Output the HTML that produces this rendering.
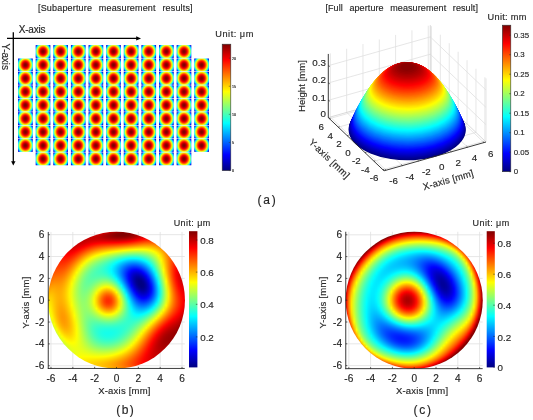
<!DOCTYPE html>
<html><head><meta charset="utf-8"><title>Figure</title>
<style>
html,body{margin:0;padding:0;background:#fff}
#fig{position:relative;width:533px;height:420px;overflow:hidden;background:#fff;font-family:"Liberation Sans", sans-serif}
#fig svg{position:absolute;left:0;top:0;font-family:"Liberation Sans", sans-serif}
.hm{position:absolute;overflow:hidden}
.hm i{display:block;height:1px}
text{fill:#262626;stroke:#262626;stroke-width:.15px}
</style></head><body><div id="fig">
<svg width="533" height="420" viewBox="0 0 533 420">
<line x1="50.98" y1="231.95" x2="50.98" y2="368.45" stroke="#dfdfdf" stroke-width="0.8"/>
<line x1="48.25" y1="365.72" x2="184.75" y2="365.72" stroke="#dfdfdf" stroke-width="0.8"/>
<line x1="72.82" y1="231.95" x2="72.82" y2="368.45" stroke="#dfdfdf" stroke-width="0.8"/>
<line x1="48.25" y1="343.88" x2="184.75" y2="343.88" stroke="#dfdfdf" stroke-width="0.8"/>
<line x1="94.66" y1="231.95" x2="94.66" y2="368.45" stroke="#dfdfdf" stroke-width="0.8"/>
<line x1="48.25" y1="322.04" x2="184.75" y2="322.04" stroke="#dfdfdf" stroke-width="0.8"/>
<line x1="116.5" y1="231.95" x2="116.5" y2="368.45" stroke="#dfdfdf" stroke-width="0.8"/>
<line x1="48.25" y1="300.2" x2="184.75" y2="300.2" stroke="#dfdfdf" stroke-width="0.8"/>
<line x1="138.34" y1="231.95" x2="138.34" y2="368.45" stroke="#dfdfdf" stroke-width="0.8"/>
<line x1="48.25" y1="278.36" x2="184.75" y2="278.36" stroke="#dfdfdf" stroke-width="0.8"/>
<line x1="160.18" y1="231.95" x2="160.18" y2="368.45" stroke="#dfdfdf" stroke-width="0.8"/>
<line x1="48.25" y1="256.52" x2="184.75" y2="256.52" stroke="#dfdfdf" stroke-width="0.8"/>
<line x1="182.02" y1="231.95" x2="182.02" y2="368.45" stroke="#dfdfdf" stroke-width="0.8"/>
<line x1="48.25" y1="234.68" x2="184.75" y2="234.68" stroke="#dfdfdf" stroke-width="0.8"/>
<line x1="348.8" y1="231.75" x2="348.8" y2="368.65" stroke="#dfdfdf" stroke-width="0.8"/>
<line x1="345.75" y1="365.6" x2="482.65" y2="365.6" stroke="#dfdfdf" stroke-width="0.8"/>
<line x1="370.6" y1="231.75" x2="370.6" y2="368.65" stroke="#dfdfdf" stroke-width="0.8"/>
<line x1="345.75" y1="343.8" x2="482.65" y2="343.8" stroke="#dfdfdf" stroke-width="0.8"/>
<line x1="392.4" y1="231.75" x2="392.4" y2="368.65" stroke="#dfdfdf" stroke-width="0.8"/>
<line x1="345.75" y1="322" x2="482.65" y2="322" stroke="#dfdfdf" stroke-width="0.8"/>
<line x1="414.2" y1="231.75" x2="414.2" y2="368.65" stroke="#dfdfdf" stroke-width="0.8"/>
<line x1="345.75" y1="300.2" x2="482.65" y2="300.2" stroke="#dfdfdf" stroke-width="0.8"/>
<line x1="436" y1="231.75" x2="436" y2="368.65" stroke="#dfdfdf" stroke-width="0.8"/>
<line x1="345.75" y1="278.4" x2="482.65" y2="278.4" stroke="#dfdfdf" stroke-width="0.8"/>
<line x1="457.8" y1="231.75" x2="457.8" y2="368.65" stroke="#dfdfdf" stroke-width="0.8"/>
<line x1="345.75" y1="256.6" x2="482.65" y2="256.6" stroke="#dfdfdf" stroke-width="0.8"/>
<line x1="479.6" y1="231.75" x2="479.6" y2="368.65" stroke="#dfdfdf" stroke-width="0.8"/>
<line x1="345.75" y1="234.8" x2="482.65" y2="234.8" stroke="#dfdfdf" stroke-width="0.8"/>
</svg>
<div class="hm" style="left:47px;top:230px;width:139px;height:140px;clip-path:circle(68.47px at 69.5px 70.2px)">
<i style="background:linear-gradient(90deg,#800000,#800000,#800000,#ff0c00,#ff9100,#ffde00,#f9ff06,#ebff14,#edff12,#f9ff06,#fff600,#ffe400,#ffd300,#ffc200,#ffb300,#ffa500,#ff9600,#ff8800,#ff7a00,#ff6b00,#ff5b00,#ff4a00,#ff3800,#ff2600,#ff1300,#ff0100,#ef0000,#df0000,#d10000,#c60000,#bd0000,#b80000,#b50000,#b60000,#b90000,#be0000,#c60000,#ce0000,#d60000,#de0000,#e30000,#e50000,#e40000,#de0000,#d30000,#c20000,#ad0000,#940000,#800000,#800000,#800000,#800000,#800000,#800000,#800000,#800000,#a60000)"></i>
<i style="background:linear-gradient(90deg,#800000,#800000,#800000,#f30000,#ff6e00,#ffb400,#ffd500,#ffdf00,#ffda00,#ffcc00,#ffbc00,#ffaa00,#ff9900,#ff8900,#ff7b00,#ff6e00,#ff6100,#ff5500,#ff4800,#ff3b00,#ff2d00,#ff1e00,#ff0e00,#fc0000,#ec0000,#db0000,#cc0000,#be0000,#b20000,#a80000,#a10000,#9d0000,#9c0000,#9e0000,#a20000,#a90000,#b20000,#bb0000,#c50000,#cd0000,#d40000,#d80000,#d80000,#d30000,#ca0000,#bb0000,#a70000,#900000,#800000,#800000,#800000,#800000,#800000,#800000,#800000,#800000,#b10000)"></i>
<i style="background:linear-gradient(90deg,#800000,#800000,#800000,#e00000,#ff5200,#ff9000,#ffac00,#ffb200,#ffaa00,#ff9c00,#ff8a00,#ff7900,#ff6800,#ff5a00,#ff4d00,#ff4100,#ff3600,#ff2b00,#ff2000,#ff1500,#ff0800,#fa0000,#ec0000,#de0000,#cf0000,#c00000,#b30000,#a60000,#9c0000,#940000,#8e0000,#8b0000,#8c0000,#8f0000,#940000,#9c0000,#a60000,#b00000,#bb0000,#c40000,#cc0000,#d10000,#d20000,#cf0000,#c70000,#b90000,#a70000,#910000,#800000,#800000,#800000,#800000,#800000,#800000,#800000,#800000,#bf0000)"></i>
<i style="background:linear-gradient(90deg,#800000,#800000,#800000,#d20000,#ff3a00,#ff7200,#ff8900,#ff8b00,#ff8200,#ff7200,#ff6100,#ff4f00,#ff4000,#ff3200,#ff2600,#ff1c00,#ff1300,#ff0a00,#ff0100,#f60000,#ec0000,#e10000,#d40000,#c80000,#bb0000,#ae0000,#a20000,#970000,#8e0000,#880000,#830000,#820000,#830000,#870000,#8e0000,#970000,#a10000,#ac0000,#b80000,#c20000,#cb0000,#d00000,#d20000,#d00000,#c90000,#bd0000,#ac0000,#970000,#800000,#800000,#800000,#800000,#800000,#800000,#800000,#820000,#ce0000)"></i>
<i style="background:linear-gradient(90deg,#800000,#800000,#800000,#c60000,#ff2700,#ff5800,#ff6b00,#ff6b00,#ff6000,#ff4f00,#ff3e00,#ff2d00,#ff1e00,#ff1200,#ff0800,#fe0000,#f70000,#f00000,#e90000,#e10000,#d80000,#cf0000,#c40000,#b90000,#ae0000,#a30000,#990000,#900000,#880000,#830000,#800000,#800000,#810000,#860000,#8e0000,#970000,#a20000,#ae0000,#ba0000,#c50000,#ce0000,#d40000,#d70000,#d50000,#cf0000,#c40000,#b40000,#a00000,#8a0000,#800000,#800000,#800000,#800000,#800000,#800000,#920000,#df0000)"></i>
<i style="background:linear-gradient(90deg,#800000,#800000,#800000,#be0000,#ff1700,#ff4300,#ff5200,#ff4f00,#ff4300,#ff3200,#ff2100,#ff1100,#ff0300,#f70000,#ef0000,#e80000,#e20000,#dd0000,#d80000,#d20000,#cb0000,#c30000,#bb0000,#b20000,#a80000,#9f0000,#960000,#8e0000,#880000,#840000,#820000,#820000,#860000,#8b0000,#930000,#9d0000,#a90000,#b50000,#c10000,#cd0000,#d60000,#dd0000,#e00000,#df0000,#d90000,#ce0000,#bf0000,#ac0000,#960000,#800000,#800000,#800000,#800000,#800000,#800000,#a30000,#ef0000)"></i>
<i style="background:linear-gradient(90deg,#800000,#800000,#800000,#b90000,#ff0b00,#ff3200,#ff3d00,#ff3800,#ff2b00,#ff1a00,#ff0900,#f90000,#ed0000,#e30000,#dc0000,#d80000,#d40000,#d00000,#cd0000,#c90000,#c40000,#be0000,#b70000,#b00000,#a80000,#a00000,#990000,#920000,#8e0000,#8b0000,#8a0000,#8b0000,#8f0000,#950000,#9e0000,#a80000,#b40000,#c00000,#cd0000,#d80000,#e20000,#e90000,#ec0000,#eb0000,#e50000,#db0000,#cc0000,#ba0000,#a50000,#8f0000,#800000,#800000,#800000,#800000,#850000,#b40000,#ff0100)"></i>
<i style="background:linear-gradient(90deg,#800000,#800000,#800000,#b50000,#ff0100,#ff2300,#ff2c00,#ff2500,#ff1700,#ff0600,#f50000,#e70000,#dc0000,#d40000,#cf0000,#cc0000,#ca0000,#c90000,#c70000,#c50000,#c20000,#be0000,#b90000,#b30000,#ad0000,#a60000,#a10000,#9c0000,#980000,#960000,#960000,#980000,#9d0000,#a40000,#ac0000,#b70000,#c30000,#cf0000,#db0000,#e70000,#f00000,#f70000,#fa0000,#fa0000,#f40000,#ea0000,#dc0000,#c90000,#b50000,#a00000,#8c0000,#800000,#800000,#800000,#970000,#c60000,#ff1200)"></i>
<i style="background:linear-gradient(90deg,#800000,#800000,#800000,#b40000,#f80000,#ff1700,#ff1d00,#ff1500,#ff0700,#f50000,#e60000,#d90000,#d00000,#ca0000,#c70000,#c60000,#c60000,#c60000,#c60000,#c60000,#c50000,#c20000,#bf0000,#ba0000,#b60000,#b10000,#ad0000,#a90000,#a60000,#a50000,#a60000,#a90000,#ae0000,#b50000,#bf0000,#c90000,#d50000,#e10000,#ed0000,#f80000,#ff0200,#ff0900,#ff0c00,#ff0b00,#ff0600,#fb0000,#ec0000,#da0000,#c60000,#b10000,#9d0000,#8f0000,#890000,#900000,#a80000,#d70000,#ff2200)"></i>
<i style="background:linear-gradient(90deg,#800000,#800000,#800000,#b30000,#f30000,#ff0e00,#ff1200,#ff0900,#f90000,#e90000,#da0000,#cf0000,#c80000,#c30000,#c20000,#c30000,#c50000,#c70000,#c90000,#cb0000,#cb0000,#ca0000,#c80000,#c60000,#c30000,#bf0000,#bc0000,#ba0000,#b80000,#b80000,#ba0000,#be0000,#c30000,#ca0000,#d40000,#de0000,#ea0000,#f60000,#ff0200,#ff0d00,#ff1600,#ff1c00,#ff1e00,#ff1d00,#ff1700,#ff0d00,#fd0000,#eb0000,#d70000,#c20000,#af0000,#a00000,#9b0000,#a10000,#b90000,#e70000,#ff3100)"></i>
<i style="background:linear-gradient(90deg,#800000,#800000,#800000,#b50000,#ef0000,#ff0700,#ff0900,#fe0000,#ef0000,#df0000,#d20000,#c80000,#c30000,#c00000,#c10000,#c40000,#c70000,#cc0000,#d00000,#d30000,#d50000,#d60000,#d50000,#d40000,#d20000,#d00000,#cf0000,#cd0000,#cd0000,#ce0000,#d00000,#d50000,#da0000,#e20000,#eb0000,#f50000,#ff0200,#ff0d00,#ff1800,#ff2200,#ff2a00,#ff3000,#ff3200,#ff3000,#ff2a00,#ff1f00,#ff1000,#fd0000,#e80000,#d30000,#c00000,#b10000,#ab0000,#b20000,#c90000,#f60000,#ff3f00)"></i>
<i style="background:linear-gradient(90deg,#800000,#800000,#800000,#b70000,#ec0000,#ff0100,#ff0200,#f60000,#e70000,#d90000,#cd0000,#c50000,#c00000,#c00000,#c30000,#c70000,#cd0000,#d30000,#d90000,#de0000,#e10000,#e40000,#e50000,#e50000,#e50000,#e40000,#e40000,#e40000,#e40000,#e60000,#e90000,#ee0000,#f40000,#fc0000,#ff0600,#ff1000,#ff1a00,#ff2500,#ff3000,#ff3900,#ff4000,#ff4500,#ff4600,#ff4300,#ff3c00,#ff3100,#ff2200,#ff0f00,#f90000,#e40000,#d10000,#c20000,#bc0000,#c10000,#d80000,#ff0500,#ff4b00)"></i>
<i style="background:linear-gradient(90deg,#800000,#800000,#800000,#b90000,#eb0000,#fc0000,#fb0000,#f00000,#e20000,#d40000,#ca0000,#c30000,#c10000,#c20000,#c70000,#cd0000,#d50000,#dd0000,#e40000,#eb0000,#f00000,#f40000,#f70000,#f90000,#fa0000,#fa0000,#fb0000,#fc0000,#fd0000,#ff0100,#ff0500,#ff0a00,#ff1000,#ff1800,#ff2100,#ff2a00,#ff3500,#ff3f00,#ff4800,#ff5000,#ff5700,#ff5a00,#ff5b00,#ff5700,#ff5000,#ff4400,#ff3400,#ff2000,#ff0b00,#f40000,#e10000,#d20000,#cb0000,#d00000,#e60000,#ff1200,#ff5600)"></i>
<i style="background:linear-gradient(90deg,#800000,#800000,#800000,#bd0000,#ea0000,#fa0000,#f70000,#ec0000,#de0000,#d20000,#c90000,#c40000,#c40000,#c70000,#cd0000,#d60000,#df0000,#e90000,#f20000,#fa0000,#ff0200,#ff0700,#ff0c00,#ff0f00,#ff1100,#ff1300,#ff1400,#ff1600,#ff1900,#ff1d00,#ff2100,#ff2700,#ff2d00,#ff3500,#ff3d00,#ff4600,#ff5000,#ff5900,#ff6200,#ff6900,#ff6e00,#ff7000,#ff7000,#ff6b00,#ff6300,#ff5600,#ff4500,#ff3100,#ff1b00,#ff0500,#f00000,#e00000,#d90000,#dd0000,#f20000,#ff1d00,#ff6000)"></i>
<i style="background:linear-gradient(90deg,#800000,#800000,#800000,#c10000,#eb0000,#f80000,#f50000,#ea0000,#dd0000,#d10000,#ca0000,#c70000,#c80000,#cd0000,#d60000,#e00000,#eb0000,#f70000,#ff0300,#ff0c00,#ff1400,#ff1b00,#ff2100,#ff2500,#ff2800,#ff2b00,#ff2e00,#ff3100,#ff3500,#ff3900,#ff3e00,#ff4400,#ff4b00,#ff5300,#ff5b00,#ff6300,#ff6c00,#ff7400,#ff7c00,#ff8200,#ff8600,#ff8700,#ff8500,#ff7f00,#ff7500,#ff6800,#ff5600,#ff4100,#ff2b00,#ff1400,#fe0000,#ee0000,#e60000,#e90000,#fd0000,#ff2700,#ff6800)"></i>
<i style="background:linear-gradient(90deg,#800000,#800000,#800000,#c50000,#ec0000,#f70000,#f30000,#e80000,#dc0000,#d20000,#cc0000,#cb0000,#ce0000,#d60000,#e00000,#ec0000,#f90000,#ff0700,#ff1300,#ff1e00,#ff2800,#ff3000,#ff3700,#ff3c00,#ff4100,#ff4500,#ff4900,#ff4d00,#ff5200,#ff5700,#ff5c00,#ff6300,#ff6a00,#ff7100,#ff7900,#ff8100,#ff8900,#ff9000,#ff9600,#ff9b00,#ff9d00,#ff9d00,#ff9a00,#ff9300,#ff8800,#ff7900,#ff6600,#ff5100,#ff3900,#ff2100,#ff0c00,#fa0000,#f10000,#f40000,#ff0800,#ff2f00,#ff6f00)"></i>
<i style="background:linear-gradient(90deg,#800000,#800000,#800000,#ca0000,#ee0000,#f70000,#f30000,#e80000,#dd0000,#d40000,#d00000,#d00000,#d60000,#df0000,#eb0000,#f90000,#ff0900,#ff1700,#ff2500,#ff3200,#ff3d00,#ff4600,#ff4e00,#ff5500,#ff5a00,#ff6000,#ff6500,#ff6a00,#ff6f00,#ff7500,#ff7b00,#ff8200,#ff8900,#ff9000,#ff9800,#ff9f00,#ffa600,#ffac00,#ffb100,#ffb400,#ffb500,#ffb400,#ffaf00,#ffa600,#ff9a00,#ff8900,#ff7600,#ff5f00,#ff4700,#ff2e00,#ff1800,#ff0600,#fc0000,#fe0000,#ff1000,#ff3600,#ff7300)"></i>
<i style="background:linear-gradient(90deg,#800000,#800000,#860000,#cf0000,#f00000,#f80000,#f30000,#e90000,#df0000,#d70000,#d50000,#d70000,#de0000,#e90000,#f70000,#ff0800,#ff1900,#ff2900,#ff3800,#ff4600,#ff5200,#ff5c00,#ff6500,#ff6d00,#ff7400,#ff7a00,#ff8000,#ff8700,#ff8d00,#ff9300,#ff9a00,#ffa100,#ffa900,#ffb000,#ffb700,#ffbe00,#ffc400,#ffc900,#ffcc00,#ffce00,#ffcd00,#ffca00,#ffc300,#ffb900,#ffab00,#ff9900,#ff8400,#ff6d00,#ff5300,#ff3a00,#ff2300,#ff1000,#ff0600,#ff0700,#ff1700,#ff3b00,#ff7700)"></i>
<i style="background:linear-gradient(90deg,#800000,#800000,#8f0000,#d40000,#f20000,#f90000,#f40000,#eb0000,#e10000,#db0000,#da0000,#df0000,#e80000,#f50000,#ff0600,#ff1700,#ff2900,#ff3b00,#ff4b00,#ff5a00,#ff6800,#ff7300,#ff7d00,#ff8600,#ff8e00,#ff9500,#ff9c00,#ffa300,#ffab00,#ffb200,#ffb900,#ffc100,#ffc800,#ffd000,#ffd600,#ffdc00,#ffe100,#ffe500,#ffe700,#ffe700,#ffe500,#ffe000,#ffd700,#ffcb00,#ffbc00,#ffa900,#ff9200,#ff7900,#ff5f00,#ff4400,#ff2c00,#ff1900,#ff0d00,#ff0d00,#ff1d00,#ff3f00,#ff7900)"></i>
<i style="background:linear-gradient(90deg,#800000,#800000,#980000,#d90000,#f50000,#fb0000,#f60000,#ed0000,#e50000,#e00000,#e10000,#e70000,#f20000,#ff0200,#ff1400,#ff2700,#ff3a00,#ff4d00,#ff5f00,#ff6f00,#ff7d00,#ff8a00,#ff9500,#ff9f00,#ffa800,#ffb000,#ffb800,#ffc000,#ffc800,#ffd000,#ffd800,#ffe000,#ffe800,#ffef00,#fff600,#fffb00,#ffff00,#fdff02,#fcff03,#feff01,#fffc00,#fff500,#ffeb00,#ffdd00,#ffcc00,#ffb700,#ff9f00,#ff8500,#ff6900,#ff4e00,#ff3400,#ff2000,#ff1400,#ff1300,#ff2100,#ff4100,#ff7900)"></i>
<i style="background:linear-gradient(90deg,#800000,#800000,#a10000,#de0000,#f80000,#fd0000,#f80000,#f00000,#e90000,#e60000,#e80000,#f00000,#fd0000,#ff0f00,#ff2200,#ff3700,#ff4c00,#ff6000,#ff7300,#ff8400,#ff9300,#ffa100,#ffad00,#ffb800,#ffc100,#ffcb00,#ffd400,#ffdd00,#ffe500,#ffee00,#fff700,#feff01,#f6ff09,#efff10,#e9ff16,#e5ff1a,#e2ff1d,#e0ff1f,#e1ff1e,#e5ff1a,#ebff14,#f4ff0b,#fffe00,#ffef00,#ffdb00,#ffc500,#ffab00,#ff9000,#ff7300,#ff5600,#ff3c00,#ff2600,#ff1900,#ff1700,#ff2300,#ff4200,#ff7800)"></i>
<i style="background:linear-gradient(90deg,#800000,#800000,#a90000,#e30000,#fb0000,#ff0100,#fb0000,#f30000,#ed0000,#ec0000,#f00000,#fa0000,#ff0a00,#ff1c00,#ff3100,#ff4700,#ff5e00,#ff7300,#ff8700,#ff9900,#ffa900,#ffb800,#ffc400,#ffd000,#ffdb00,#ffe500,#ffef00,#fff800,#fcff03,#f2ff0d,#e8ff17,#dfff20,#d7ff28,#d0ff2f,#caff35,#c6ff39,#c4ff3b,#c4ff3b,#c7ff38,#ccff33,#d4ff2b,#dfff20,#edff12,#ffff00,#ffea00,#ffd200,#ffb700,#ff9900,#ff7b00,#ff5d00,#ff4200,#ff2b00,#ff1d00,#ff1900,#ff2500,#ff4200,#ff7600)"></i>
<i style="background:linear-gradient(90deg,#800000,#800000,#b10000,#e80000,#fe0000,#ff0300,#fd0000,#f70000,#f20000,#f30000,#f90000,#ff0500,#ff1600,#ff2a00,#ff4000,#ff5800,#ff6f00,#ff8600,#ff9b00,#ffae00,#ffbf00,#ffce00,#ffdb00,#ffe800,#fff300,#fffe00,#f5ff0a,#eaff15,#e0ff1f,#d5ff2a,#cbff34,#c1ff3e,#b8ff47,#b1ff4e,#acff53,#a8ff57,#a7ff58,#a8ff57,#acff53,#b3ff4c,#bdff42,#caff35,#dbff24,#eeff11,#fff800,#ffde00,#ffc100,#ffa200,#ff8200,#ff6300,#ff4700,#ff2f00,#ff2000,#ff1b00,#ff2500,#ff4100,#ff7200)"></i>
<i style="background:linear-gradient(90deg,#800000,#800000,#b90000,#ed0000,#ff0300,#ff0600,#ff0200,#fb0000,#f80000,#fa0000,#ff0300,#ff1000,#ff2200,#ff3800,#ff5000,#ff6900,#ff8100,#ff9900,#ffaf00,#ffc200,#ffd400,#ffe400,#fff200,#ffff00,#f3ff0c,#e7ff18,#dbff24,#d0ff2f,#c4ff3b,#b9ff46,#aeff51,#a3ff5c,#9aff65,#93ff6c,#8eff71,#8bff74,#8aff75,#8dff72,#92ff6d,#9bff64,#a7ff58,#b6ff49,#c9ff36,#dfff20,#f8ff07,#ffea00,#ffcb00,#ffaa00,#ff8900,#ff6900,#ff4b00,#ff3200,#ff2200,#ff1c00,#ff2400,#ff3f00,#ff6e00)"></i>
<i style="background:linear-gradient(90deg,#800000,#800000,#c10000,#f20000,#ff0700,#ff0a00,#ff0500,#ff0100,#fe0000,#ff0200,#ff0c00,#ff1b00,#ff2f00,#ff4600,#ff5f00,#ff7900,#ff9300,#ffac00,#ffc200,#ffd700,#ffe900,#fff900,#f6ff09,#e9ff16,#dcff23,#cfff30,#c3ff3c,#b6ff49,#aaff55,#9dff62,#91ff6e,#86ff79,#7dff82,#75ff8a,#70ff8f,#6dff92,#6eff91,#71ff8e,#78ff87,#83ff7c,#91ff6e,#a2ff5d,#b7ff48,#cfff30,#ebff14,#fff500,#ffd400,#ffb200,#ff8f00,#ff6d00,#ff4e00,#ff3400,#ff2300,#ff1c00,#ff2300,#ff3b00,#ff6900)"></i>
<i style="background:linear-gradient(90deg,#800000,#800000,#c90000,#f70000,#ff0a00,#ff0d00,#ff0900,#ff0500,#ff0500,#ff0a00,#ff1500,#ff2600,#ff3b00,#ff5400,#ff6f00,#ff8a00,#ffa500,#ffbe00,#ffd500,#ffea00,#fffd00,#f0ff0f,#e1ff1e,#d3ff2c,#c6ff39,#b9ff46,#abff54,#9eff61,#90ff6f,#83ff7c,#76ff89,#6aff95,#60ff9f,#58ffa7,#53ffac,#51ffae,#52ffad,#57ffa8,#5fffa0,#6bff94,#7bff84,#8fff70,#a6ff59,#c0ff3f,#deff21,#ffff00,#ffdd00,#ffb900,#ff9400,#ff7100,#ff5100,#ff3600,#ff2300,#ff1a00,#ff2000,#ff3700,#ff6200)"></i>
<i style="background:linear-gradient(90deg,#800000,#800000,#d00000,#fc0000,#ff0e00,#ff1100,#ff0d00,#ff0a00,#ff0b00,#ff1200,#ff1f00,#ff3100,#ff4800,#ff6200,#ff7e00,#ff9a00,#ffb600,#ffd000,#ffe800,#fffd00,#eeff11,#ddff22,#cdff32,#bfff40,#b1ff4e,#a3ff5c,#95ff6a,#86ff79,#78ff87,#69ff96,#5bffa4,#4fffb0,#44ffbb,#3cffc3,#36ffc9,#34ffcb,#36ffc9,#3cffc3,#46ffb9,#54ffab,#66ff99,#7cff83,#95ff6a,#b2ff4d,#d2ff2d,#f5ff0a,#ffe500,#ffbf00,#ff9900,#ff7400,#ff5200,#ff3600,#ff2200,#ff1900,#ff1d00,#ff3200,#ff5b00)"></i>
<i style="background:linear-gradient(90deg,#800000,#830000,#d80000,#ff0200,#ff1200,#ff1400,#ff1200,#ff1000,#ff1200,#ff1a00,#ff2800,#ff3c00,#ff5500,#ff7000,#ff8d00,#ffab00,#ffc700,#ffe200,#fffa00,#efff10,#dbff24,#caff35,#baff45,#abff54,#9dff62,#8eff71,#80ff7f,#70ff8f,#61ff9e,#51ffae,#42ffbd,#34ffcb,#29ffd6,#20ffdf,#1affe5,#19ffe6,#1bffe4,#22ffdd,#2dffd2,#3dffc2,#51ffae,#69ff96,#84ff7b,#a4ff5b,#c6ff39,#ebff14,#ffec00,#ffc400,#ff9d00,#ff7600,#ff5300,#ff3600,#ff2100,#ff1600,#ff1900,#ff2d00,#ff5400)"></i>
<i style="background:linear-gradient(90deg,#800000,#8e0000,#df0000,#ff0800,#ff1600,#ff1800,#ff1600,#ff1500,#ff1900,#ff2200,#ff3200,#ff4800,#ff6200,#ff7e00,#ff9c00,#ffbb00,#ffd800,#fff300,#f3ff0c,#ddff22,#caff35,#b8ff47,#a8ff57,#99ff66,#8aff75,#7bff84,#6cff93,#5bffa4,#4bffb4,#3affc5,#2affd5,#1bffe4,#0ffff0,#05fffa,#00feff,#00fdff,#01fffe,#08fff7,#15ffea,#26ffd9,#3cffc3,#56ffa9,#74ff8b,#96ff69,#baff45,#e2ff1d,#fff300,#ffca00,#ffa000,#ff7800,#ff5400,#ff3500,#ff1f00,#ff1300,#ff1500,#ff2700,#ff4c00)"></i>
<i style="background:linear-gradient(90deg,#800000,#990000,#e60000,#ff0d00,#ff1a00,#ff1c00,#ff1b00,#ff1b00,#ff2000,#ff2b00,#ff3c00,#ff5300,#ff6e00,#ff8c00,#ffab00,#ffca00,#ffe800,#fbff04,#e2ff1d,#ccff33,#b9ff46,#a7ff58,#97ff68,#88ff77,#79ff86,#69ff96,#59ffa6,#48ffb7,#36ffc9,#25ffda,#13ffec,#03fffc,#00f5ff,#00eaff,#00e4ff,#00e2ff,#00e6ff,#00eeff,#00fcff,#10ffef,#27ffd8,#44ffbb,#64ff9b,#88ff77,#afff50,#d8ff27,#fffa00,#ffcf00,#ffa300,#ff7a00,#ff5400,#ff3400,#ff1d00,#ff1000,#ff1000,#ff2100,#ff4400)"></i>
<i style="background:linear-gradient(90deg,#800000,#a30000,#ed0000,#ff1200,#ff1f00,#ff2100,#ff2000,#ff2100,#ff2700,#ff3300,#ff4600,#ff5e00,#ff7b00,#ff9a00,#ffba00,#ffd900,#fff700,#ebff14,#d2ff2d,#bcff43,#a9ff56,#98ff67,#88ff77,#79ff86,#69ff96,#59ffa6,#48ffb7,#36ffc9,#23ffdc,#10ffef,#00fdff,#00ecff,#00ddff,#00d1ff,#00cbff,#00c9ff,#00ccff,#00d5ff,#00e4ff,#00f8ff,#13ffec,#31ffce,#54ffab,#7aff85,#a4ff5b,#d0ff2f,#fdff02,#ffd300,#ffa600,#ff7b00,#ff5400,#ff3300,#ff1a00,#ff0c00,#ff0b00,#ff1a00,#ff3b00)"></i>
<i style="background:linear-gradient(90deg,#800000,#ae0000,#f40000,#ff1700,#ff2300,#ff2500,#ff2500,#ff2700,#ff2e00,#ff3c00,#ff5000,#ff6a00,#ff8700,#ffa700,#ffc800,#ffe800,#f8ff07,#dcff23,#c3ff3c,#adff52,#9aff65,#89ff76,#79ff86,#6aff95,#5bffa4,#4affb5,#39ffc6,#26ffd9,#12ffed,#00fdff,#00e9ff,#00d6ff,#00c6ff,#00baff,#00b2ff,#00b0ff,#00b3ff,#00bdff,#00cdff,#00e3ff,#00feff,#1fffe0,#44ffbb,#6dff92,#99ff66,#c7ff38,#f6ff09,#ffd800,#ffa900,#ff7c00,#ff5400,#ff3100,#ff1700,#ff0800,#ff0600,#ff1300,#ff3200)"></i>
<i style="background:linear-gradient(90deg,#800000,#b80000,#fb0000,#ff1c00,#ff2800,#ff2a00,#ff2a00,#ff2d00,#ff3600,#ff4500,#ff5a00,#ff7500,#ff9400,#ffb400,#ffd600,#fff600,#e9ff16,#cdff32,#b5ff4a,#9fff60,#8dff72,#7cff83,#6dff92,#5dffa2,#4effb1,#3dffc2,#2bffd4,#17ffe8,#02fffd,#00ecff,#00d6ff,#00c2ff,#00b1ff,#00a3ff,#009aff,#0098ff,#009bff,#00a5ff,#00b6ff,#00cdff,#00eaff,#0dfff2,#34ffcb,#5fffa0,#8eff71,#beff41,#f0ff0f,#ffdc00,#ffab00,#ff7d00,#ff5300,#ff3000,#ff1400,#ff0400,#ff0000,#ff0c00,#ff2a00)"></i>
<i style="background:linear-gradient(90deg,#800000,#c20000,#ff0300,#ff2200,#ff2c00,#ff2e00,#ff2f00,#ff3300,#ff3d00,#ff4d00,#ff6400,#ff8000,#ffa000,#ffc100,#ffe300,#faff05,#dbff24,#c0ff3f,#a8ff57,#92ff6d,#80ff7f,#70ff8f,#61ff9e,#52ffad,#42ffbd,#31ffce,#1fffe0,#0afff5,#00f3ff,#00dcff,#00c5ff,#00b0ff,#009cff,#008dff,#0084ff,#0080ff,#0084ff,#008eff,#00a0ff,#00b8ff,#00d6ff,#00fbff,#25ffda,#52ffad,#83ff7c,#b5ff4a,#e9ff16,#ffe100,#ffae00,#ff7e00,#ff5300,#ff2e00,#ff1100,#ff0000,#fa0000,#ff0600,#ff2100)"></i>
<i style="background:linear-gradient(90deg,#800000,#cb0000,#ff0a00,#ff2700,#ff3100,#ff3300,#ff3400,#ff3900,#ff4400,#ff5600,#ff6e00,#ff8b00,#ffab00,#ffce00,#fff000,#edff12,#ceff31,#b3ff4c,#9bff64,#87ff78,#75ff8a,#65ff9a,#57ffa8,#48ffb7,#39ffc6,#27ffd8,#14ffeb,#00feff,#00e7ff,#00ceff,#00b6ff,#009fff,#008aff,#0079ff,#006eff,#006aff,#006dff,#0078ff,#008aff,#00a3ff,#00c3ff,#00e9ff,#15ffea,#45ffba,#78ff87,#adff52,#e3ff1c,#ffe500,#ffb100,#ff7f00,#ff5200,#ff2c00,#ff0e00,#fb0000,#f50000,#fe0000,#ff1800)"></i>
<i style="background:linear-gradient(90deg,#800000,#d50000,#ff1100,#ff2c00,#ff3600,#ff3800,#ff3a00,#ff4000,#ff4c00,#ff5f00,#ff7800,#ff9600,#ffb700,#ffda00,#fffd00,#e0ff1f,#c2ff3d,#a7ff58,#90ff6f,#7cff83,#6bff94,#5cffa3,#4effb1,#40ffbf,#31ffce,#1fffe0,#0cfff3,#00f4ff,#00dcff,#00c2ff,#00a8ff,#008fff,#0078ff,#0066ff,#0059ff,#0054ff,#0057ff,#0062ff,#0074ff,#008fff,#00b0ff,#00d8ff,#06fff9,#37ffc8,#6dff92,#a4ff5b,#dcff23,#ffea00,#ffb300,#ff8000,#ff5200,#ff2a00,#ff0c00,#f70000,#f00000,#f70000,#ff1000)"></i>
<i style="background:linear-gradient(90deg,#800000,#df0000,#ff1800,#ff3200,#ff3b00,#ff3d00,#ff4000,#ff4600,#ff5300,#ff6700,#ff8100,#ffa000,#ffc200,#ffe600,#f5ff0a,#d4ff2b,#b6ff49,#9cff63,#85ff7a,#72ff8d,#62ff9d,#54ffab,#47ffb8,#39ffc6,#2affd5,#19ffe6,#05fffa,#00edff,#00d3ff,#00b8ff,#009cff,#0081ff,#0069ff,#0054ff,#0046ff,#003fff,#0041ff,#004cff,#005fff,#007bff,#009dff,#00c6ff,#00f5ff,#2affd5,#61ff9e,#9bff64,#d6ff29,#ffee00,#ffb600,#ff8100,#ff5200,#ff2900,#ff0900,#f30000,#eb0000,#f10000,#ff0800)"></i>
<i style="background:linear-gradient(90deg,#820000,#e80000,#ff1f00,#ff3700,#ff4000,#ff4200,#ff4500,#ff4d00,#ff5b00,#ff7000,#ff8b00,#ffaa00,#ffcd00,#fff100,#eaff15,#c9ff36,#abff54,#91ff6e,#7cff83,#6aff95,#5bffa4,#4dffb2,#41ffbe,#34ffcb,#25ffda,#14ffeb,#00ffff,#00e7ff,#00ccff,#00b0ff,#0092ff,#0075ff,#005aff,#0044ff,#0033ff,#002bff,#002dff,#0037ff,#004bff,#0067ff,#008bff,#00b5ff,#00e6ff,#1dffe2,#56ffa9,#92ff6d,#cfff30,#fff300,#ffb900,#ff8300,#ff5200,#ff2800,#ff0700,#f00000,#e60000,#eb0000,#ff0100)"></i>
<i style="background:linear-gradient(90deg,#8f0000,#f20000,#ff2600,#ff3d00,#ff4500,#ff4700,#ff4b00,#ff5300,#ff6200,#ff7800,#ff9400,#ffb400,#ffd800,#fffc00,#dfff20,#beff41,#a1ff5e,#88ff77,#73ff8c,#62ff9d,#54ffab,#48ffb7,#3dffc2,#31ffce,#22ffdd,#11ffee,#00fbff,#00e3ff,#00c7ff,#00a9ff,#008aff,#006bff,#004eff,#0035ff,#0023ff,#0019ff,#0019ff,#0023ff,#0037ff,#0054ff,#0078ff,#00a4ff,#00d7ff,#0ffff0,#4bffb4,#89ff76,#c8ff37,#fff800,#ffbc00,#ff8400,#ff5200,#ff2700,#ff0500,#ed0000,#e20000,#e60000,#f80000)"></i>
<i style="background:linear-gradient(90deg,#9d0000,#fb0000,#ff2d00,#ff4300,#ff4a00,#ff4d00,#ff5100,#ff5a00,#ff6a00,#ff8000,#ff9d00,#ffbe00,#ffe200,#f8ff07,#d5ff2a,#b4ff4b,#98ff67,#7fff80,#6cff93,#5cffa3,#4fffb0,#45ffba,#3affc5,#2fffd0,#21ffde,#10ffef,#00faff,#00e1ff,#00c4ff,#00a5ff,#0084ff,#0062ff,#0043ff,#0028ff,#0013ff,#0007ff,#0006ff,#000fff,#0023ff,#0041ff,#0066ff,#0094ff,#00c8ff,#02fffd,#40ffbf,#7fff80,#c0ff3f,#fffe00,#ffc000,#ff8600,#ff5200,#ff2600,#ff0300,#ea0000,#de0000,#e10000,#f20000)"></i>
<i style="background:linear-gradient(90deg,#aa0000,#ff0600,#ff3500,#ff4900,#ff4f00,#ff5200,#ff5600,#ff6000,#ff7100,#ff8800,#ffa600,#ffc800,#ffec00,#eeff11,#cbff34,#abff54,#8fff70,#78ff87,#65ff9a,#57ffa8,#4cffb3,#42ffbd,#39ffc6,#2fffd0,#22ffdd,#11ffee,#00faff,#00e1ff,#00c3ff,#00a2ff,#007fff,#005cff,#003aff,#001cff,#0005ff,#0000f6,#0000f3,#0000fb,#0010ff,#002eff,#0055ff,#0084ff,#00b9ff,#00f4ff,#34ffcb,#76ff89,#b9ff46,#fbff04,#ffc400,#ff8900,#ff5300,#ff2600,#ff0200,#e80000,#db0000,#dc0000,#eb0000)"></i>
<i style="background:linear-gradient(90deg,#b70000,#ff0f00,#ff3c00,#ff4e00,#ff5500,#ff5700,#ff5c00,#ff6700,#ff7800,#ff9000,#ffaf00,#ffd100,#fff500,#e4ff1b,#c2ff3d,#a2ff5d,#87ff78,#71ff8e,#60ff9f,#53ffac,#49ffb6,#41ffbe,#3affc5,#30ffcf,#24ffdb,#13ffec,#00fdff,#00e2ff,#00c3ff,#00a1ff,#007cff,#0057ff,#0033ff,#0012ff,#0000f7,#0000e7,#0000e2,#0000e9,#0000fd,#001cff,#0044ff,#0074ff,#00aaff,#00e7ff,#29ffd6,#6cff93,#b1ff4e,#f5ff0a,#ffc800,#ff8b00,#ff5500,#ff2600,#ff0100,#e60000,#d80000,#d80000,#e60000)"></i>
<i style="background:linear-gradient(90deg,#c40000,#ff1900,#ff4300,#ff5400,#ff5a00,#ff5c00,#ff6200,#ff6d00,#ff7f00,#ff9800,#ffb700,#ffda00,#fffe00,#dbff24,#b9ff46,#9aff65,#80ff7f,#6cff93,#5cffa3,#50ffaf,#48ffb7,#42ffbd,#3cffc3,#33ffcc,#28ffd7,#17ffe8,#02fffd,#00e6ff,#00c6ff,#00a2ff,#007bff,#0054ff,#002dff,#000aff,#0000ec,#0000d9,#0000d2,#0000d8,#0000eb,#000bff,#0033ff,#0064ff,#009cff,#00daff,#1dffe2,#63ff9c,#a9ff56,#efff10,#ffcd00,#ff8e00,#ff5600,#ff2700,#ff0000,#e40000,#d60000,#d50000,#e10000)"></i>
<i style="background:linear-gradient(90deg,#d00000,#ff2200,#ff4a00,#ff5a00,#ff5f00,#ff6200,#ff6700,#ff7300,#ff8600,#ffa000,#ffbf00,#ffe200,#f7ff08,#d3ff2c,#b1ff4e,#93ff6c,#7aff85,#67ff98,#59ffa6,#4fffb0,#49ffb6,#44ffbb,#3fffc0,#38ffc7,#2dffd2,#1dffe2,#08fff7,#00ebff,#00caff,#00a4ff,#007cff,#0052ff,#0029ff,#0004ff,#0000e3,#0000cd,#0000c4,#0000c8,#0000da,#0000f9,#0023ff,#0055ff,#008eff,#00cdff,#12ffed,#59ffa6,#a1ff5e,#e8ff17,#ffd100,#ff9200,#ff5900,#ff2800,#ff0100,#e40000,#d40000,#d20000,#dc0000)"></i>
<i style="background:linear-gradient(90deg,#dd0000,#ff2b00,#ff5100,#ff6000,#ff6400,#ff6700,#ff6d00,#ff7900,#ff8d00,#ffa700,#ffc700,#ffea00,#efff10,#cbff34,#aaff55,#8dff72,#75ff8a,#63ff9c,#56ffa9,#4fffb0,#4affb5,#47ffb8,#44ffbb,#3effc1,#34ffcb,#25ffda,#0ffff0,#00f2ff,#00d0ff,#00a9ff,#007fff,#0053ff,#0028ff,#0000fe,#0000dc,#0000c3,#0000b7,#0000b9,#0000ca,#0000e9,#0013ff,#0046ff,#0080ff,#00c0ff,#07fff8,#4fffb0,#99ff66,#e2ff1d,#ffd700,#ff9600,#ff5b00,#ff2900,#ff0100,#e30000,#d30000,#cf0000,#d80000)"></i>
<i style="background:linear-gradient(90deg,#e90000,#ff3400,#ff5800,#ff6600,#ff6a00,#ff6c00,#ff7300,#ff7f00,#ff9300,#ffae00,#ffce00,#fff200,#e7ff18,#c4ff3b,#a3ff5c,#87ff78,#70ff8f,#60ff9f,#55ffaa,#4fffb0,#4dffb2,#4cffb3,#4affb5,#46ffb9,#3dffc2,#2effd1,#19ffe6,#00fbff,#00d8ff,#00afff,#0083ff,#0055ff,#0027ff,#0000fc,#0000d6,#0000bb,#0000ac,#0000ac,#0000bb,#0000d9,#0004ff,#0037ff,#0072ff,#00b4ff,#00fbff,#46ffb9,#91ff6e,#dbff24,#ffdc00,#ff9a00,#ff5e00,#ff2b00,#ff0200,#e40000,#d20000,#ce0000,#d50000)"></i>
<i style="background:linear-gradient(90deg,#f50000,#ff3d00,#ff5f00,#ff6b00,#ff6f00,#ff7200,#ff7800,#ff8500,#ff9a00,#ffb500,#ffd600,#fff900,#e0ff1f,#bdff42,#9dff62,#82ff7d,#6dff92,#5effa1,#55ffaa,#51ffae,#51ffae,#52ffad,#52ffad,#4fffb0,#48ffb7,#39ffc6,#24ffdb,#06fff9,#00e1ff,#00b7ff,#0089ff,#0059ff,#0029ff,#0000fb,#0000d3,#0000b4,#0000a2,#00009f,#0000ad,#0000ca,#0000f4,#0029ff,#0065ff,#00a8ff,#00f0ff,#3cffc3,#88ff77,#d4ff2b,#ffe200,#ff9e00,#ff6200,#ff2e00,#ff0400,#e40000,#d20000,#cc0000,#d20000)"></i>
<i style="background:linear-gradient(90deg,#ff0300,#ff4600,#ff6600,#ff7100,#ff7400,#ff7700,#ff7d00,#ff8b00,#ffa000,#ffbc00,#ffdc00,#feff01,#d9ff26,#b7ff48,#97ff68,#7eff81,#6aff95,#5dffa2,#56ffa9,#54ffab,#56ffa9,#59ffa6,#5bffa4,#5affa5,#54ffab,#46ffb9,#30ffcf,#13ffec,#00ecff,#00c1ff,#0091ff,#005fff,#002dff,#0000fc,#0000d1,#0000af,#00009a,#000095,#0000a1,#0000bd,#0000e6,#001cff,#0059ff,#009cff,#00e5ff,#32ffcd,#80ff7f,#cdff32,#ffe800,#ffa300,#ff6500,#ff3000,#ff0600,#e60000,#d30000,#cc0000,#d00000)"></i>
<i style="background:linear-gradient(90deg,#ff0e00,#ff4f00,#ff6d00,#ff7700,#ff7900,#ff7c00,#ff8300,#ff9100,#ffa600,#ffc200,#ffe300,#f7ff08,#d3ff2c,#b1ff4e,#93ff6c,#7aff85,#68ff97,#5dffa2,#58ffa7,#58ffa7,#5cffa3,#62ff9d,#66ff99,#66ff99,#61ff9e,#54ffab,#3fffc0,#20ffdf,#00f9ff,#00ccff,#009aff,#0066ff,#0031ff,#0000fe,#0000d1,#0000ac,#000094,#00008c,#000096,#0000b0,#0000da,#000fff,#004dff,#0091ff,#00dbff,#29ffd6,#78ff87,#c6ff39,#ffee00,#ffa800,#ff6900,#ff3400,#ff0800,#e70000,#d30000,#cc0000,#cf0000)"></i>
<i style="background:linear-gradient(90deg,#ff1a00,#ff5800,#ff7300,#ff7c00,#ff7e00,#ff8000,#ff8800,#ff9600,#ffac00,#ffc800,#ffe900,#f1ff0e,#cdff32,#acff53,#8eff71,#77ff88,#66ff99,#5dffa2,#5affa5,#5dffa2,#64ff9b,#6bff94,#72ff8d,#74ff8b,#70ff8f,#64ff9b,#4effb1,#2fffd0,#08fff7,#00d8ff,#00a5ff,#006eff,#0038ff,#0003ff,#0000d3,#0000ab,#000090,#000085,#00008c,#0000a5,#0000ce,#0003ff,#0041ff,#0087ff,#00d1ff,#20ffdf,#70ff8f,#beff41,#fff400,#ffad00,#ff6e00,#ff3700,#ff0b00,#ea0000,#d50000,#cc0000,#ce0000)"></i>
<i style="background:linear-gradient(90deg,#ff2600,#ff6000,#ff7a00,#ff8200,#ff8300,#ff8500,#ff8c00,#ff9b00,#ffb100,#ffce00,#ffef00,#ecff13,#c8ff37,#a7ff58,#8bff74,#75ff8a,#66ff99,#5effa1,#5effa1,#63ff9c,#6cff93,#76ff89,#7fff80,#83ff7c,#80ff7f,#75ff8a,#5fffa0,#40ffbf,#17ffe8,#00e6ff,#00b1ff,#0078ff,#0040ff,#0009ff,#0000d6,#0000ac,#00008e,#000080,#000085,#00009c,#0000c3,#0000f7,#0037ff,#007cff,#00c7ff,#17ffe8,#68ff97,#b7ff48,#fffa00,#ffb200,#ff7200,#ff3b00,#ff0e00,#ec0000,#d70000,#cd0000,#cd0000)"></i>
<i style="background:linear-gradient(90deg,#ff3100,#ff6900,#ff8000,#ff8700,#ff8800,#ff8a00,#ff9100,#ffa000,#ffb600,#ffd300,#fff400,#e6ff19,#c3ff3c,#a3ff5c,#88ff77,#73ff8c,#66ff99,#60ff9f,#62ff9d,#6aff95,#75ff8a,#82ff7d,#8cff73,#93ff6c,#91ff6e,#87ff78,#71ff8e,#51ffae,#28ffd7,#00f5ff,#00beff,#0084ff,#0049ff,#0010ff,#0000db,#0000af,#00008e,#000080,#000080,#000094,#0000ba,#0000ee,#002dff,#0073ff,#00bfff,#0ffff0,#60ff9f,#b0ff4f,#feff01,#ffb800,#ff7700,#ff3f00,#ff1200,#ef0000,#d90000,#ce0000,#cd0000)"></i>
<i style="background:linear-gradient(90deg,#ff3c00,#ff7100,#ff8700,#ff8c00,#ff8c00,#ff8e00,#ff9500,#ffa400,#ffbb00,#ffd800,#fff900,#e2ff1d,#bfff40,#9fff60,#85ff7a,#72ff8d,#66ff99,#63ff9c,#67ff98,#71ff8e,#7fff80,#8eff71,#9bff64,#a4ff5b,#a4ff5b,#9aff65,#85ff7a,#64ff9b,#39ffc6,#06fff9,#00ccff,#0090ff,#0053ff,#0019ff,#0000e2,#0000b3,#000090,#000080,#000080,#00008d,#0000b2,#0000e5,#0024ff,#006aff,#00b6ff,#07fff8,#58ffa7,#aaff55,#f8ff07,#ffbd00,#ff7c00,#ff4400,#ff1600,#f20000,#dc0000,#d00000,#ce0000)"></i>
<i style="background:linear-gradient(90deg,#ff4700,#ff7900,#ff8d00,#ff9100,#ff9100,#ff9200,#ff9a00,#ffa900,#ffbf00,#ffdc00,#fffe00,#ddff22,#bbff44,#9cff63,#83ff7c,#71ff8e,#67ff98,#66ff99,#6dff92,#79ff86,#8aff75,#9cff63,#abff54,#b5ff4a,#b7ff48,#aeff51,#99ff66,#78ff87,#4cffb3,#17ffe8,#00dbff,#009dff,#005fff,#0022ff,#0000e9,#0000b9,#000094,#000080,#000080,#000089,#0000ab,#0000dd,#001cff,#0062ff,#00aeff,#00ffff,#52ffad,#a3ff5c,#f2ff0d,#ffc300,#ff8100,#ff4800,#ff1a00,#f60000,#df0000,#d20000,#cf0000)"></i>
<i style="background:linear-gradient(90deg,#ff5100,#ff8100,#ff9300,#ff9600,#ff9500,#ff9600,#ff9d00,#ffac00,#ffc300,#ffe000,#fcff03,#daff25,#b8ff47,#9aff65,#82ff7d,#71ff8e,#69ff96,#6aff95,#73ff8c,#82ff7d,#95ff6a,#aaff55,#bcff43,#c8ff37,#cbff34,#c3ff3c,#aeff51,#8cff73,#5fffa0,#29ffd6,#00ecff,#00acff,#006bff,#002dff,#0000f2,#0000c0,#000099,#000080,#000080,#000086,#0000a6,#0000d7,#0015ff,#005bff,#00a8ff,#00f8ff,#4bffb4,#9dff62,#ecff13,#ffc800,#ff8600,#ff4d00,#ff1e00,#fa0000,#e20000,#d50000,#d00000)"></i>
<i style="background:linear-gradient(90deg,#ff5c00,#ff8800,#ff9900,#ff9b00,#ff9900,#ff9a00,#ffa100,#ffb000,#ffc700,#ffe400,#f9ff06,#d6ff29,#b5ff4a,#98ff67,#81ff7e,#72ff8d,#6bff94,#6eff91,#79ff86,#8bff74,#a1ff5e,#b8ff47,#cdff32,#dcff23,#e0ff1f,#d9ff26,#c4ff3b,#a2ff5d,#74ff8b,#3cffc3,#00fcff,#00baff,#0078ff,#0038ff,#0000fc,#0000c9,#0000a0,#000085,#000080,#000086,#0000a4,#0000d2,#0010ff,#0055ff,#00a1ff,#00f2ff,#45ffba,#97ff68,#e6ff19,#ffce00,#ff8b00,#ff5200,#ff2300,#fe0000,#e60000,#d80000,#d10000)"></i>
<i style="background:linear-gradient(90deg,#ff6600,#ff9000,#ff9e00,#ff9f00,#ff9d00,#ff9d00,#ffa400,#ffb300,#ffca00,#ffe700,#f6ff09,#d3ff2c,#b3ff4c,#96ff69,#80ff7f,#72ff8d,#6eff91,#73ff8c,#80ff7f,#95ff6a,#aeff51,#c7ff38,#dfff20,#efff10,#f6ff09,#efff10,#daff25,#b7ff48,#88ff77,#4fffb0,#0ffff0,#00caff,#0086ff,#0044ff,#0008ff,#0000d2,#0000a8,#00008b,#000080,#000087,#0000a2,#0000cf,#000bff,#0050ff,#009cff,#00ecff,#40ffbf,#92ff6d,#e1ff1e,#ffd300,#ff9000,#ff5600,#ff2700,#ff0300,#e90000,#db0000,#d30000)"></i>
<i style="background:linear-gradient(90deg,#ff7000,#ff9700,#ffa300,#ffa300,#ffa000,#ffa000,#ffa700,#ffb600,#ffcd00,#ffea00,#f3ff0c,#d1ff2e,#b1ff4e,#95ff6a,#80ff7f,#74ff8b,#71ff8e,#78ff87,#88ff77,#9fff60,#baff45,#d7ff28,#f1ff0e,#fffa00,#fff200,#fff800,#f1ff0e,#ceff31,#9dff62,#62ff9d,#20ffdf,#00daff,#0094ff,#0051ff,#0013ff,#0000dd,#0000b1,#000092,#000085,#00008a,#0000a3,#0000ce,#0009ff,#004dff,#0098ff,#00e8ff,#3bffc4,#8dff72,#dcff23,#ffd800,#ff9500,#ff5b00,#ff2c00,#ff0800,#ed0000,#de0000,#d50000)"></i>
<i style="background:linear-gradient(90deg,#ff7900,#ff9e00,#ffa900,#ffa700,#ffa300,#ffa300,#ffaa00,#ffb900,#ffd000,#ffed00,#f0ff0f,#cfff30,#afff50,#94ff6b,#80ff7f,#75ff8a,#74ff8b,#7dff82,#8fff70,#a8ff57,#c7ff38,#e6ff19,#fffb00,#ffe600,#ffdc00,#ffe100,#fff600,#e4ff1b,#b2ff4d,#76ff89,#32ffcd,#00eaff,#00a3ff,#005eff,#0020ff,#0000e8,#0000bb,#00009b,#00008c,#00008f,#0000a6,#0000ce,#0007ff,#004aff,#0095ff,#00e4ff,#37ffc8,#89ff76,#d8ff27,#ffdc00,#ff9900,#ff6000,#ff3000,#ff0c00,#f10000,#e10000,#d70000)"></i>
<i style="background:linear-gradient(90deg,#ff8200,#ffa400,#ffad00,#ffab00,#ffa600,#ffa500,#ffac00,#ffbb00,#ffd200,#ffef00,#eeff11,#cdff32,#aeff51,#94ff6b,#81ff7e,#77ff88,#78ff87,#82ff7d,#97ff68,#b2ff4d,#d3ff2c,#f6ff09,#ffe900,#ffd200,#ffc600,#ffcb00,#ffdf00,#faff05,#c7ff38,#89ff76,#44ffbb,#00faff,#00b2ff,#006cff,#002cff,#0000f3,#0000c6,#0000a5,#000094,#000095,#0000aa,#0000d0,#0007ff,#0049ff,#0093ff,#00e2ff,#34ffcb,#85ff7a,#d4ff2b,#ffe000,#ff9e00,#ff6400,#ff3500,#ff1000,#f50000,#e40000,#d90000)"></i>
<i style="background:linear-gradient(90deg,#ff8b00,#ffab00,#ffb200,#ffae00,#ffa900,#ffa800,#ffae00,#ffbd00,#ffd400,#fff100,#edff12,#ccff33,#adff52,#94ff6b,#82ff7d,#79ff86,#7bff84,#88ff77,#9eff61,#bcff43,#e0ff1f,#fff900,#ffd700,#ffbe00,#ffb100,#ffb400,#ffc900,#ffef00,#dbff24,#9cff63,#55ffaa,#0bfff4,#00c1ff,#007aff,#0039ff,#0001ff,#0000d2,#0000b0,#00009e,#00009d,#0000b0,#0000d4,#0009ff,#0049ff,#0092ff,#00e0ff,#31ffce,#82ff7d,#d0ff2f,#ffe400,#ffa200,#ff6800,#ff3900,#ff1500,#f90000,#e80000,#db0000)"></i>
<i style="background:linear-gradient(90deg,#ff9300,#ffb100,#ffb600,#ffb100,#ffab00,#ffaa00,#ffb000,#ffbe00,#ffd500,#fff200,#ecff13,#cbff34,#adff52,#94ff6b,#83ff7c,#7cff83,#7fff80,#8dff72,#a5ff5a,#c6ff39,#ecff13,#ffeb00,#ffc600,#ffaa00,#ff9c00,#ff9e00,#ffb300,#ffda00,#efff10,#aeff51,#67ff98,#1bffe4,#00cfff,#0088ff,#0046ff,#000dff,#0000de,#0000bc,#0000a9,#0000a7,#0000b7,#0000d9,#000cff,#004bff,#0092ff,#00dfff,#30ffcf,#80ff7f,#ceff31,#ffe700,#ffa500,#ff6c00,#ff3d00,#ff1900,#fd0000,#eb0000,#dd0000)"></i>
<i style="background:linear-gradient(90deg,#ff9c00,#ffb700,#ffba00,#ffb400,#ffad00,#ffab00,#ffb100,#ffc000,#ffd600,#fff300,#ebff14,#cbff34,#adff52,#95ff6a,#84ff7b,#7eff81,#83ff7c,#92ff6d,#acff53,#cfff30,#f7ff08,#ffdc00,#ffb600,#ff9800,#ff8800,#ff8a00,#ff9f00,#ffc600,#fffc00,#c0ff3f,#77ff88,#2bffd4,#00deff,#0096ff,#0054ff,#001aff,#0000ea,#0000c8,#0000b4,#0000b1,#0000c0,#0000e0,#0011ff,#004eff,#0094ff,#00e0ff,#30ffcf,#7fff80,#ccff33,#ffea00,#ffa800,#ff7000,#ff4100,#ff1d00,#ff0200,#ee0000,#df0000)"></i>
<i style="background:linear-gradient(90deg,#ffa400,#ffbc00,#ffbe00,#ffb700,#ffaf00,#ffac00,#ffb200,#ffc000,#ffd700,#fff300,#ebff14,#cbff34,#adff52,#95ff6a,#86ff79,#80ff7f,#86ff79,#97ff68,#b3ff4c,#d8ff27,#fffc00,#ffcf00,#ffa600,#ff8600,#ff7500,#ff7600,#ff8b00,#ffb300,#ffea00,#d1ff2e,#87ff78,#3affc5,#00ecff,#00a3ff,#0061ff,#0027ff,#0000f7,#0000d5,#0000c1,#0000bd,#0000ca,#0000e8,#0017ff,#0052ff,#0097ff,#00e1ff,#30ffcf,#7fff80,#cbff34,#ffec00,#ffab00,#ff7300,#ff4400,#ff2000,#ff0500,#f10000,#e10000)"></i>
<i style="background:linear-gradient(90deg,#ffab00,#ffc200,#ffc200,#ffb900,#ffb100,#ffad00,#ffb300,#ffc100,#ffd700,#fff300,#ebff14,#cbff34,#aeff51,#96ff69,#88ff77,#83ff7c,#8aff75,#9cff63,#b9ff46,#dfff20,#fff200,#ffc300,#ff9800,#ff7600,#ff6400,#ff6400,#ff7900,#ffa200,#ffda00,#e1ff1e,#96ff69,#48ffb7,#00faff,#00b1ff,#006eff,#0035ff,#0006ff,#0000e2,#0000ce,#0000c9,#0000d5,#0000f2,#001fff,#0058ff,#009bff,#00e4ff,#32ffcd,#7fff80,#caff35,#ffed00,#ffad00,#ff7500,#ff4700,#ff2300,#ff0800,#f30000,#e20000)"></i>
<i style="background:linear-gradient(90deg,#ffb300,#ffc700,#ffc500,#ffbb00,#ffb200,#ffae00,#ffb300,#ffc100,#ffd700,#fff300,#ebff14,#cbff34,#afff50,#98ff67,#89ff76,#85ff7a,#8dff72,#a0ff5f,#bfff40,#e6ff19,#ffe900,#ffb900,#ff8c00,#ff6800,#ff5400,#ff5400,#ff6900,#ff9200,#ffcb00,#efff10,#a4ff5b,#56ffa9,#08fff7,#00beff,#007bff,#0042ff,#0013ff,#0000f0,#0000db,#0000d6,#0000e1,#0000fc,#0028ff,#005fff,#00a0ff,#00e8ff,#34ffcb,#81ff7e,#cbff34,#ffed00,#ffae00,#ff7700,#ff4a00,#ff2600,#ff0b00,#f60000,#e40000)"></i>
<i style="background:linear-gradient(90deg,#ffba00,#ffcb00,#ffc800,#ffbd00,#ffb300,#ffaf00,#ffb300,#ffc100,#ffd600,#fff300,#ecff13,#ccff33,#b0ff4f,#99ff66,#8bff74,#88ff77,#90ff6f,#a4ff5b,#c3ff3c,#edff12,#ffe200,#ffaf00,#ff8100,#ff5c00,#ff4700,#ff4600,#ff5b00,#ff8400,#ffbe00,#fbff04,#b0ff4f,#62ff9d,#15ffea,#00cbff,#0088ff,#004fff,#0021ff,#0000fe,#0000e9,#0000e4,#0000ee,#0009ff,#0032ff,#0067ff,#00a7ff,#00edff,#38ffc7,#83ff7c,#ccff33,#ffed00,#ffaf00,#ff7900,#ff4c00,#ff2900,#ff0e00,#f80000,#e40000)"></i>
<i style="background:linear-gradient(90deg,#ffc000,#ffd000,#ffcb00,#ffbf00,#ffb400,#ffaf00,#ffb300,#ffc000,#ffd600,#fff200,#edff12,#ceff31,#b1ff4e,#9bff64,#8dff72,#8aff75,#92ff6d,#a7ff58,#c8ff37,#f2ff0d,#ffdb00,#ffa800,#ff7800,#ff5200,#ff3c00,#ff3b00,#ff5000,#ff7900,#ffb300,#fff800,#bbff44,#6dff92,#20ffdf,#00d7ff,#0095ff,#005cff,#002eff,#000dff,#0000f8,#0000f2,#0000fc,#0016ff,#003dff,#0071ff,#00afff,#00f3ff,#3dffc2,#86ff79,#ceff31,#ffec00,#ffaf00,#ff7a00,#ff4e00,#ff2b00,#ff1000,#fa0000,#e50000)"></i>
<i style="background:linear-gradient(90deg,#ffc700,#ffd400,#ffce00,#ffc000,#ffb400,#ffaf00,#ffb200,#ffbf00,#ffd500,#fff000,#eeff11,#cfff30,#b3ff4c,#9cff63,#8fff70,#8cff73,#95ff6a,#aaff55,#cbff34,#f5ff0a,#ffd700,#ffa200,#ff7100,#ff4a00,#ff3400,#ff3200,#ff4700,#ff7000,#ffaa00,#ffee00,#c4ff3b,#77ff88,#2bffd4,#00e2ff,#00a1ff,#0069ff,#003cff,#001bff,#0007ff,#0002ff,#000bff,#0023ff,#0049ff,#007bff,#00b8ff,#00fbff,#43ffbc,#8bff74,#d1ff2e,#ffea00,#ffae00,#ff7a00,#ff4f00,#ff2d00,#ff1200,#fb0000,#e50000)"></i>
<i style="background:linear-gradient(90deg,#ffcd00,#ffd800,#ffd000,#ffc200,#ffb500,#ffae00,#ffb100,#ffbe00,#ffd300,#ffef00,#f0ff0f,#d1ff2e,#b4ff4b,#9eff61,#91ff6e,#8eff71,#97ff68,#acff53,#cdff32,#f8ff07,#ffd400,#ff9f00,#ff6d00,#ff4500,#ff2e00,#ff2c00,#ff4100,#ff6a00,#ffa300,#ffe700,#ccff33,#80ff7f,#35ffca,#00edff,#00adff,#0076ff,#0049ff,#0029ff,#0016ff,#0011ff,#001aff,#0031ff,#0056ff,#0087ff,#00c2ff,#04fffb,#4affb5,#90ff6f,#d5ff2a,#ffe800,#ffad00,#ff7a00,#ff5000,#ff2e00,#ff1300,#fc0000,#e50000)"></i>
<i style="background:linear-gradient(90deg,#ffd300,#ffdc00,#ffd300,#ffc300,#ffb500,#ffae00,#ffb000,#ffbc00,#ffd100,#ffed00,#f2ff0d,#d3ff2c,#b6ff49,#a0ff5f,#92ff6d,#8fff70,#98ff67,#aeff51,#ceff31,#faff05,#ffd200,#ff9d00,#ff6b00,#ff4300,#ff2c00,#ff2900,#ff3d00,#ff6600,#ff9f00,#ffe200,#d2ff2d,#87ff78,#3dffc2,#00f7ff,#00b8ff,#0082ff,#0057ff,#0038ff,#0025ff,#0020ff,#0029ff,#0040ff,#0064ff,#0094ff,#00cdff,#0efff1,#52ffad,#97ff68,#daff25,#ffe400,#ffab00,#ff7900,#ff4f00,#ff2e00,#ff1400,#fc0000,#e40000)"></i>
<i style="background:linear-gradient(90deg,#ffd900,#ffe000,#ffd500,#ffc400,#ffb500,#ffad00,#ffaf00,#ffbb00,#ffcf00,#ffeb00,#f4ff0b,#d5ff2a,#b9ff46,#a2ff5d,#94ff6b,#91ff6e,#99ff66,#aeff51,#cfff30,#faff05,#ffd200,#ff9e00,#ff6c00,#ff4400,#ff2c00,#ff2a00,#ff3d00,#ff6500,#ff9d00,#ffdf00,#d6ff29,#8dff72,#45ffba,#01fffe,#00c3ff,#008eff,#0064ff,#0046ff,#0034ff,#0030ff,#0039ff,#0050ff,#0073ff,#00a1ff,#00d9ff,#18ffe7,#5bffa4,#9eff61,#e0ff1f,#ffe000,#ffa800,#ff7700,#ff4f00,#ff2e00,#ff1400,#fc0000,#e30000)"></i>
<i style="background:linear-gradient(90deg,#ffdf00,#ffe400,#ffd700,#ffc500,#ffb500,#ffac00,#ffad00,#ffb900,#ffcd00,#ffe800,#f7ff08,#d7ff28,#bbff44,#a4ff5b,#96ff69,#92ff6d,#9aff65,#aeff51,#ceff31,#f8ff07,#ffd400,#ffa000,#ff6f00,#ff4700,#ff3000,#ff2d00,#ff4000,#ff6700,#ff9e00,#ffdf00,#d9ff26,#91ff6e,#4bffb4,#09fff6,#00cdff,#009aff,#0071ff,#0054ff,#0044ff,#0040ff,#004aff,#0060ff,#0083ff,#00b0ff,#00e6ff,#24ffdb,#64ff9b,#a6ff59,#e7ff18,#ffdb00,#ffa400,#ff7500,#ff4d00,#ff2d00,#ff1300,#fb0000,#e10000)"></i>
<i style="background:linear-gradient(90deg,#ffe400,#ffe700,#ffd900,#ffc500,#ffb400,#ffab00,#ffac00,#ffb700,#ffcb00,#ffe600,#f9ff06,#daff25,#bdff42,#a6ff59,#97ff68,#93ff6c,#9aff65,#aeff51,#cdff32,#f6ff09,#ffd800,#ffa500,#ff7400,#ff4e00,#ff3700,#ff3300,#ff4600,#ff6c00,#ffa100,#ffe000,#daff25,#94ff6b,#50ffaf,#10ffef,#00d6ff,#00a5ff,#007eff,#0063ff,#0053ff,#0051ff,#005bff,#0071ff,#0093ff,#00bfff,#00f4ff,#30ffcf,#6fff90,#afff50,#eeff11,#ffd500,#ffa000,#ff7200,#ff4b00,#ff2c00,#ff1200,#fa0000,#de0000)"></i>
<i style="background:linear-gradient(90deg,#ffea00,#ffeb00,#ffdb00,#ffc600,#ffb400,#ffaa00,#ffaa00,#ffb400,#ffc800,#ffe300,#fcff03,#ddff22,#c0ff3f,#a8ff57,#99ff66,#94ff6b,#9aff65,#adff52,#caff35,#f2ff0d,#ffdd00,#ffab00,#ff7c00,#ff5600,#ff4000,#ff3d00,#ff4e00,#ff7300,#ffa600,#ffe300,#d9ff26,#95ff6a,#54ffab,#17ffe8,#00dfff,#00b0ff,#008bff,#0071ff,#0063ff,#0061ff,#006cff,#0082ff,#00a4ff,#00cfff,#04fffb,#3effc1,#7bff84,#b9ff46,#f6ff09,#ffce00,#ff9b00,#ff6e00,#ff4900,#ff2a00,#ff1100,#f80000,#db0000)"></i>
<i style="background:linear-gradient(90deg,#ffef00,#ffee00,#ffdd00,#ffc700,#ffb400,#ffa900,#ffa800,#ffb200,#ffc500,#ffe000,#ffff00,#e0ff1f,#c2ff3d,#aaff55,#9aff65,#94ff6b,#9aff65,#abff54,#c7ff38,#edff12,#ffe400,#ffb400,#ff8600,#ff6200,#ff4c00,#ff4900,#ff5900,#ff7c00,#ffad00,#ffe800,#d6ff29,#96ff69,#57ffa8,#1cffe3,#00e7ff,#00baff,#0098ff,#007fff,#0073ff,#0072ff,#007dff,#0094ff,#00b5ff,#00e0ff,#13ffec,#4cffb3,#88ff77,#c4ff3b,#fffe00,#ffc700,#ff9500,#ff6a00,#ff4600,#ff2800,#ff0f00,#f50000,#d70000)"></i>
<i style="background:linear-gradient(90deg,#fff400,#fff200,#ffdf00,#ffc700,#ffb300,#ffa700,#ffa600,#ffb000,#ffc300,#ffdd00,#fffc00,#e3ff1c,#c5ff3a,#acff53,#9bff64,#95ff6a,#99ff66,#a8ff57,#c3ff3c,#e7ff18,#ffec00,#ffbe00,#ff9200,#ff6f00,#ff5a00,#ff5700,#ff6700,#ff8800,#ffb700,#ffef00,#d2ff2d,#95ff6a,#59ffa6,#21ffde,#00eeff,#00c4ff,#00a4ff,#008eff,#0082ff,#0083ff,#008fff,#00a6ff,#00c7ff,#00f1ff,#23ffdc,#5bffa4,#95ff6a,#d0ff2f,#fff500,#ffbf00,#ff8e00,#ff6500,#ff4200,#ff2500,#ff0c00,#f20000,#d30000)"></i>
<i style="background:linear-gradient(90deg,#fff900,#fff500,#ffe100,#ffc800,#ffb300,#ffa600,#ffa400,#ffad00,#ffc000,#ffda00,#fff800,#e6ff19,#c7ff38,#aeff51,#9dff62,#95ff6a,#97ff68,#a5ff5a,#beff41,#e0ff1f,#fff500,#ffc900,#ffa000,#ff7f00,#ff6b00,#ff6700,#ff7600,#ff9600,#ffc200,#fff700,#cdff32,#92ff6d,#5affa5,#25ffda,#00f5ff,#00ceff,#00b0ff,#009cff,#0092ff,#0094ff,#00a0ff,#00b8ff,#00d9ff,#04fffb,#34ffcb,#6aff95,#a3ff5c,#dcff23,#ffea00,#ffb600,#ff8700,#ff5f00,#ff3d00,#ff2100,#ff0900,#ef0000,#ce0000)"></i>
<i style="background:linear-gradient(90deg,#ffff00,#fff900,#ffe300,#ffc900,#ffb300,#ffa500,#ffa200,#ffaa00,#ffbd00,#ffd600,#fff500,#e9ff16,#caff35,#b0ff4f,#9eff61,#95ff6a,#96ff69,#a2ff5d,#b9ff46,#d9ff26,#ffff00,#ffd600,#ffaf00,#ff9000,#ff7d00,#ff7a00,#ff8700,#ffa500,#ffcf00,#fdff02,#c7ff38,#8fff70,#5affa5,#28ffd7,#00fbff,#00d7ff,#00bbff,#00a9ff,#00a2ff,#00a5ff,#00b3ff,#00caff,#00ebff,#16ffe9,#46ffb9,#7aff85,#b1ff4e,#e9ff16,#ffdf00,#ffac00,#ff7f00,#ff5900,#ff3800,#ff1d00,#ff0500,#eb0000,#c90000)"></i>
<i style="background:linear-gradient(90deg,#faff05,#fffc00,#ffe500,#ffca00,#ffb300,#ffa400,#ffa000,#ffa800,#ffba00,#ffd300,#fff200,#ecff13,#cdff32,#b2ff4d,#9fff60,#94ff6b,#94ff6b,#9eff61,#b3ff4c,#d0ff2f,#f4ff0b,#ffe400,#ffc000,#ffa200,#ff9000,#ff8d00,#ff9a00,#ffb600,#ffdd00,#f2ff0d,#bfff40,#8bff74,#59ffa6,#2affd5,#02fffd,#00dfff,#00c6ff,#00b7ff,#00b1ff,#00b6ff,#00c5ff,#00ddff,#00feff,#28ffd7,#57ffa8,#8bff74,#c1ff3e,#f7ff08,#ffd300,#ffa200,#ff7700,#ff5200,#ff3300,#ff1900,#ff0100,#e60000,#c30000)"></i>
<i style="background:linear-gradient(90deg,#f5ff0a,#feff01,#ffe800,#ffcb00,#ffb300,#ffa300,#ff9f00,#ffa500,#ffb700,#ffd000,#ffee00,#efff10,#d0ff2f,#b4ff4b,#a0ff5f,#94ff6b,#92ff6d,#9aff65,#acff53,#c7ff38,#e8ff17,#fff300,#ffd100,#ffb600,#ffa500,#ffa200,#ffae00,#ffc800,#ffec00,#e6ff19,#b7ff48,#86ff79,#57ffa8,#2cffd3,#07fff8,#00e8ff,#00d1ff,#00c4ff,#00c1ff,#00c7ff,#00d7ff,#00f0ff,#12ffed,#3bffc4,#69ff96,#9cff63,#d0ff2f,#fff900,#ffc600,#ff9800,#ff6e00,#ff4a00,#ff2d00,#ff1300,#fb0000,#e10000,#bc0000)"></i>
<i style="background:linear-gradient(90deg,#efff10,#faff05,#ffea00,#ffcc00,#ffb300,#ffa200,#ff9d00,#ffa300,#ffb400,#ffcd00,#ffeb00,#f2ff0d,#d3ff2c,#b7ff48,#a1ff5e,#93ff6c,#90ff6f,#96ff69,#a5ff5a,#bdff42,#dbff24,#fcff03,#ffe300,#ffca00,#ffbb00,#ffb800,#ffc300,#ffda00,#fffc00,#d9ff26,#adff52,#80ff7f,#55ffaa,#2effd1,#0cfff3,#00efff,#00dcff,#00d2ff,#00d0ff,#00d8ff,#00e9ff,#04fffb,#26ffd9,#4effb1,#7cff83,#adff52,#e1ff1e,#ffea00,#ffba00,#ff8d00,#ff6500,#ff4300,#ff2600,#ff0e00,#f60000,#db0000,#b50000)"></i>
<i style="background:linear-gradient(90deg,#eaff15,#f6ff09,#ffed00,#ffce00,#ffb300,#ffa200,#ff9b00,#ffa100,#ffb100,#ffc900,#ffe700,#f6ff09,#d5ff2a,#b9ff46,#a2ff5d,#93ff6c,#8dff72,#91ff6e,#9eff61,#b3ff4c,#ceff31,#ecff13,#fff600,#ffdf00,#ffd100,#ffce00,#ffd800,#ffee00,#f2ff0d,#ccff33,#a3ff5c,#7aff85,#52ffad,#2effd1,#10ffef,#00f7ff,#00e6ff,#00dfff,#00dfff,#00e9ff,#00fbff,#17ffe8,#39ffc6,#61ff9e,#8fff70,#bfff40,#f1ff0e,#ffdb00,#ffac00,#ff8100,#ff5b00,#ff3a00,#ff1f00,#ff0800,#f00000,#d50000,#ad0000)"></i>
<i style="background:linear-gradient(90deg,#e4ff1b,#f1ff0e,#fff000,#ffd000,#ffb400,#ffa200,#ff9a00,#ff9f00,#ffae00,#ffc600,#ffe400,#f9ff06,#d8ff27,#bbff44,#a3ff5c,#92ff6d,#8bff74,#8cff73,#97ff68,#a9ff56,#c1ff3e,#dcff23,#f5ff0a,#fff400,#ffe700,#ffe500,#ffee00,#fdff02,#e1ff1e,#beff41,#99ff66,#73ff8c,#4fffb0,#2fffd0,#14ffeb,#00feff,#00f1ff,#00ebff,#00eeff,#00faff,#0ffff0,#2affd5,#4dffb2,#75ff8a,#a2ff5d,#d1ff2e,#fffc00,#ffcc00,#ff9f00,#ff7500,#ff5100,#ff3200,#ff1800,#ff0100,#ea0000,#ce0000,#a50000)"></i>
<i style="background:linear-gradient(90deg,#deff21,#edff12,#fff400,#ffd200,#ffb500,#ffa200,#ff9900,#ff9d00,#ffac00,#ffc300,#ffe100,#fcff03,#dbff24,#bdff42,#a4ff5b,#92ff6d,#88ff77,#88ff77,#90ff6f,#9fff60,#b4ff4b,#ccff33,#e2ff1d,#f5ff0a,#fffd00,#fffb00,#fbff04,#e9ff16,#d0ff2f,#b1ff4e,#8fff70,#6dff92,#4cffb3,#2fffd0,#17ffe8,#06fff9,#00fbff,#00f8ff,#00fdff,#0cfff3,#21ffde,#3dffc2,#60ff9f,#88ff77,#b5ff4a,#e3ff1c,#ffeb00,#ffbd00,#ff9100,#ff6900,#ff4600,#ff2900,#ff1000,#fa0000,#e30000,#c70000,#9c0000)"></i>
<i style="background:linear-gradient(90deg,#d8ff27,#e8ff17,#fff700,#ffd500,#ffb700,#ffa200,#ff9900,#ff9b00,#ffa900,#ffc000,#ffde00,#ffff00,#deff21,#bfff40,#a5ff5a,#91ff6e,#86ff79,#83ff7c,#88ff77,#95ff6a,#a7ff58,#bcff43,#d0ff2f,#e1ff1e,#ebff14,#edff12,#e6ff19,#d6ff29,#bfff40,#a3ff5c,#84ff7b,#66ff99,#49ffb6,#2fffd0,#1bffe4,#0dfff2,#05fffa,#05fffa,#0dfff2,#1cffe3,#33ffcc,#50ffaf,#74ff8b,#9cff63,#c8ff37,#f6ff09,#ffda00,#ffad00,#ff8300,#ff5c00,#ff3b00,#ff2000,#ff0800,#f30000,#dd0000,#c00000,#930000)"></i>
<i style="background:linear-gradient(90deg,#d2ff2d,#e3ff1c,#fffc00,#ffd800,#ffb900,#ffa300,#ff9800,#ff9a00,#ffa700,#ffbe00,#ffdb00,#fffc00,#e1ff1e,#c1ff3e,#a6ff59,#91ff6e,#83ff7c,#7eff81,#81ff7e,#8bff74,#9aff65,#acff53,#beff41,#ccff33,#d5ff2a,#d7ff28,#d1ff2e,#c2ff3d,#aeff51,#95ff6a,#7aff85,#5effa1,#45ffba,#2fffd0,#1effe1,#13ffec,#0ffff0,#11ffee,#1bffe4,#2dffd2,#45ffba,#63ff9c,#87ff78,#afff50,#dbff24,#fff600,#ffc900,#ff9d00,#ff7400,#ff5000,#ff3100,#ff1600,#ff0000,#eb0000,#d60000,#b80000,#890000)"></i>
<i style="background:linear-gradient(90deg,#cbff34,#ddff22,#feff01,#ffdb00,#ffbb00,#ffa400,#ff9800,#ff9900,#ffa500,#ffbb00,#ffd800,#fff900,#e3ff1c,#c3ff3c,#a7ff58,#90ff6f,#81ff7e,#7aff85,#7aff85,#81ff7e,#8eff71,#9dff62,#acff53,#b9ff46,#c1ff3e,#c2ff3d,#bcff43,#b0ff4f,#9eff61,#87ff78,#6fff90,#58ffa7,#42ffbd,#2fffd0,#22ffdd,#1affe5,#18ffe7,#1effe1,#2affd5,#3dffc2,#57ffa8,#76ff89,#9aff65,#c3ff3c,#eeff11,#ffe400,#ffb800,#ff8d00,#ff6600,#ff4300,#ff2600,#ff0d00,#f70000,#e40000,#ce0000,#b00000,#800000)"></i>
<i style="background:linear-gradient(90deg,#c5ff3a,#d7ff28,#f9ff06,#ffdf00,#ffbe00,#ffa600,#ff9900,#ff9900,#ffa400,#ffb900,#ffd500,#fff600,#e6ff19,#c5ff3a,#a8ff57,#90ff6f,#7fff80,#76ff89,#74ff8b,#78ff87,#82ff7d,#8eff71,#9bff64,#a6ff59,#adff52,#aeff51,#a9ff56,#9eff61,#8eff71,#7aff85,#66ff99,#51ffae,#3effc1,#2fffd0,#25ffda,#20ffdf,#22ffdd,#2affd5,#38ffc7,#4dffb2,#68ff97,#89ff76,#aeff51,#d6ff29,#fffd00,#ffd200,#ffa600,#ff7d00,#ff5800,#ff3700,#ff1b00,#ff0300,#ef0000,#dc0000,#c70000,#a70000,#800000)"></i>
<i style="background:linear-gradient(90deg,#beff41,#d1ff2e,#f3ff0c,#ffe400,#ffc100,#ffa800,#ff9a00,#ff9900,#ffa300,#ffb700,#ffd300,#fff300,#e8ff17,#c7ff38,#a9ff56,#90ff6f,#7dff82,#72ff8d,#6dff92,#6fff90,#76ff89,#80ff7f,#8bff74,#94ff6b,#9aff65,#9bff64,#96ff69,#8dff72,#7fff80,#6eff91,#5cffa3,#4bffb4,#3bffc4,#30ffcf,#28ffd7,#27ffd8,#2bffd4,#35ffca,#46ffb9,#5dffa2,#79ff86,#9bff64,#c0ff3f,#e9ff16,#ffea00,#ffc000,#ff9500,#ff6e00,#ff4a00,#ff2a00,#ff1000,#f90000,#e70000,#d50000,#bf0000,#9f0000,#800000)"></i>
<i style="background:linear-gradient(90deg,#b6ff49,#caff35,#eeff11,#ffe900,#ffc500,#ffaa00,#ff9b00,#ff9900,#ffa200,#ffb500,#ffd100,#fff100,#ebff14,#c9ff36,#aaff55,#90ff6f,#7cff83,#6eff91,#68ff97,#67ff98,#6bff94,#73ff8c,#7bff84,#83ff7c,#88ff77,#88ff77,#85ff7a,#7cff83,#70ff8f,#62ff9d,#53ffac,#45ffba,#39ffc6,#30ffcf,#2cffd3,#2dffd2,#34ffcb,#41ffbe,#54ffab,#6dff92,#8bff74,#adff52,#d3ff2c,#fcff03,#ffd800,#ffae00,#ff8500,#ff5e00,#ff3c00,#ff1e00,#ff0500,#f00000,#de0000,#cd0000,#b80000,#960000,#800000)"></i>
<i style="background:linear-gradient(90deg,#afff50,#c3ff3c,#e7ff18,#ffee00,#ffc900,#ffae00,#ff9d00,#ff9a00,#ffa200,#ffb400,#ffcf00,#ffee00,#edff12,#cbff34,#abff54,#90ff6f,#7aff85,#6bff94,#62ff9d,#5fffa0,#61ff9e,#66ff99,#6dff92,#73ff8c,#77ff88,#77ff88,#74ff8b,#6dff92,#63ff9c,#57ffa8,#4bffb4,#40ffbf,#37ffc8,#31ffce,#30ffcf,#34ffcb,#3effc1,#4dffb2,#62ff9d,#7cff83,#9bff64,#bfff40,#e5ff1a,#fff000,#ffc600,#ff9c00,#ff7400,#ff4f00,#ff2e00,#ff1200,#f90000,#e60000,#d60000,#c60000,#b00000,#8e0000,#800000)"></i>
<i style="background:linear-gradient(90deg,#a7ff58,#bcff43,#e0ff1f,#fff400,#ffce00,#ffb100,#ffa000,#ff9b00,#ffa200,#ffb300,#ffcd00,#ffec00,#f0ff0f,#cdff32,#adff52,#90ff6f,#79ff86,#68ff97,#5effa1,#58ffa7,#58ffa7,#5bffa4,#5fffa0,#64ff9b,#67ff98,#67ff98,#65ff9a,#5fffa0,#57ffa8,#4dffb2,#43ffbc,#3bffc4,#35ffca,#32ffcd,#34ffcb,#3bffc4,#47ffb8,#58ffa7,#6fff90,#8bff74,#acff53,#d0ff2f,#f7ff08,#ffde00,#ffb400,#ff8b00,#ff6400,#ff4000,#ff2100,#ff0600,#ef0000,#dd0000,#ce0000,#be0000,#a80000,#850000,#800000)"></i>
<i style="background:linear-gradient(90deg,#a0ff5f,#b4ff4b,#d9ff26,#fffb00,#ffd400,#ffb600,#ffa300,#ff9d00,#ffa300,#ffb300,#ffcc00,#ffea00,#f2ff0d,#cfff30,#aeff51,#91ff6e,#79ff86,#66ff99,#59ffa6,#52ffad,#50ffaf,#51ffae,#53ffac,#56ffa9,#59ffa6,#59ffa6,#57ffa8,#52ffad,#4bffb4,#44ffbb,#3dffc2,#37ffc8,#34ffcb,#34ffcb,#38ffc7,#42ffbd,#50ffaf,#64ff9b,#7dff82,#9bff64,#bcff43,#e1ff1e,#fff500,#ffcc00,#ffa300,#ff7b00,#ff5500,#ff3200,#ff1400,#f90000,#e50000,#d50000,#c70000,#b70000,#a10000,#800000,#800000)"></i>
<i style="background:linear-gradient(90deg,#98ff67,#acff53,#d1ff2e,#fcff03,#ffda00,#ffbb00,#ffa700,#ff9f00,#ffa400,#ffb300,#ffcb00,#ffe900,#f4ff0b,#d1ff2e,#b0ff4f,#92ff6d,#78ff87,#64ff9b,#56ffa9,#4dffb2,#48ffb7,#47ffb8,#48ffb7,#4affb5,#4cffb3,#4cffb3,#4affb5,#46ffb9,#41ffbe,#3cffc3,#37ffc8,#34ffcb,#33ffcc,#36ffc9,#3dffc2,#49ffb6,#5affa5,#70ff8f,#8aff75,#a9ff56,#ccff33,#f2ff0d,#ffe400,#ffbb00,#ff9200,#ff6a00,#ff4500,#ff2400,#ff0700,#ee0000,#db0000,#cc0000,#bf0000,#b00000,#9a0000,#800000,#800000)"></i>
<i style="background:linear-gradient(90deg,#90ff6f,#a3ff5c,#c9ff36,#f4ff0b,#ffe100,#ffc000,#ffab00,#ffa200,#ffa500,#ffb300,#ffca00,#ffe700,#f6ff09,#d3ff2c,#b2ff4d,#93ff6c,#78ff87,#63ff9c,#53ffac,#48ffb7,#42ffbd,#3fffc0,#3effc1,#3fffc0,#40ffbf,#40ffbf,#3effc1,#3cffc3,#38ffc7,#35ffca,#32ffcd,#31ffce,#33ffcc,#39ffc6,#42ffbd,#50ffaf,#63ff9c,#7bff84,#98ff67,#b8ff47,#dcff23,#fffb00,#ffd300,#ffaa00,#ff8100,#ff5b00,#ff3700,#ff1600,#fa0000,#e40000,#d20000,#c40000,#b80000,#a90000,#930000,#800000,#800000)"></i>
<i style="background:linear-gradient(90deg,#88ff77,#9bff64,#c0ff3f,#ecff13,#ffe800,#ffc700,#ffb000,#ffa600,#ffa800,#ffb400,#ffca00,#ffe600,#f7ff08,#d5ff2a,#b3ff4c,#94ff6b,#79ff86,#62ff9d,#51ffae,#44ffbb,#3cffc3,#38ffc7,#36ffc9,#35ffca,#36ffc9,#35ffca,#34ffcb,#33ffcc,#31ffce,#2fffd0,#2effd1,#30ffcf,#34ffcb,#3cffc3,#48ffb7,#58ffa7,#6dff92,#87ff78,#a5ff5a,#c7ff38,#ebff14,#ffeb00,#ffc300,#ff9a00,#ff7200,#ff4b00,#ff2800,#ff0a00,#ef0000,#da0000,#ca0000,#bd0000,#b20000,#a30000,#8c0000,#800000,#800000)"></i>
<i style="background:linear-gradient(90deg,#80ff7f,#92ff6d,#b7ff48,#e4ff1b,#fff000,#ffcd00,#ffb600,#ffaa00,#ffaa00,#ffb600,#ffca00,#ffe600,#f9ff06,#d7ff28,#b5ff4a,#96ff69,#7aff85,#62ff9d,#4fffb0,#41ffbe,#38ffc7,#32ffcd,#2fffd0,#2dffd2,#2dffd2,#2cffd3,#2cffd3,#2bffd4,#2affd5,#2affd5,#2cffd3,#2fffd0,#36ffc9,#40ffbf,#4effb1,#60ff9f,#77ff88,#92ff6d,#b2ff4d,#d5ff2a,#faff05,#ffdc00,#ffb300,#ff8a00,#ff6200,#ff3d00,#ff1b00,#fc0000,#e40000,#d00000,#c10000,#b60000,#ab0000,#9d0000,#850000,#800000,#800000)"></i>
<i style="background:linear-gradient(90deg,#78ff87,#89ff76,#aeff51,#dbff24,#fff900,#ffd500,#ffbc00,#ffaf00,#ffae00,#ffb800,#ffcb00,#ffe500,#faff05,#d9ff26,#b7ff48,#97ff68,#7bff84,#62ff9d,#4effb1,#3fffc0,#34ffcb,#2dffd2,#29ffd6,#26ffd9,#25ffda,#25ffda,#25ffda,#25ffda,#25ffda,#27ffd8,#2affd5,#2fffd0,#38ffc7,#44ffbb,#54ffab,#69ff96,#81ff7e,#9eff61,#bfff40,#e3ff1c,#fff500,#ffcd00,#ffa400,#ff7b00,#ff5400,#ff2f00,#ff0e00,#f10000,#d90000,#c70000,#ba0000,#b00000,#a60000,#980000,#800000,#800000,#800000)"></i>
<i style="background:linear-gradient(90deg,#70ff8f,#80ff7f,#a5ff5a,#d1ff2e,#fdff02,#ffdd00,#ffc300,#ffb400,#ffb200,#ffba00,#ffcc00,#ffe500,#fbff04,#daff25,#b9ff46,#99ff66,#7cff83,#63ff9c,#4effb1,#3effc1,#31ffce,#29ffd6,#24ffdb,#21ffde,#1fffe0,#1fffe0,#1fffe0,#20ffdf,#21ffde,#24ffdb,#29ffd6,#31ffce,#3bffc4,#49ffb6,#5bffa4,#71ff8e,#8cff73,#aaff55,#ccff33,#f0ff0f,#ffe600,#ffbe00,#ff9500,#ff6c00,#ff4600,#ff2200,#ff0200,#e60000,#d00000,#bf0000,#b30000,#aa0000,#a10000,#930000,#800000,#800000,#800000)"></i>
<i style="background:linear-gradient(90deg,#69ff96,#77ff88,#9bff64,#c7ff38,#f3ff0c,#ffe500,#ffca00,#ffba00,#ffb600,#ffbd00,#ffcd00,#ffe500,#fcff03,#dcff23,#bbff44,#9bff64,#7eff81,#64ff9b,#4effb1,#3dffc2,#30ffcf,#27ffd8,#20ffdf,#1dffe2,#1bffe4,#1affe5,#1bffe4,#1cffe3,#1fffe0,#23ffdc,#2affd5,#33ffcc,#3fffc0,#4fffb0,#62ff9d,#7aff85,#96ff69,#b5ff4a,#d8ff27,#feff01,#ffd800,#ffaf00,#ff8600,#ff5e00,#ff3800,#ff1500,#f60000,#dc0000,#c70000,#b80000,#ad0000,#a50000,#9c0000,#8e0000,#800000,#800000,#800000)"></i>
<i style="background:linear-gradient(90deg,#62ff9d,#6eff91,#91ff6e,#bdff42,#e9ff16,#ffee00,#ffd200,#ffc000,#ffbb00,#ffc000,#ffcf00,#ffe600,#fcff03,#ddff22,#bdff42,#9dff62,#80ff7f,#66ff99,#50ffaf,#3dffc2,#2fffd0,#25ffda,#1effe1,#1affe5,#18ffe7,#17ffe8,#18ffe7,#1affe5,#1effe1,#23ffdc,#2bffd4,#36ffc9,#44ffbb,#55ffaa,#6aff95,#84ff7b,#a1ff5e,#c1ff3e,#e5ff1a,#fff300,#ffcb00,#ffa200,#ff7900,#ff5100,#ff2c00,#ff0a00,#eb0000,#d20000,#bf0000,#b10000,#a80000,#a00000,#980000,#8a0000,#800000,#800000,#800000)"></i>
<i style="background:linear-gradient(90deg,#5bffa4,#66ff99,#87ff78,#b3ff4c,#dfff20,#fff800,#ffda00,#ffc700,#ffc000,#ffc400,#ffd200,#ffe700,#fdff02,#dfff20,#bfff40,#a0ff5f,#83ff7c,#68ff97,#51ffae,#3fffc0,#30ffcf,#25ffda,#1dffe2,#18ffe7,#16ffe9,#15ffea,#16ffe9,#19ffe6,#1effe1,#25ffda,#2effd1,#3affc5,#49ffb6,#5cffa3,#73ff8c,#8dff72,#abff54,#cdff32,#f1ff0e,#ffe600,#ffbd00,#ff9400,#ff6c00,#ff4400,#ff2000,#fe0000,#e10000,#ca0000,#b80000,#ac0000,#a30000,#9d0000,#950000,#860000,#800000,#800000,#800000)"></i>
<i style="background:linear-gradient(90deg,#56ffa9,#5dffa2,#7dff82,#a8ff57,#d5ff2a,#fcff03,#ffe300,#ffcf00,#ffc600,#ffc900,#ffd400,#ffe800,#fdff02,#e0ff1f,#c1ff3e,#a2ff5d,#85ff7a,#6bff94,#54ffab,#41ffbe,#31ffce,#26ffd9,#1dffe2,#18ffe7,#15ffea,#15ffea,#16ffe9,#1affe5,#1fffe0,#27ffd8,#31ffce,#3fffc0,#4fffb0,#64ff9b,#7bff84,#97ff68,#b6ff49,#d9ff26,#feff01,#ffd900,#ffb000,#ff8700,#ff5f00,#ff3800,#ff1500,#f40000,#d80000,#c20000,#b20000,#a70000,#9f0000,#9a0000,#920000,#830000,#800000,#800000,#800000)"></i>
<i style="background:linear-gradient(90deg,#51ffae,#56ffa9,#74ff8b,#9eff61,#caff35,#f2ff0d,#ffec00,#ffd700,#ffcd00,#ffcd00,#ffd700,#ffe900,#fdff02,#e1ff1e,#c3ff3c,#a5ff5a,#88ff77,#6eff91,#57ffa8,#43ffbc,#34ffcb,#27ffd8,#1fffe0,#19ffe6,#16ffe9,#16ffe9,#18ffe7,#1cffe3,#22ffdd,#2bffd4,#36ffc9,#45ffba,#56ffa9,#6cff93,#85ff7a,#a1ff5e,#c1ff3e,#e4ff1b,#fff400,#ffcc00,#ffa400,#ff7b00,#ff5300,#ff2d00,#ff0a00,#ea0000,#d00000,#bb0000,#ac0000,#a20000,#9c0000,#970000,#900000,#810000,#800000,#800000,#800000)"></i>
<i style="background:linear-gradient(90deg,#4dffb2,#4fffb0,#6bff94,#93ff6c,#bfff40,#e8ff17,#fff600,#ffdf00,#ffd400,#ffd200,#ffdb00,#ffeb00,#fcff03,#e2ff1d,#c5ff3a,#a8ff57,#8cff73,#72ff8d,#5affa5,#47ffb8,#37ffc8,#2affd5,#21ffde,#1cffe3,#19ffe6,#18ffe7,#1affe5,#1fffe0,#26ffd9,#2fffd0,#3cffc3,#4bffb4,#5effa1,#74ff8b,#8eff71,#acff53,#cdff32,#f0ff0f,#ffe800,#ffc000,#ff9800,#ff6f00,#ff4800,#ff2300,#ff0000,#e20000,#c90000,#b50000,#a80000,#9f0000,#9a0000,#960000,#8f0000,#800000,#800000,#800000,#800000)"></i>
<i style="background:linear-gradient(90deg,#4bffb4,#48ffb7,#62ff9d,#89ff76,#b4ff4b,#ddff22,#feff01,#ffe800,#ffdb00,#ffd800,#ffdf00,#ffed00,#fcff03,#e3ff1c,#c7ff38,#abff54,#8fff70,#76ff89,#5fffa0,#4bffb4,#3bffc4,#2effd1,#25ffda,#1fffe0,#1cffe3,#1cffe3,#1effe1,#23ffdc,#2bffd4,#35ffca,#42ffbd,#53ffac,#67ff98,#7eff81,#99ff66,#b7ff48,#d8ff27,#fcff03,#ffdc00,#ffb400,#ff8c00,#ff6400,#ff3d00,#ff1900,#f70000,#da0000,#c20000,#b00000,#a40000,#9d0000,#980000,#950000,#8e0000,#800000,#800000,#800000,#800000)"></i>
<i style="background:linear-gradient(90deg,#4affb5,#43ffbc,#5affa5,#7fff80,#aaff55,#d2ff2d,#f4ff0b,#fff100,#ffe200,#ffde00,#ffe300,#fff000,#fbff04,#e3ff1c,#c9ff36,#aeff51,#93ff6c,#7aff85,#63ff9c,#50ffaf,#40ffbf,#33ffcc,#2affd5,#24ffdb,#21ffde,#21ffde,#23ffdc,#29ffd6,#31ffce,#3cffc3,#4affb5,#5bffa4,#70ff8f,#88ff77,#a3ff5c,#c2ff3d,#e3ff1c,#fff600,#ffd000,#ffa900,#ff8000,#ff5900,#ff3300,#ff0f00,#ee0000,#d30000,#bd0000,#ac0000,#a10000,#9b0000,#980000,#950000,#8e0000,#800000,#800000,#800000,#800000)"></i>
<i style="background:linear-gradient(90deg,#4affb5,#3fffc0,#52ffad,#76ff89,#9fff60,#c8ff37,#eaff15,#fffa00,#ffea00,#ffe400,#ffe700,#fff300,#faff05,#e4ff1b,#cbff34,#b1ff4e,#97ff68,#7fff80,#69ff96,#55ffaa,#45ffba,#39ffc6,#2fffd0,#29ffd6,#27ffd8,#27ffd8,#2affd5,#2fffd0,#38ffc7,#44ffbb,#52ffad,#64ff9b,#79ff86,#92ff6d,#aeff51,#cdff32,#efff10,#ffeb00,#ffc500,#ff9d00,#ff7600,#ff4f00,#ff2900,#ff0700,#e70000,#cd0000,#b80000,#a90000,#9f0000,#9a0000,#980000,#960000,#8e0000,#800000,#800000,#800000,#800000)"></i>
<i style="background:linear-gradient(90deg,#4dffb2,#3dffc2,#4cffb3,#6dff92,#95ff6a,#bdff42,#e0ff1f,#fbff04,#fff200,#ffeb00,#ffec00,#fff500,#f9ff06,#e5ff1a,#cdff32,#b4ff4b,#9cff63,#84ff7b,#6eff91,#5cffa3,#4cffb3,#3fffc0,#36ffc9,#30ffcf,#2dffd2,#2effd1,#31ffce,#37ffc8,#40ffbf,#4cffb3,#5bffa4,#6eff91,#84ff7b,#9dff62,#b9ff46,#d8ff27,#faff05,#ffdf00,#ffb900,#ff9200,#ff6b00,#ff4500,#ff2000,#fe0000,#e00000,#c70000,#b40000,#a60000,#9e0000,#9a0000,#990000,#970000,#8f0000,#800000,#800000,#800000,#800000)"></i>
<i style="background:linear-gradient(90deg,#52ffad,#3cffc3,#47ffb8,#66ff99,#8cff73,#b3ff4c,#d6ff29,#f1ff0e,#fffa00,#fff100,#fff100,#fff800,#f8ff07,#e5ff1a,#cfff30,#b8ff47,#a0ff5f,#8aff75,#75ff8a,#62ff9d,#53ffac,#47ffb8,#3effc1,#38ffc7,#35ffca,#36ffc9,#39ffc6,#40ffbf,#49ffb6,#56ffa9,#65ff9a,#78ff87,#8fff70,#a8ff57,#c5ff3a,#e4ff1b,#fff800,#ffd400,#ffae00,#ff8700,#ff6100,#ff3b00,#ff1800,#f70000,#da0000,#c30000,#b10000,#a40000,#9d0000,#9b0000,#9a0000,#980000,#910000,#800000,#800000,#800000,#800000)"></i>
<i style="background:linear-gradient(90deg,#59ffa6,#3dffc2,#44ffbb,#5fffa0,#83ff7c,#aaff55,#ccff33,#e8ff17,#fcff03,#fff800,#fff600,#fffc00,#f6ff09,#e5ff1a,#d1ff2e,#bbff44,#a5ff5a,#8fff70,#7bff84,#6aff95,#5bffa4,#4fffb0,#46ffb9,#40ffbf,#3effc1,#3fffc0,#43ffbc,#49ffb6,#53ffac,#60ff9f,#70ff8f,#83ff7c,#9aff65,#b4ff4b,#d0ff2f,#f0ff0f,#ffec00,#ffc800,#ffa300,#ff7d00,#ff5700,#ff3300,#ff1000,#f00000,#d50000,#bf0000,#ae0000,#a30000,#9e0000,#9c0000,#9c0000,#9b0000,#920000,#800000,#800000,#800000,#800000)"></i>
<i style="background:linear-gradient(90deg,#64ff9b,#41ffbe,#42ffbd,#5affa5,#7cff83,#a1ff5e,#c3ff3c,#dfff20,#f4ff0b,#fffe00,#fffb00,#ffff00,#f5ff0a,#e6ff19,#d3ff2c,#bfff40,#aaff55,#95ff6a,#82ff7d,#71ff8e,#63ff9c,#57ffa8,#4fffb0,#4affb5,#48ffb7,#49ffb6,#4dffb2,#54ffab,#5effa1,#6bff94,#7cff83,#8fff70,#a6ff59,#c0ff3f,#dcff23,#fcff03,#ffe000,#ffbd00,#ff9800,#ff7300,#ff4e00,#ff2a00,#ff0900,#ea0000,#d10000,#bc0000,#ad0000,#a30000,#9f0000,#9e0000,#9f0000,#9e0000,#940000,#800000,#800000,#800000,#800000)"></i>
<i style="background:linear-gradient(90deg,#71ff8e,#47ffb8,#42ffbd,#56ffa9,#75ff8a,#98ff67,#baff45,#d7ff28,#ecff13,#f9ff06,#feff01,#fcff03,#f3ff0c,#e6ff19,#d5ff2a,#c3ff3c,#afff50,#9cff63,#8aff75,#79ff86,#6cff93,#61ff9e,#59ffa6,#54ffab,#52ffad,#53ffac,#58ffa7,#5fffa0,#6aff95,#77ff88,#88ff77,#9bff64,#b2ff4d,#ccff33,#e9ff16,#fff600,#ffd500,#ffb200,#ff8e00,#ff6900,#ff4500,#ff2300,#ff0300,#e50000,#cd0000,#ba0000,#ac0000,#a40000,#a00000,#a10000,#a20000,#a10000,#970000,#800000,#800000,#800000,#800000)"></i>
<i style="background:linear-gradient(90deg,#82ff7d,#4fffb0,#45ffba,#54ffab,#70ff8f,#91ff6e,#b2ff4d,#cfff30,#e4ff1b,#f3ff0c,#f9ff06,#f9ff06,#f2ff0d,#e6ff19,#d8ff27,#c6ff39,#b4ff4b,#a2ff5d,#91ff6e,#82ff7d,#75ff8a,#6bff94,#63ff9c,#5fffa0,#5dffa2,#5fffa0,#64ff9b,#6bff94,#76ff89,#83ff7c,#94ff6b,#a8ff57,#bfff40,#d8ff27,#f5ff0a,#ffea00,#ffc900,#ffa700,#ff8300,#ff6000,#ff3d00,#ff1b00,#fc0000,#e00000,#ca0000,#b80000,#ac0000,#a50000,#a30000,#a40000,#a60000,#a40000,#990000,#800000,#800000,#800000,#800000)"></i>
<i style="background:linear-gradient(90deg,#97ff68,#5bffa4,#4affb5,#53ffac,#6cff93,#8bff74,#abff54,#c7ff38,#ddff22,#ecff13,#f4ff0b,#f5ff0a,#f1ff0e,#e7ff18,#daff25,#caff35,#baff45,#a9ff56,#99ff66,#8bff74,#7fff80,#75ff8a,#6fff90,#6aff95,#69ff96,#6bff94,#70ff8f,#78ff87,#83ff7c,#90ff6f,#a1ff5e,#b5ff4a,#ccff33,#e5ff1a,#fffd00,#ffde00,#ffbe00,#ff9c00,#ff7900,#ff5700,#ff3500,#ff1500,#f60000,#dc0000,#c70000,#b70000,#ac0000,#a70000,#a60000,#a80000,#aa0000,#a80000,#9b0000,#800000,#800000,#800000,#800000)"></i>
<i style="background:linear-gradient(90deg,#b0ff4f,#6bff94,#52ffad,#56ffa9,#6aff95,#87ff78,#a5ff5a,#c0ff3f,#d7ff28,#e7ff18,#f0ff0f,#f2ff0d,#efff10,#e7ff18,#dcff23,#ceff31,#bfff40,#b0ff4f,#a2ff5d,#94ff6b,#89ff76,#80ff7f,#7aff85,#77ff88,#76ff89,#78ff87,#7dff82,#85ff7a,#90ff6f,#9eff61,#afff50,#c2ff3d,#d9ff26,#f2ff0d,#fff000,#ffd200,#ffb200,#ff9100,#ff6f00,#ff4e00,#ff2d00,#ff0e00,#f10000,#d90000,#c50000,#b60000,#ad0000,#a90000,#a90000,#ac0000,#ae0000,#ac0000,#9e0000,#800000,#800000,#800000,#800000)"></i>
<i style="background:linear-gradient(90deg,#ceff31,#7eff81,#5dffa2,#5affa5,#6aff95,#84ff7b,#a0ff5f,#bbff44,#d1ff2e,#e2ff1d,#ecff13,#f0ff0f,#eeff11,#e8ff17,#deff21,#d2ff2d,#c5ff3a,#b7ff48,#aaff55,#9eff61,#94ff6b,#8cff73,#86ff79,#83ff7c,#83ff7c,#85ff7a,#8bff74,#93ff6c,#9eff61,#acff53,#bcff43,#d0ff2f,#e6ff19,#ffff00,#ffe300,#ffc600,#ffa700,#ff8700,#ff6600,#ff4500,#ff2600,#ff0900,#ed0000,#d60000,#c40000,#b70000,#af0000,#ac0000,#ad0000,#b00000,#b30000,#af0000,#a00000,#800000,#800000,#800000,#800000)"></i>
<i style="background:linear-gradient(90deg,#f1ff0e,#96ff69,#6cff93,#62ff9d,#6dff92,#83ff7c,#9dff62,#b6ff49,#ccff33,#ddff22,#e8ff17,#edff12,#edff12,#e9ff16,#e1ff1e,#d7ff28,#cbff34,#bfff40,#b3ff4c,#a8ff57,#9fff60,#98ff67,#93ff6c,#90ff6f,#90ff6f,#93ff6c,#99ff66,#a1ff5e,#acff53,#baff45,#cbff34,#deff21,#f4ff0b,#fff200,#ffd700,#ffba00,#ff9c00,#ff7c00,#ff5d00,#ff3d00,#ff1f00,#ff0300,#e90000,#d40000,#c30000,#b70000,#b10000,#af0000,#b10000,#b50000,#b70000,#b30000,#a10000,#800000,#800000,#800000,#800000)"></i>
<i style="background:linear-gradient(90deg,#ffe400,#b2ff4d,#7eff81,#6dff92,#72ff8d,#84ff7b,#9bff64,#b3ff4c,#c8ff37,#d9ff26,#e5ff1a,#ebff14,#edff12,#eaff15,#e4ff1b,#dbff24,#d1ff2e,#c6ff39,#bcff43,#b2ff4d,#aaff55,#a4ff5b,#9fff60,#9eff61,#9eff61,#a1ff5e,#a7ff58,#afff50,#bbff44,#c8ff37,#d9ff26,#ecff13,#fffc00,#ffe400,#ffca00,#ffae00,#ff9100,#ff7200,#ff5400,#ff3600,#ff1900,#fd0000,#e60000,#d20000,#c30000,#b80000,#b30000,#b30000,#b50000,#ba0000,#bb0000,#b60000,#a20000,#800000,#800000,#800000,#800000)"></i>
<i style="background:linear-gradient(90deg,#ffb600,#d3ff2c,#95ff6a,#7bff84,#7aff85,#87ff78,#9bff64,#b1ff4e,#c5ff3a,#d6ff29,#e3ff1c,#eaff15,#edff12,#ebff14,#e7ff18,#e0ff1f,#d7ff28,#ceff31,#c5ff3a,#bcff43,#b5ff4a,#b0ff4f,#acff53,#abff54,#acff53,#b0ff4f,#b6ff49,#beff41,#c9ff36,#d7ff28,#e7ff18,#faff05,#ffef00,#ffd700,#ffbe00,#ffa300,#ff8600,#ff6900,#ff4b00,#ff2f00,#ff1300,#f90000,#e30000,#d00000,#c30000,#ba0000,#b60000,#b60000,#ba0000,#be0000,#c00000,#b90000,#a20000,#800000,#800000,#800000,#800000)"></i>
<i style="background:linear-gradient(90deg,#ff8100,#faff05,#b0ff4f,#8eff71,#85ff7a,#8dff72,#9dff62,#b1ff4e,#c4ff3b,#d4ff2b,#e1ff1e,#e9ff16,#edff12,#edff12,#eaff15,#e4ff1b,#ddff22,#d6ff29,#ceff31,#c7ff38,#c1ff3e,#bcff43,#baff45,#b9ff46,#baff45,#beff41,#c4ff3b,#cdff32,#d8ff27,#e6ff19,#f6ff09,#fff600,#ffe100,#ffca00,#ffb200,#ff9700,#ff7c00,#ff5f00,#ff4300,#ff2800,#ff0e00,#f50000,#e00000,#cf0000,#c30000,#bc0000,#b90000,#ba0000,#be0000,#c30000,#c30000,#bb0000,#a10000,#800000,#800000,#800000,#800000)"></i>
<i style="background:linear-gradient(90deg,#ff4500,#ffd700,#d0ff2f,#a4ff5b,#94ff6b,#96ff69,#a2ff5d,#b3ff4c,#c4ff3b,#d4ff2b,#e0ff1f,#e9ff16,#eeff11,#efff10,#edff12,#e9ff16,#e4ff1b,#ddff22,#d7ff28,#d1ff2e,#ccff33,#c9ff36,#c7ff38,#c7ff38,#c9ff36,#cdff32,#d3ff2c,#dcff23,#e7ff18,#f4ff0b,#fffa00,#ffe800,#ffd400,#ffbd00,#ffa500,#ff8c00,#ff7200,#ff5600,#ff3c00,#ff2100,#ff0900,#f10000,#de0000,#cf0000,#c40000,#be0000,#bc0000,#be0000,#c30000,#c70000,#c60000,#bc0000,#9f0000,#800000,#800000,#800000,#800000)"></i>
<i style="background:linear-gradient(90deg,#ff0200,#ffa400,#f6ff09,#bfff40,#a6ff59,#a2ff5d,#a9ff56,#b6ff49,#c6ff39,#d4ff2b,#e0ff1f,#e9ff16,#efff10,#f1ff0e,#f1ff0e,#eeff11,#eaff15,#e5ff1a,#e0ff1f,#dcff23,#d8ff27,#d5ff2a,#d4ff2b,#d5ff2a,#d7ff28,#dcff23,#e2ff1d,#ebff14,#f6ff09,#fffb00,#ffec00,#ffda00,#ffc600,#ffb100,#ff9a00,#ff8100,#ff6800,#ff4e00,#ff3400,#ff1b00,#ff0400,#ee0000,#dc0000,#ce0000,#c50000,#c00000,#bf0000,#c20000,#c70000,#ca0000,#c90000,#bc0000,#9c0000,#800000,#800000,#800000,#800000)"></i>
<i style="background:linear-gradient(90deg,#b50000,#ff6a00,#ffdc00,#dfff20,#bdff42,#b1ff4e,#b3ff4c,#bdff42,#c9ff36,#d6ff29,#e2ff1d,#ebff14,#f1ff0e,#f4ff0b,#f5ff0a,#f3ff0c,#f1ff0e,#edff12,#e9ff16,#e6ff19,#e3ff1c,#e2ff1d,#e1ff1e,#e2ff1d,#e5ff1a,#eaff15,#f1ff0e,#faff05,#fff900,#ffed00,#ffde00,#ffcc00,#ffb900,#ffa500,#ff8e00,#ff7700,#ff5e00,#ff4600,#ff2d00,#ff1600,#ff0000,#eb0000,#db0000,#cf0000,#c60000,#c20000,#c20000,#c60000,#ca0000,#cd0000,#ca0000,#bb0000,#970000,#800000,#800000,#800000,#800000)"></i>
<i style="background:linear-gradient(90deg,#800000,#ff2900,#ffaa00,#fffa00,#d8ff27,#c4ff3b,#c0ff3f,#c5ff3a,#cfff30,#daff25,#e4ff1b,#edff12,#f3ff0c,#f7ff08,#f9ff06,#f9ff06,#f7ff08,#f5ff0a,#f2ff0d,#f0ff0f,#eeff11,#eeff11,#eeff11,#f0ff0f,#f3ff0c,#f8ff07,#ffff00,#fff600,#ffeb00,#ffde00,#ffd000,#ffbf00,#ffad00,#ff9900,#ff8400,#ff6d00,#ff5600,#ff3e00,#ff2700,#ff1100,#fb0000,#e90000,#da0000,#cf0000,#c80000,#c50000,#c60000,#c90000,#cd0000,#cf0000,#ca0000,#b80000,#900000,#800000,#800000,#800000,#800000)"></i>
<i style="background:linear-gradient(90deg,#800000,#df0000,#ff7200,#ffcf00,#f8ff07,#dbff24,#d0ff2f,#d0ff2f,#d6ff29,#dfff20,#e8ff17,#f0ff0f,#f6ff09,#fbff04,#fdff02,#feff01,#feff01,#fdff02,#fbff04,#faff05,#f9ff06,#f9ff06,#fbff04,#fdff02,#fffd00,#fff800,#fff100,#ffe800,#ffdd00,#ffd100,#ffc300,#ffb300,#ffa100,#ff8e00,#ff7900,#ff6400,#ff4d00,#ff3700,#ff2100,#ff0c00,#f80000,#e70000,#da0000,#cf0000,#c90000,#c70000,#c90000,#cc0000,#d00000,#d10000,#ca0000,#b40000,#860000,#800000,#800000,#800000,#800000)"></i>
<i style="background:linear-gradient(90deg,#800000,#8d0000,#ff3200,#ff9e00,#ffe100,#f7ff08,#e4ff1b,#dfff20,#e0ff1f,#e6ff19,#edff12,#f4ff0b,#faff05,#ffff00,#fffc00,#fffb00,#fffa00,#fffa00,#fffa00,#fffa00,#fffa00,#fff900,#fff700,#fff500,#fff000,#ffeb00,#ffe300,#ffdb00,#ffd000,#ffc400,#ffb600,#ffa700,#ff9600,#ff8300,#ff7000,#ff5b00,#ff4600,#ff3100,#ff1c00,#ff0800,#f50000,#e60000,#d90000,#d00000,#cb0000,#ca0000,#cb0000,#cf0000,#d20000,#d10000,#c70000,#ad0000,#800000,#800000,#800000,#800000,#800000)"></i>
<i style="background:linear-gradient(90deg,#800000,#800000,#ea0000,#ff6700,#ffb700,#ffe700,#fcff03,#f0ff0f,#edff12,#efff10,#f4ff0b,#f9ff06,#ffff00,#fffb00,#fff700,#fff500,#fff400,#fff300,#fff200,#fff100,#fff000,#ffef00,#ffec00,#ffe900,#ffe400,#ffde00,#ffd700,#ffce00,#ffc400,#ffb800,#ffab00,#ff9c00,#ff8b00,#ff7a00,#ff6700,#ff5300,#ff3f00,#ff2b00,#ff1700,#ff0500,#f30000,#e50000,#d90000,#d10000,#cd0000,#cc0000,#ce0000,#d10000,#d20000,#d00000,#c30000,#a50000,#800000,#800000,#800000,#800000,#800000)"></i>
<i style="background:linear-gradient(90deg,#800000,#800000,#9b0000,#ff2900,#ff8700,#ffc300,#ffe700,#fffa00,#fcff03,#faff05,#fcff03,#fffe00,#fffa00,#fff600,#fff300,#fff000,#ffee00,#ffec00,#ffeb00,#ffe900,#ffe700,#ffe500,#ffe200,#ffde00,#ffd900,#ffd200,#ffcb00,#ffc200,#ffb800,#ffad00,#ffa000,#ff9100,#ff8200,#ff7100,#ff5f00,#ff4c00,#ff3900,#ff2600,#ff1400,#ff0200,#f20000,#e40000,#da0000,#d30000,#cf0000,#ce0000,#cf0000,#d20000,#d20000,#cd0000,#bd0000,#9a0000,#800000,#800000,#800000,#800000,#800000)"></i>
<i style="background:linear-gradient(90deg,#800000,#800000,#800000,#e30000,#ff5100,#ff9900,#ffc700,#ffe200,#fff100,#fff700,#fff800,#fff700,#fff400,#fff100,#ffed00,#ffeb00,#ffe800,#ffe600,#ffe400,#ffe100,#ffdf00,#ffdc00,#ffd800,#ffd400,#ffce00,#ffc800,#ffc100,#ffb800,#ffae00,#ffa300,#ff9600,#ff8900,#ff7900,#ff6900,#ff5800,#ff4700,#ff3400,#ff2200,#ff1100,#ff0100,#f10000,#e50000,#db0000,#d40000,#d10000,#d00000,#d10000,#d20000,#d10000,#c90000,#b50000,#8c0000,#800000,#800000,#800000,#800000,#800000)"></i>
<i style="background:linear-gradient(90deg,#800000,#800000,#800000,#960000,#ff1400,#ff6a00,#ffa300,#ffc700,#ffdc00,#ffe800,#ffed00,#ffee00,#ffed00,#ffeb00,#ffe800,#ffe600,#ffe300,#ffe000,#ffde00,#ffdb00,#ffd800,#ffd400,#ffd000,#ffcb00,#ffc500,#ffbf00,#ffb700,#ffaf00,#ffa500,#ff9a00,#ff8e00,#ff8100,#ff7300,#ff6300,#ff5300,#ff4200,#ff3100,#ff2000,#ff0f00,#ff0000,#f10000,#e50000,#dc0000,#d60000,#d20000,#d10000,#d20000,#d10000,#ce0000,#c30000,#aa0000,#800000,#800000,#800000,#800000,#800000,#800000)"></i>
<i style="background:linear-gradient(90deg,#800000,#800000,#800000,#800000,#d00000,#ff3600,#ff7a00,#ffa800,#ffc500,#ffd600,#ffe000,#ffe400,#ffe600,#ffe500,#ffe300,#ffe100,#ffdf00,#ffdc00,#ffd900,#ffd500,#ffd200,#ffce00,#ffc900,#ffc400,#ffbe00,#ffb700,#ffb000,#ffa700,#ff9e00,#ff9300,#ff8800,#ff7b00,#ff6d00,#ff5e00,#ff4f00,#ff3f00,#ff2e00,#ff1e00,#ff0e00,#ff0000,#f20000,#e70000,#de0000,#d80000,#d40000,#d30000,#d20000,#d00000,#c90000,#bb0000,#9d0000,#800000,#800000,#800000,#800000,#800000,#800000)"></i>
<i style="background:linear-gradient(90deg,#800000,#800000,#800000,#800000,#860000,#fa0000,#ff4d00,#ff8500,#ffaa00,#ffc200,#ffd100,#ffda00,#ffde00,#ffdf00,#ffdf00,#ffdd00,#ffdb00,#ffd800,#ffd500,#ffd100,#ffcd00,#ffc900,#ffc400,#ffbf00,#ffb900,#ffb200,#ffaa00,#ffa200,#ff9900,#ff8f00,#ff8300,#ff7700,#ff6a00,#ff5c00,#ff4d00,#ff3d00,#ff2e00,#ff1e00,#ff0f00,#ff0100,#f40000,#e90000,#e00000,#da0000,#d60000,#d30000,#d10000,#cd0000,#c30000,#b00000,#8d0000,#800000,#800000,#800000,#800000,#800000,#800000)"></i>
<i style="background:linear-gradient(90deg,#800000,#800000,#800000,#800000,#800000,#ba0000,#ff1a00,#ff5e00,#ff8d00,#ffac00,#ffc100,#ffce00,#ffd500,#ffd900,#ffdb00,#ffda00,#ffd800,#ffd600,#ffd300,#ffcf00,#ffcb00,#ffc600,#ffc100,#ffbc00,#ffb600,#ffaf00,#ffa700,#ff9f00,#ff9600,#ff8c00,#ff8100,#ff7500,#ff6800,#ff5b00,#ff4d00,#ff3e00,#ff2f00,#ff2000,#ff1100,#ff0400,#f70000,#ec0000,#e30000,#dd0000,#d80000,#d40000,#d00000,#c90000,#bc0000,#a40000,#800000,#800000,#800000,#800000,#800000,#800000,#800000)"></i>
<i style="background:linear-gradient(90deg,#800000,#800000,#800000,#800000,#800000,#800000,#e20000,#ff3300,#ff6c00,#ff9400,#ffaf00,#ffc100,#ffcd00,#ffd300,#ffd700,#ffd800,#ffd700,#ffd500,#ffd300,#ffcf00,#ffcb00,#ffc600,#ffc100,#ffbb00,#ffb500,#ffae00,#ffa700,#ff9f00,#ff9600,#ff8c00,#ff8100,#ff7600,#ff6a00,#ff5c00,#ff4f00,#ff4000,#ff3200,#ff2300,#ff1500,#ff0800,#fb0000,#f00000,#e70000,#e00000,#da0000,#d40000,#ce0000,#c30000,#b20000,#940000,#800000,#800000,#800000,#800000,#800000,#800000,#800000)"></i>
<i style="background:linear-gradient(90deg,#800000,#800000,#800000,#800000,#800000,#800000,#a60000,#ff0400,#ff4800,#ff7900,#ff9c00,#ffb400,#ffc400,#ffce00,#ffd400,#ffd700,#ffd800,#ffd700,#ffd400,#ffd100,#ffcd00,#ffc900,#ffc300,#ffbe00,#ffb700,#ffb100,#ffa900,#ffa100,#ff9800,#ff8f00,#ff8500,#ff7a00,#ff6e00,#ff6100,#ff5300,#ff4600,#ff3700,#ff2900,#ff1b00,#ff0e00,#ff0200,#f60000,#ec0000,#e30000,#dc0000,#d40000,#cb0000,#bd0000,#a60000,#820000,#800000,#800000,#800000,#800000,#800000,#800000,#800000)"></i>
<i style="background:linear-gradient(90deg,#800000,#800000,#800000,#800000,#800000,#800000,#800000,#d00000,#ff2200,#ff5d00,#ff8800,#ffa600,#ffbb00,#ffc900,#ffd200,#ffd800,#ffda00,#ffda00,#ffd900,#ffd600,#ffd300,#ffce00,#ffc900,#ffc300,#ffbd00,#ffb600,#ffaf00,#ffa700,#ff9f00,#ff9500,#ff8b00,#ff8100,#ff7500,#ff6800,#ff5b00,#ff4e00,#ff3f00,#ff3100,#ff2300,#ff1600,#ff0900,#fc0000,#f20000,#e80000,#de0000,#d40000,#c70000,#b40000,#990000,#800000,#800000,#800000,#800000,#800000,#800000,#800000,#800000)"></i>
<i style="background:linear-gradient(90deg,#800000,#800000,#800000,#800000,#800000,#800000,#800000,#990000,#f70000,#ff3e00,#ff7200,#ff9800,#ffb300,#ffc600,#ffd200,#ffda00,#ffdf00,#ffe100,#ffe000,#ffde00,#ffdb00,#ffd700,#ffd200,#ffcd00,#ffc700,#ffc000,#ffb900,#ffb100,#ffa900,#ffa000,#ff9600,#ff8b00,#ff8000,#ff7300,#ff6600,#ff5900,#ff4b00,#ff3c00,#ff2e00,#ff2000,#ff1300,#ff0600,#f90000,#ed0000,#e10000,#d30000,#c20000,#ab0000,#890000,#800000,#800000,#800000,#800000,#800000,#800000,#800000,#800000)"></i>
<i style="background:linear-gradient(90deg,#800000,#800000,#800000,#800000,#800000,#800000,#800000,#800000,#cb0000,#ff1e00,#ff5b00,#ff8900,#ffab00,#ffc300,#ffd400,#ffdf00,#ffe600,#ffea00,#ffeb00,#ffea00,#ffe800,#ffe500,#ffe000,#ffdb00,#ffd500,#ffcf00,#ffc800,#ffc000,#ffb800,#ffaf00,#ffa500,#ff9a00,#ff8f00,#ff8300,#ff7500,#ff6800,#ff5900,#ff4b00,#ff3c00,#ff2d00,#ff1e00,#ff1000,#ff0200,#f30000,#e40000,#d30000,#bd0000,#a00000,#800000,#800000,#800000,#800000,#800000,#800000,#800000,#800000,#800000)"></i>
</div>
<div class="hm" style="left:344px;top:230px;width:140px;height:140px;clip-path:circle(68.56px at 70.2px 70.2px)">
<i style="background:linear-gradient(90deg,#000080,#000080,#000080,#000080,#000080,#000080,#000080,#000080,#000080,#000080,#000080,#000080,#000080,#000080,#000080,#000080,#000080,#000080,#009fff,#f2ff0d,#ff4e00,#e30000,#ab0000,#8f0000,#820000,#800000,#800000,#800000,#820000,#850000,#890000,#8e0000,#970000,#a60000,#c10000,#f20000,#ff4a00,#ffe500,#09fff6,#000080,#000080,#000080,#000080,#000080,#000080,#000080,#000080,#000080,#000080,#000080,#000080,#000080,#000080,#000080,#000080,#000080,#000080)"></i>
<i style="background:linear-gradient(90deg,#000080,#000080,#000080,#000080,#000080,#000080,#000080,#000080,#000080,#000080,#000080,#000080,#000080,#000080,#000080,#000080,#000080,#00b0ff,#ffe500,#ff2400,#c00000,#900000,#800000,#800000,#800000,#800000,#860000,#8b0000,#8f0000,#920000,#940000,#950000,#960000,#990000,#a10000,#b50000,#dd0000,#ff2e00,#ffc700,#1bffe4,#000080,#000080,#000080,#000080,#000080,#000080,#000080,#000080,#000080,#000080,#000080,#000080,#000080,#000080,#000080,#000080,#000080)"></i>
<i style="background:linear-gradient(90deg,#000080,#000080,#000080,#000080,#000080,#000080,#000080,#000080,#000080,#000080,#000080,#000080,#000080,#000080,#000080,#000080,#008fff,#ffdd00,#ff1000,#ac0000,#820000,#800000,#800000,#800000,#8b0000,#950000,#9f0000,#a60000,#ab0000,#ae0000,#af0000,#ae0000,#ac0000,#a80000,#a60000,#a90000,#b50000,#d70000,#ff2500,#ffc400,#03fffc,#000080,#000080,#000080,#000080,#000080,#000080,#000080,#000080,#000080,#000080,#000080,#000080,#000080,#000080,#000080,#000080)"></i>
<i style="background:linear-gradient(90deg,#000080,#000080,#000080,#000080,#000080,#000080,#000080,#000080,#000080,#000080,#000080,#000080,#000080,#000080,#000080,#0034ff,#fff400,#ff0d00,#a20000,#800000,#800000,#800000,#890000,#990000,#a80000,#b60000,#c10000,#c90000,#cf0000,#d20000,#d20000,#d10000,#cc0000,#c60000,#bf0000,#b80000,#b50000,#bc0000,#da0000,#ff2a00,#ffd800,#00bfff,#000080,#000080,#000080,#000080,#000080,#000080,#000080,#000080,#000080,#000080,#000080,#000080,#000080,#000080,#000080)"></i>
<i style="background:linear-gradient(90deg,#000080,#000080,#000080,#000080,#000080,#000080,#000080,#000080,#000080,#000080,#000080,#000080,#000080,#000080,#00008f,#d0ff2f,#ff1a00,#a00000,#800000,#800000,#800000,#920000,#a70000,#bb0000,#cc0000,#db0000,#e60000,#ef0000,#f50000,#f80000,#f90000,#f70000,#f20000,#eb0000,#e20000,#d70000,#cb0000,#c30000,#c60000,#e40000,#ff3b00,#f7ff08,#0045ff,#000080,#000080,#000080,#000080,#000080,#000080,#000080,#000080,#000080,#000080,#000080,#000080,#000080,#000080)"></i>
<i style="background:linear-gradient(90deg,#000080,#000080,#000080,#000080,#000080,#000080,#000080,#000080,#000080,#000080,#000080,#000080,#000080,#000080,#66ff99,#ff3d00,#a60000,#800000,#800000,#810000,#990000,#b30000,#cb0000,#e00000,#f20000,#ff0200,#ff0d00,#ff1600,#ff1c00,#ff2000,#ff2100,#ff1f00,#ff1b00,#ff1400,#ff0a00,#fc0000,#ed0000,#dd0000,#d10000,#d20000,#f20000,#ff5a00,#a7ff58,#000080,#000080,#000080,#000080,#000080,#000080,#000080,#000080,#000080,#000080,#000080,#000080,#000080,#000080)"></i>
<i style="background:linear-gradient(90deg,#000080,#000080,#000080,#000080,#000080,#000080,#000080,#000080,#000080,#000080,#000080,#000080,#000080,#00b8ff,#ff7c00,#b80000,#800000,#800000,#810000,#9d0000,#bc0000,#d80000,#f10000,#ff0700,#ff1900,#ff2800,#ff3300,#ff3c00,#ff4200,#ff4600,#ff4700,#ff4600,#ff4200,#ff3b00,#ff3200,#ff2500,#ff1500,#ff0200,#ee0000,#de0000,#dd0000,#ff0700,#ff8c00,#27ffd8,#000080,#000080,#000080,#000080,#000080,#000080,#000080,#000080,#000080,#000080,#000080,#000080,#000080)"></i>
<i style="background:linear-gradient(90deg,#000080,#000080,#000080,#000080,#000080,#000080,#000080,#000080,#000080,#000080,#000080,#000080,#0000a2,#ffe800,#da0000,#800000,#800000,#800000,#9e0000,#c10000,#e10000,#fe0000,#ff1800,#ff2d00,#ff3f00,#ff4d00,#ff5800,#ff6100,#ff6700,#ff6b00,#ff6c00,#ff6b00,#ff6800,#ff6200,#ff5900,#ff4d00,#ff3e00,#ff2a00,#ff1400,#fb0000,#e80000,#ea0000,#ff2500,#ffdc00,#005bff,#000080,#000080,#000080,#000080,#000080,#000080,#000080,#000080,#000080,#000080,#000080,#000080)"></i>
<i style="background:linear-gradient(90deg,#000080,#000080,#000080,#000080,#000080,#000080,#000080,#000080,#000080,#000080,#000080,#000080,#64ff9b,#ff1900,#890000,#800000,#800000,#9b0000,#c10000,#e60000,#ff0800,#ff2500,#ff3d00,#ff5200,#ff6300,#ff7100,#ff7c00,#ff8400,#ff8a00,#ff8e00,#ff9000,#ff8f00,#ff8c00,#ff8700,#ff7f00,#ff7400,#ff6600,#ff5300,#ff3c00,#ff2100,#ff0500,#f00000,#fa0000,#ff5300,#a2ff5d,#000080,#000080,#000080,#000080,#000080,#000080,#000080,#000080,#000080,#000080,#000080,#000080)"></i>
<i style="background:linear-gradient(90deg,#000080,#000080,#000080,#000080,#000080,#000080,#000080,#000080,#000080,#000080,#000080,#003eff,#ff8600,#a80000,#800000,#800000,#940000,#be0000,#e70000,#ff0d00,#ff2e00,#ff4a00,#ff6100,#ff7500,#ff8600,#ff9300,#ff9e00,#ffa700,#ffad00,#ffb100,#ffb200,#ffb200,#ffaf00,#ffab00,#ffa300,#ff9900,#ff8c00,#ff7b00,#ff6500,#ff4900,#ff2900,#ff0a00,#f70000,#ff1300,#ff9f00,#00d0ff,#000080,#000080,#000080,#000080,#000080,#000080,#000080,#000080,#000080,#000080,#000080)"></i>
<i style="background:linear-gradient(90deg,#000080,#000080,#000080,#000080,#000080,#000080,#000080,#000080,#000080,#000080,#000080,#bdff42,#e30000,#800000,#800000,#8a0000,#b60000,#e30000,#ff0e00,#ff3200,#ff5200,#ff6d00,#ff8400,#ff9700,#ffa800,#ffb500,#ffbf00,#ffc800,#ffce00,#ffd200,#ffd400,#ffd300,#ffd100,#ffcd00,#ffc600,#ffbd00,#ffb100,#ffa100,#ff8c00,#ff7200,#ff5200,#ff2d00,#ff0c00,#ff0100,#ff3b00,#deff21,#000080,#000080,#000080,#000080,#000080,#000080,#000080,#000080,#000080,#000080,#000080)"></i>
<i style="background:linear-gradient(90deg,#000080,#000080,#000080,#000080,#000080,#000080,#000080,#000080,#000080,#000080,#007dff,#ff5500,#8e0000,#800000,#800000,#aa0000,#db0000,#ff0a00,#ff3300,#ff5600,#ff7500,#ff8f00,#ffa600,#ffb800,#ffc800,#ffd500,#ffe000,#ffe800,#ffee00,#fff200,#fff400,#fff400,#fff200,#ffed00,#ffe700,#ffdf00,#ffd300,#ffc500,#ffb200,#ff9900,#ff7a00,#ff5500,#ff2c00,#ff0b00,#ff1100,#ff8400,#00ffff,#000080,#000080,#000080,#000080,#000080,#000080,#000080,#000080,#000080,#000080)"></i>
<i style="background:linear-gradient(90deg,#000080,#000080,#000080,#000080,#000080,#000080,#000080,#000080,#000080,#000080,#ddff22,#cb0000,#800000,#800000,#9a0000,#cd0000,#ff0100,#ff2e00,#ff5600,#ff7900,#ff9700,#ffb000,#ffc600,#ffd800,#ffe800,#fff400,#ffff00,#f7ff08,#f1ff0e,#edff12,#ebff14,#ebff14,#edff12,#f1ff0e,#f7ff08,#ffff00,#fff400,#ffe700,#ffd600,#ffbf00,#ffa200,#ff7d00,#ff5200,#ff2600,#ff0c00,#ff3400,#f2ff0d,#000080,#000080,#000080,#000080,#000080,#000080,#000080,#000080,#000080,#000080)"></i>
<i style="background:linear-gradient(90deg,#000080,#000080,#000080,#000080,#000080,#000080,#000080,#000080,#000080,#006eff,#ff4700,#830000,#800000,#870000,#bc0000,#f20000,#ff2500,#ff5200,#ff7800,#ff9a00,#ffb700,#ffd000,#ffe500,#fff700,#f8ff07,#ebff14,#e1ff1e,#d9ff26,#d3ff2c,#cfff30,#cdff32,#cdff32,#cfff30,#d3ff2c,#d8ff27,#e0ff1f,#eaff15,#f7ff08,#fff700,#ffe200,#ffc700,#ffa500,#ff7a00,#ff4900,#ff1d00,#ff1600,#ff7f00,#00f6ff,#000080,#000080,#000080,#000080,#000080,#000080,#000080,#000080,#000080)"></i>
<i style="background:linear-gradient(90deg,#000080,#000080,#000080,#000080,#000080,#000080,#000080,#000080,#000080,#caff35,#c60000,#800000,#800000,#a60000,#e00000,#ff1800,#ff4900,#ff7400,#ff9900,#ffba00,#ffd600,#ffee00,#fbff04,#e9ff16,#daff25,#ceff31,#c4ff3b,#bcff43,#b6ff49,#b2ff4d,#b0ff4f,#afff50,#b1ff4e,#b5ff4a,#bbff44,#c3ff3c,#cdff32,#d9ff26,#e8ff17,#fbff04,#ffeb00,#ffca00,#ffa100,#ff6f00,#ff3a00,#ff1600,#ff3700,#e5ff1a,#000080,#000080,#000080,#000080,#000080,#000080,#000080,#000080,#000080)"></i>
<i style="background:linear-gradient(90deg,#000080,#000080,#000080,#000080,#000080,#000080,#000080,#000080,#000cff,#ff5900,#820000,#800000,#8d0000,#c80000,#ff0500,#ff3b00,#ff6b00,#ff9400,#ffb900,#ffd800,#fff400,#f2ff0d,#deff21,#cdff32,#beff41,#b2ff4d,#a8ff57,#a0ff5f,#9aff65,#96ff69,#93ff6c,#93ff6c,#95ff6a,#99ff66,#9eff61,#a6ff59,#b0ff4f,#bcff43,#caff35,#dcff23,#f3ff0c,#ffee00,#ffc700,#ff9700,#ff5e00,#ff2900,#ff1b00,#ff8c00,#00b6ff,#000080,#000080,#000080,#000080,#000080,#000080,#000080,#000080)"></i>
<i style="background:linear-gradient(90deg,#000080,#000080,#000080,#000080,#000080,#000080,#000080,#000080,#7eff81,#d40000,#800000,#800000,#ad0000,#ec0000,#ff2800,#ff5d00,#ff8b00,#ffb300,#ffd700,#fff600,#eeff11,#d6ff29,#c2ff3d,#b1ff4e,#a3ff5c,#97ff68,#8dff72,#85ff7a,#7fff80,#7aff85,#78ff87,#77ff88,#79ff86,#7dff82,#83ff7c,#8bff74,#95ff6a,#a0ff5f,#aeff51,#bfff40,#d4ff2b,#efff10,#ffeb00,#ffbd00,#ff8400,#ff4700,#ff1c00,#ff4100,#b4ff4b,#000080,#000080,#000080,#000080,#000080,#000080,#000080,#000080)"></i>
<i style="background:linear-gradient(90deg,#000080,#000080,#000080,#000080,#000080,#000080,#000080,#000080,#ff9000,#8b0000,#800000,#900000,#cf0000,#ff1000,#ff4a00,#ff7d00,#ffaa00,#ffd100,#fff300,#ecff13,#d2ff2d,#bbff44,#a7ff58,#97ff68,#89ff76,#7dff82,#73ff8c,#6bff94,#65ff9a,#60ff9f,#5effa1,#5dffa2,#5effa1,#62ff9d,#68ff97,#70ff8f,#7aff85,#86ff79,#94ff6b,#a4ff5b,#b8ff47,#d1ff2e,#f2ff0d,#ffe100,#ffaa00,#ff6a00,#ff2e00,#ff2100,#ffad00,#002cff,#000080,#000080,#000080,#000080,#000080,#000080,#000080)"></i>
<i style="background:linear-gradient(90deg,#000080,#000080,#000080,#000080,#000080,#000080,#000080,#00e5ff,#f90000,#800000,#800000,#ae0000,#f20000,#ff3200,#ff6a00,#ff9c00,#ffc700,#ffed00,#efff10,#d1ff2e,#b7ff48,#a1ff5e,#8eff71,#7dff82,#70ff8f,#64ff9b,#5affa5,#52ffad,#4cffb3,#47ffb8,#44ffbb,#43ffbc,#45ffba,#48ffb7,#4effb1,#56ffa9,#60ff9f,#6cff93,#7aff85,#8aff75,#9dff62,#b5ff4a,#d3ff2c,#fbff04,#ffcf00,#ff8f00,#ff4b00,#ff1d00,#ff5400,#52ffad,#000080,#000080,#000080,#000080,#000080,#000080,#000080)"></i>
<i style="background:linear-gradient(90deg,#000080,#000080,#000080,#000080,#000080,#000080,#000080,#fffd00,#a20000,#800000,#8d0000,#d00000,#ff1500,#ff5300,#ff8900,#ffb900,#ffe300,#f5ff0a,#d4ff2b,#b7ff48,#9eff61,#88ff77,#75ff8a,#65ff9a,#58ffa7,#4dffb2,#43ffbc,#3bffc4,#34ffcb,#2fffd0,#2cffd3,#2bffd4,#2cffd3,#2fffd0,#35ffca,#3dffc2,#48ffb7,#54ffab,#62ff9d,#72ff8d,#84ff7b,#9bff64,#b7ff48,#dcff23,#fff200,#ffb400,#ff6c00,#ff2c00,#ff2900,#ffef00,#000080,#000080,#000080,#000080,#000080,#000080,#000080)"></i>
<i style="background:linear-gradient(90deg,#000080,#000080,#000080,#000080,#000080,#000080,#0000d9,#ff4500,#800000,#800000,#aa0000,#f20000,#ff3600,#ff7200,#ffa700,#ffd500,#fffe00,#dbff24,#bbff44,#9eff61,#86ff79,#70ff8f,#5effa1,#4fffb0,#42ffbd,#37ffc8,#2dffd2,#25ffda,#1effe1,#19ffe6,#15ffea,#13ffec,#14ffeb,#17ffe8,#1dffe2,#25ffda,#2fffd0,#3cffc3,#4affb5,#5affa5,#6dff92,#82ff7d,#9dff62,#bfff40,#ecff13,#ffd700,#ff8f00,#ff4500,#ff1c00,#ff7c00,#009fff,#000080,#000080,#000080,#000080,#000080,#000080)"></i>
<i style="background:linear-gradient(90deg,#000080,#000080,#000080,#000080,#000080,#000080,#3effc1,#d20000,#800000,#850000,#ca0000,#ff1400,#ff5600,#ff9000,#ffc300,#fff000,#e6ff19,#c2ff3d,#a3ff5c,#87ff78,#6fff90,#5affa5,#49ffb6,#3affc5,#2dffd2,#22ffdd,#19ffe6,#10ffef,#09fff6,#04fffb,#00feff,#00fcff,#00fcff,#00feff,#05fffa,#0dfff2,#18ffe7,#25ffda,#34ffcb,#44ffbb,#56ffa9,#6bff94,#85ff7a,#a5ff5a,#cfff30,#fff800,#ffb200,#ff6300,#ff2300,#ff3c00,#94ff6b,#000080,#000080,#000080,#000080,#000080,#000080)"></i>
<i style="background:linear-gradient(90deg,#000080,#000080,#000080,#000080,#000080,#000080,#ffcf00,#910000,#800000,#a10000,#eb0000,#ff3400,#ff7400,#ffac00,#ffdd00,#f5ff0a,#ceff31,#aaff55,#8cff73,#70ff8f,#59ffa6,#45ffba,#34ffcb,#26ffd9,#1affe5,#0ffff0,#06fff9,#00fcff,#00f5ff,#00efff,#00eaff,#00e7ff,#00e6ff,#00e8ff,#00edff,#00f5ff,#01fffe,#0efff1,#1effe1,#2fffd0,#41ffbe,#56ffa9,#6eff91,#8cff73,#b3ff4c,#e7ff18,#ffd400,#ff8400,#ff3600,#ff1f00,#ffcb00,#000080,#000080,#000080,#000080,#000080,#000080)"></i>
<i style="background:linear-gradient(90deg,#000080,#000080,#000080,#000080,#000080,#0000e6,#ff3000,#800000,#800000,#bf0000,#ff0c00,#ff5300,#ff9000,#ffc600,#fff600,#ddff22,#b6ff49,#94ff6b,#76ff89,#5bffa4,#45ffba,#32ffcd,#21ffde,#14ffeb,#08fff7,#00fcff,#00f3ff,#00ebff,#00e3ff,#00dcff,#00d7ff,#00d3ff,#00d1ff,#00d3ff,#00d7ff,#00dfff,#00eaff,#00f8ff,#08fff7,#1affe5,#2dffd2,#41ffbe,#59ffa6,#76ff89,#9bff64,#cbff34,#fff400,#ffa600,#ff5000,#ff1900,#ff6800,#00b1ff,#000080,#000080,#000080,#000080,#000080)"></i>
<i style="background:linear-gradient(90deg,#000080,#000080,#000080,#000080,#000080,#35ffca,#cc0000,#800000,#930000,#df0000,#ff2c00,#ff7000,#ffab00,#ffe000,#efff10,#c5ff3a,#a0ff5f,#7eff81,#61ff9e,#48ffb7,#32ffcd,#20ffdf,#10ffef,#03fffc,#00f7ff,#00edff,#00e4ff,#00dbff,#00d3ff,#00cbff,#00c5ff,#00c0ff,#00beff,#00beff,#00c2ff,#00c9ff,#00d4ff,#00e2ff,#00f2ff,#05fffa,#19ffe6,#2effd1,#45ffba,#61ff9e,#84ff7b,#b1ff4e,#ecff13,#ffc600,#ff6e00,#ff2200,#ff3100,#97ff68,#000080,#000080,#000080,#000080,#000080)"></i>
<i style="background:linear-gradient(90deg,#000080,#000080,#000080,#000080,#000080,#ffe300,#920000,#800000,#ae0000,#fe0000,#ff4a00,#ff8c00,#ffc500,#fff800,#d8ff27,#afff50,#8aff75,#6aff95,#4effb1,#35ffca,#20ffdf,#0ffff0,#00ffff,#00f3ff,#00e8ff,#00dfff,#00d6ff,#00cdff,#00c4ff,#00bcff,#00b5ff,#00afff,#00abff,#00abff,#00aeff,#00b5ff,#00bfff,#00cdff,#00deff,#00f1ff,#06fff9,#1bffe4,#33ffcc,#4effb1,#6fff90,#99ff66,#d1ff2e,#ffe500,#ff8d00,#ff3500,#ff1700,#ffce00,#000080,#000080,#000080,#000080,#000080)"></i>
<i style="background:linear-gradient(90deg,#000080,#000080,#000080,#000080,#000080,#ff4700,#800000,#830000,#cc0000,#ff1e00,#ff6600,#ffa600,#ffdd00,#efff10,#c2ff3d,#9aff65,#76ff89,#57ffa8,#3bffc4,#24ffdb,#11ffee,#00ffff,#00f1ff,#00e6ff,#00dcff,#00d2ff,#00c9ff,#00c0ff,#00b7ff,#00aeff,#00a6ff,#009fff,#009aff,#0098ff,#009aff,#00a0ff,#00abff,#00b9ff,#00caff,#00ddff,#00f2ff,#09fff6,#21ffde,#3cffc3,#5bffa4,#83ff7c,#b7ff48,#fcff03,#ffac00,#ff4e00,#ff1100,#ff6b00,#0065ff,#000080,#000080,#000080,#000080)"></i>
<i style="background:linear-gradient(90deg,#000080,#000080,#000080,#000080,#00c7ff,#e20000,#800000,#9a0000,#ea0000,#ff3b00,#ff8100,#ffbf00,#fff500,#d9ff26,#adff52,#86ff79,#63ff9c,#45ffba,#2bffd4,#15ffea,#02fffd,#00f2ff,#00e5ff,#00daff,#00d1ff,#00c8ff,#00bfff,#00b6ff,#00acff,#00a2ff,#0099ff,#0091ff,#008aff,#0087ff,#0088ff,#008dff,#0097ff,#00a5ff,#00b6ff,#00caff,#00e0ff,#00f7ff,#10ffef,#2bffd4,#49ffb6,#6fff90,#a0ff5f,#e1ff1e,#ffca00,#ff6a00,#ff1800,#ff3000,#57ffa8,#000080,#000080,#000080,#000080)"></i>
<i style="background:linear-gradient(90deg,#000080,#000080,#000080,#000080,#bfff40,#a50000,#800000,#b40000,#ff0900,#ff5700,#ff9b00,#ffd600,#f3ff0c,#c4ff3b,#9aff65,#73ff8c,#52ffad,#34ffcb,#1bffe4,#07fff8,#00f4ff,#00e6ff,#00daff,#00d1ff,#00c8ff,#00bfff,#00b6ff,#00adff,#00a3ff,#0098ff,#008dff,#0084ff,#007cff,#0077ff,#0076ff,#007bff,#0084ff,#0091ff,#00a3ff,#00b7ff,#00ceff,#00e6ff,#00ffff,#1affe5,#39ffc6,#5dffa2,#8bff74,#c8ff37,#ffe600,#ff8600,#ff2900,#ff1100,#ffff00,#000080,#000080,#000080,#000080)"></i>
<i style="background:linear-gradient(90deg,#000080,#000080,#000080,#000080,#ff9300,#840000,#850000,#d10000,#ff2600,#ff7200,#ffb300,#ffed00,#deff21,#b0ff4f,#87ff78,#62ff9d,#41ffbe,#25ffda,#0efff1,#00f9ff,#00e9ff,#00dcff,#00d2ff,#00c9ff,#00c0ff,#00b8ff,#00afff,#00a6ff,#009bff,#008fff,#0083ff,#0078ff,#006fff,#0068ff,#0066ff,#0069ff,#0071ff,#007eff,#0090ff,#00a5ff,#00bcff,#00d5ff,#00efff,#0bfff4,#29ffd6,#4cffb3,#78ff87,#b2ff4d,#fdff02,#ffa300,#ff3e00,#ff0500,#ff8d00,#00009b,#000080,#000080,#000080)"></i>
<i style="background:linear-gradient(90deg,#000080,#000080,#000080,#0000cf,#ff1e00,#800000,#9a0000,#ed0000,#ff4200,#ff8b00,#ffca00,#fcff03,#cbff34,#9eff61,#75ff8a,#51ffae,#32ffcd,#17ffe8,#01fffe,#00eeff,#00e0ff,#00d4ff,#00cbff,#00c2ff,#00bbff,#00b3ff,#00aaff,#00a0ff,#0095ff,#0088ff,#007bff,#006eff,#0063ff,#005bff,#0057ff,#0058ff,#005fff,#006cff,#007dff,#0093ff,#00abff,#00c4ff,#00dfff,#00fbff,#1affe5,#3cffc3,#67ff98,#9dff62,#e5ff1a,#ffbe00,#ff5600,#ff0600,#ff4200,#00b6ff,#000080,#000080,#000080)"></i>
<i style="background:linear-gradient(90deg,#000080,#000080,#000080,#00f4ff,#d00000,#800000,#b20000,#ff0b00,#ff5c00,#ffa300,#ffe000,#e8ff17,#b8ff47,#8cff73,#64ff9b,#42ffbd,#24ffdb,#0bfff4,#00f5ff,#00e5ff,#00d8ff,#00ceff,#00c5ff,#00beff,#00b7ff,#00b0ff,#00a7ff,#009dff,#0091ff,#0083ff,#0075ff,#0066ff,#0059ff,#004fff,#0049ff,#0048ff,#004eff,#005aff,#006bff,#0081ff,#009aff,#00b4ff,#00d0ff,#00ecff,#0cfff3,#2effd1,#57ffa8,#8aff75,#ceff31,#ffd800,#ff7000,#ff1100,#ff1500,#84ff7b,#000080,#000080,#000080)"></i>
<i style="background:linear-gradient(90deg,#000080,#000080,#000080,#cbff34,#a20000,#830000,#cd0000,#ff2600,#ff7600,#ffba00,#fff500,#d5ff2a,#a6ff59,#7bff84,#55ffaa,#33ffcc,#17ffe8,#00feff,#00ebff,#00ddff,#00d1ff,#00c9ff,#00c2ff,#00bcff,#00b6ff,#00afff,#00a6ff,#009cff,#008fff,#0080ff,#0070ff,#005fff,#0050ff,#0044ff,#003cff,#003aff,#003eff,#0049ff,#0059ff,#006fff,#0089ff,#00a4ff,#00c1ff,#00deff,#00fdff,#20ffdf,#48ffb7,#79ff86,#baff45,#fff000,#ff8900,#ff2100,#fc0000,#ffe700,#000080,#000080,#000080)"></i>
<i style="background:linear-gradient(90deg,#000080,#000080,#000080,#ff9b00,#890000,#940000,#e80000,#ff4100,#ff8d00,#ffcf00,#f6ff09,#c3ff3c,#95ff6a,#6bff94,#46ffb9,#26ffd9,#0bfff4,#00f5ff,#00e3ff,#00d6ff,#00cdff,#00c6ff,#00c0ff,#00bbff,#00b6ff,#00b0ff,#00a7ff,#009cff,#008fff,#007fff,#006dff,#005bff,#0049ff,#003aff,#0030ff,#002cff,#002eff,#0038ff,#0048ff,#005eff,#0078ff,#0094ff,#00b2ff,#00d1ff,#00f0ff,#13ffec,#3affc5,#69ff96,#a7ff58,#f7ff08,#ffa200,#ff3500,#f20000,#ff8000,#000080,#000080,#000080)"></i>
<i style="background:linear-gradient(90deg,#000080,#000080,#000080,#ff3000,#800000,#a90000,#ff0300,#ff5a00,#ffa400,#ffe300,#e3ff1c,#b2ff4d,#85ff7a,#5cffa3,#39ffc6,#1affe5,#01fffe,#00ecff,#00ddff,#00d2ff,#00caff,#00c5ff,#00c0ff,#00bdff,#00b8ff,#00b2ff,#00aaff,#009fff,#0090ff,#007fff,#006cff,#0057ff,#0044ff,#0033ff,#0026ff,#001fff,#0020ff,#0028ff,#0037ff,#004dff,#0067ff,#0084ff,#00a3ff,#00c3ff,#00e3ff,#06fff9,#2dffd2,#5bffa4,#96ff69,#e2ff1d,#ffba00,#ff4b00,#f40000,#ff3900,#007aff,#000080,#000080)"></i>
<i style="background:linear-gradient(90deg,#000080,#000080,#008bff,#e60000,#820000,#c00000,#ff1d00,#ff7200,#ffb900,#fff600,#d2ff2d,#a1ff5e,#76ff89,#4effb1,#2cffd3,#10ffef,#00f7ff,#00e5ff,#00d8ff,#00cfff,#00c9ff,#00c5ff,#00c3ff,#00c0ff,#00bcff,#00b7ff,#00afff,#00a3ff,#0094ff,#0082ff,#006dff,#0056ff,#0040ff,#002cff,#001dff,#0014ff,#0013ff,#0019ff,#0027ff,#003cff,#0057ff,#0075ff,#0095ff,#00b6ff,#00d7ff,#00faff,#21ffde,#4effb1,#86ff79,#cfff30,#ffd100,#ff6100,#fc0000,#ff0b00,#48ffb7,#000080,#000080)"></i>
<i style="background:linear-gradient(90deg,#000080,#000080,#64ff9b,#b70000,#8c0000,#d90000,#ff3600,#ff8800,#ffcd00,#f6ff09,#c1ff3e,#92ff6d,#67ff98,#42ffbd,#21ffde,#06fff9,#00f0ff,#00dfff,#00d4ff,#00cdff,#00c9ff,#00c7ff,#00c6ff,#00c5ff,#00c3ff,#00beff,#00b5ff,#00a9ff,#009aff,#0086ff,#006fff,#0056ff,#003eff,#0028ff,#0016ff,#000aff,#0006ff,#000bff,#0018ff,#002cff,#0046ff,#0065ff,#0086ff,#00a8ff,#00cbff,#00eeff,#15ffea,#41ffbe,#77ff88,#bdff42,#ffe600,#ff7700,#ff0a00,#ef0000,#e1ff1e,#000080,#000080)"></i>
<i style="background:linear-gradient(90deg,#000080,#000080,#fff900,#9c0000,#9b0000,#f20000,#ff4e00,#ff9d00,#ffe000,#e5ff1a,#b2ff4d,#83ff7c,#5affa5,#36ffc9,#17ffe8,#00fdff,#00e9ff,#00dbff,#00d2ff,#00cdff,#00cbff,#00cbff,#00ccff,#00ccff,#00caff,#00c6ff,#00beff,#00b2ff,#00a1ff,#008cff,#0073ff,#0059ff,#003eff,#0024ff,#0010ff,#0001ff,#0000fa,#0000fd,#0009ff,#001cff,#0036ff,#0056ff,#0078ff,#009bff,#00bfff,#00e3ff,#0afff5,#35ffca,#6aff95,#adff52,#fff900,#ff8d00,#ff1a00,#e00000,#ffac00,#000080,#000080)"></i>
<i style="background:linear-gradient(90deg,#000080,#000080,#ff8300,#8f0000,#ae0000,#ff0b00,#ff6500,#ffb200,#fff200,#d5ff2a,#a3ff5c,#76ff89,#4effb1,#2bffd4,#0efff1,#00f5ff,#00e4ff,#00d8ff,#00d1ff,#00cfff,#00cfff,#00d1ff,#00d3ff,#00d5ff,#00d4ff,#00d0ff,#00c8ff,#00bcff,#00aaff,#0094ff,#007aff,#005dff,#003fff,#0023ff,#000bff,#0000f9,#0000f0,#0000f0,#0000fa,#000dff,#0027ff,#0046ff,#0069ff,#008eff,#00b3ff,#00d8ff,#00ffff,#2bffd4,#5effa1,#9eff61,#f2ff0d,#ffa200,#ff2c00,#dc0000,#ff5900,#000089,#000080)"></i>
<i style="background:linear-gradient(90deg,#000080,#000080,#ff2e00,#8c0000,#c20000,#ff2300,#ff7b00,#ffc400,#fbff04,#c5ff3a,#95ff6a,#69ff96,#42ffbd,#21ffde,#05fffa,#00efff,#00e0ff,#00d6ff,#00d2ff,#00d2ff,#00d4ff,#00d8ff,#00ddff,#00e0ff,#00e0ff,#00ddff,#00d5ff,#00c8ff,#00b5ff,#009eff,#0082ff,#0062ff,#0042ff,#0023ff,#0008ff,#0000f3,#0000e7,#0000e5,#0000ed,#0000fe,#0018ff,#0038ff,#005bff,#0081ff,#00a7ff,#00cdff,#00f4ff,#20ffdf,#52ffad,#91ff6e,#e2ff1d,#ffb500,#ff3e00,#de0000,#ff1f00,#0076ff,#000080)"></i>
<i style="background:linear-gradient(90deg,#000080,#0054ff,#f10000,#910000,#d80000,#ff3a00,#ff8f00,#ffd600,#ecff13,#b7ff48,#87ff78,#5dffa2,#37ffc8,#18ffe7,#00fdff,#00eaff,#00ddff,#00d6ff,#00d4ff,#00d6ff,#00dbff,#00e1ff,#00e7ff,#00ecff,#00edff,#00ebff,#00e3ff,#00d6ff,#00c3ff,#00aaff,#008cff,#006aff,#0047ff,#0025ff,#0007ff,#0000ee,#0000e0,#0000db,#0000e0,#0000f0,#0009ff,#0029ff,#004dff,#0074ff,#009bff,#00c2ff,#00ebff,#16ffe9,#48ffb7,#84ff7b,#d2ff2d,#ffc800,#ff5100,#e50000,#f60000,#2fffd0,#000080)"></i>
<i style="background:linear-gradient(90deg,#000080,#19ffe6,#c80000,#9b0000,#ee0000,#ff5000,#ffa300,#ffe700,#dcff23,#a9ff56,#7bff84,#51ffae,#2effd1,#10ffef,#00f7ff,#00e6ff,#00dbff,#00d7ff,#00d7ff,#00dcff,#00e3ff,#00ecff,#00f4ff,#00faff,#00fdff,#00fbff,#00f3ff,#00e6ff,#00d1ff,#00b7ff,#0097ff,#0073ff,#004dff,#0028ff,#0007ff,#0000eb,#0000da,#0000d2,#0000d5,#0000e3,#0000fa,#001bff,#003fff,#0067ff,#008fff,#00b8ff,#00e1ff,#0dfff2,#3effc1,#79ff86,#c4ff3b,#ffd900,#ff6400,#f00000,#db0000,#bfff40,#000080)"></i>
<i style="background:linear-gradient(90deg,#000080,#b2ff4d,#af0000,#a90000,#ff0500,#ff6400,#ffb500,#fff700,#ceff31,#9cff63,#6fff90,#47ffb8,#25ffda,#08fff7,#00f2ff,#00e3ff,#00dbff,#00d9ff,#00dcff,#00e3ff,#00edff,#00f8ff,#03fffc,#0bfff4,#0ffff0,#0efff1,#06fff9,#00f7ff,#00e2ff,#00c6ff,#00a4ff,#007eff,#0056ff,#002dff,#0009ff,#0000ea,#0000d5,#0000ca,#0000cb,#0000d7,#0000ed,#000dff,#0032ff,#005aff,#0084ff,#00aeff,#00d7ff,#04fffb,#34ffcb,#6eff91,#b7ff48,#ffe900,#ff7600,#fc0000,#cb0000,#ffd100,#000080)"></i>
<i style="background:linear-gradient(90deg,#000080,#ffd700,#a10000,#b90000,#ff1a00,#ff7800,#ffc600,#f8ff07,#c1ff3e,#90ff6f,#64ff9b,#3dffc2,#1cffe3,#02fffd,#00edff,#00e1ff,#00dbff,#00dcff,#00e2ff,#00ecff,#00f8ff,#07fff8,#13ffec,#1cffe3,#21ffde,#21ffde,#1affe5,#0bfff4,#00f4ff,#00d7ff,#00b3ff,#008bff,#005fff,#0034ff,#000cff,#0000ea,#0000d1,#0000c4,#0000c2,#0000cc,#0000e1,#0000ff,#0024ff,#004eff,#0078ff,#00a3ff,#00ceff,#00faff,#2cffd3,#64ff9b,#abff54,#fff800,#ff8700,#ff0b00,#c30000,#ff7c00,#000080)"></i>
<i style="background:linear-gradient(90deg,#000080,#ff7e00,#9b0000,#ca0000,#ff2f00,#ff8b00,#ffd600,#eaff15,#b4ff4b,#84ff7b,#5affa5,#34ffcb,#15ffea,#00fbff,#00eaff,#00e0ff,#00ddff,#00e0ff,#00e9ff,#00f6ff,#06fff9,#16ffe9,#24ffdb,#2fffd0,#36ffc9,#36ffc9,#2fffd0,#20ffdf,#09fff6,#00eaff,#00c4ff,#0099ff,#006bff,#003cff,#0011ff,#0000eb,#0000cf,#0000bf,#0000ba,#0000c2,#0000d5,#0000f2,#0018ff,#0041ff,#006dff,#0099ff,#00c5ff,#00f2ff,#23ffdc,#5bffa4,#a0ff5f,#f8ff07,#ff9700,#ff1a00,#c00000,#ff3c00,#000080)"></i>
<i style="background:linear-gradient(90deg,#000080,#ff3c00,#9c0000,#dc0000,#ff4300,#ff9c00,#ffe500,#ddff22,#a8ff57,#7aff85,#50ffaf,#2cffd3,#0efff1,#00f7ff,#00e8ff,#00e0ff,#00dfff,#00e6ff,#00f1ff,#02fffd,#14ffeb,#26ffd9,#36ffc9,#44ffbb,#4bffb4,#4cffb3,#46ffb9,#36ffc9,#1fffe0,#00fdff,#00d6ff,#00a9ff,#0078ff,#0046ff,#0017ff,#0000ee,#0000cf,#0000bb,#0000b4,#0000b9,#0000ca,#0000e6,#000bff,#0035ff,#0062ff,#008fff,#00bcff,#00eaff,#1bffe4,#52ffad,#95ff6a,#ebff14,#ffa600,#ff2800,#c20000,#ff0b00,#0046ff)"></i>
<i style="background:linear-gradient(90deg,#0000e1,#ff0a00,#a10000,#ef0000,#ff5600,#ffad00,#fff300,#d0ff2f,#9dff62,#6fff90,#47ffb8,#24ffdb,#08fff7,#00f3ff,#00e6ff,#00e1ff,#00e3ff,#00ecff,#00faff,#0efff1,#23ffdc,#37ffc8,#4affb5,#59ffa6,#62ff9d,#64ff9b,#5effa1,#4effb1,#35ffca,#14ffeb,#00e9ff,#00baff,#0086ff,#0051ff,#001fff,#0000f2,#0000cf,#0000b8,#0000ae,#0000b1,#0000c0,#0000db,#0000ff,#002aff,#0057ff,#0086ff,#00b4ff,#00e2ff,#14ffeb,#4affb5,#8cff73,#dfff20,#ffb500,#ff3700,#c70000,#e60000,#00e8ff)"></i>
<i style="background:linear-gradient(90deg,#0092ff,#e60000,#aa0000,#ff0200,#ff6800,#ffbc00,#fdff02,#c4ff3b,#92ff6d,#66ff99,#3fffc0,#1effe1,#03fffc,#00f0ff,#00e5ff,#00e2ff,#00e7ff,#00f3ff,#06fff9,#1bffe4,#33ffcc,#4affb5,#5fffa0,#70ff8f,#7bff84,#7dff82,#77ff88,#67ff98,#4dffb2,#2affd5,#00feff,#00ccff,#0096ff,#005eff,#0028ff,#0000f8,#0000d1,#0000b7,#0000aa,#0000aa,#0000b7,#0000d1,#0000f4,#001fff,#004dff,#007cff,#00abff,#00daff,#0cfff3,#43ffbc,#83ff7c,#d4ff2b,#ffc200,#ff4500,#ce0000,#cc0000,#6dff92)"></i>
<i style="background:linear-gradient(90deg,#21ffde,#cd0000,#b50000,#ff1400,#ff7900,#ffcb00,#f1ff0e,#b9ff46,#88ff77,#5dffa2,#37ffc8,#17ffe8,#00feff,#00edff,#00e5ff,#00e5ff,#00ecff,#00fbff,#11ffee,#29ffd6,#44ffbb,#5effa1,#75ff8a,#88ff77,#94ff6b,#98ff67,#91ff6e,#81ff7e,#67ff98,#42ffbd,#15ffea,#00e0ff,#00a7ff,#006cff,#0033ff,#0000ff,#0000d5,#0000b7,#0000a7,#0000a4,#0000b0,#0000c7,#0000e9,#0014ff,#0042ff,#0073ff,#00a3ff,#00d3ff,#06fff9,#3cffc3,#7bff84,#caff35,#ffce00,#ff5300,#d60000,#b90000,#d8ff27)"></i>
<i style="background:linear-gradient(90deg,#94ff6b,#bd0000,#c10000,#ff2600,#ff8800,#ffd800,#e5ff1a,#afff50,#7fff80,#55ffaa,#30ffcf,#12ffed,#00faff,#00ebff,#00e5ff,#00e8ff,#00f2ff,#05fffa,#1dffe2,#38ffc7,#55ffaa,#72ff8d,#8cff73,#a1ff5e,#aeff51,#b3ff4c,#adff52,#9cff63,#81ff7e,#5bffa4,#2cffd3,#00f4ff,#00b9ff,#007bff,#003fff,#0008ff,#0000da,#0000b8,#0000a5,#0000a0,#0000a9,#0000bf,#0000e0,#000aff,#0039ff,#006aff,#009bff,#00ccff,#00feff,#35ffca,#74ff8b,#c1ff3e,#ffda00,#ff6000,#e00000,#ad0000,#ffd000)"></i>
<i style="background:linear-gradient(90deg,#f0ff0f,#b30000,#ce0000,#ff3700,#ff9800,#ffe500,#daff25,#a5ff5a,#76ff89,#4dffb2,#29ffd6,#0dfff2,#00f6ff,#00eaff,#00e6ff,#00ebff,#00f9ff,#0efff1,#29ffd6,#48ffb7,#68ff97,#88ff77,#a4ff5b,#bbff44,#caff35,#cfff30,#c9ff36,#b8ff47,#9cff63,#75ff8a,#44ffbb,#0bfff4,#00ccff,#008bff,#004cff,#0011ff,#0000e0,#0000bb,#0000a5,#00009d,#0000a3,#0000b7,#0000d7,#0001ff,#0030ff,#0061ff,#0093ff,#00c5ff,#00f8ff,#2fffd0,#6dff92,#b9ff46,#ffe400,#ff6c00,#e90000,#a50000,#ff8a00)"></i>
<i style="background:linear-gradient(90deg,#ffc400,#af0000,#dc0000,#ff4700,#ffa600,#fff100,#d0ff2f,#9cff63,#6eff91,#46ffb9,#23ffdc,#08fff7,#00f4ff,#00e9ff,#00e8ff,#00efff,#01fffe,#18ffe7,#36ffc9,#58ffa7,#7bff84,#9eff61,#bcff43,#d5ff2a,#e5ff1a,#ebff14,#e6ff19,#d5ff2a,#b7ff48,#8fff70,#5cffa3,#21ffde,#00e0ff,#009cff,#005aff,#001cff,#0000e7,#0000bf,#0000a5,#00009b,#00009f,#0000b1,#0000cf,#0000f7,#0027ff,#0059ff,#008cff,#00beff,#00f2ff,#29ffd6,#66ff99,#b1ff4e,#ffee00,#ff7700,#f30000,#a10000,#ff5200)"></i>
<i style="background:linear-gradient(90deg,#ff8a00,#ae0000,#ea0000,#ff5600,#ffb300,#fffc00,#c6ff39,#93ff6c,#66ff99,#3fffc0,#1effe1,#04fffb,#00f1ff,#00e9ff,#00eaff,#00f4ff,#08fff7,#23ffdc,#44ffbb,#69ff96,#8fff70,#b4ff4b,#d5ff2a,#f0ff0f,#fffd00,#fff600,#fffb00,#f1ff0e,#d3ff2c,#a9ff56,#75ff8a,#38ffc7,#00f4ff,#00aeff,#0068ff,#0028ff,#0000ef,#0000c4,#0000a7,#00009a,#00009b,#0000ab,#0000c8,#0000f0,#001fff,#0051ff,#0085ff,#00b8ff,#00ecff,#23ffdc,#60ff9f,#aaff55,#fff700,#ff8200,#fd0000,#9f0000,#ff2400)"></i>
<i style="background:linear-gradient(90deg,#ff5b00,#b00000,#f80000,#ff6400,#ffbf00,#f7ff08,#bdff42,#8bff74,#5fffa0,#39ffc6,#19ffe6,#00ffff,#00efff,#00e9ff,#00ecff,#00f9ff,#10ffef,#2effd1,#52ffad,#79ff86,#a3ff5c,#cbff34,#eeff11,#fff300,#ffe000,#ffd900,#ffde00,#fff000,#efff10,#c4ff3b,#8eff71,#4fffb0,#0afff5,#00c0ff,#0078ff,#0034ff,#0000f9,#0000ca,#0000aa,#00009a,#000099,#0000a7,#0000c2,#0000e9,#0018ff,#004aff,#007eff,#00b2ff,#00e7ff,#1effe1,#5bffa4,#a4ff5b,#ffff00,#ff8c00,#ff0700,#9f0000,#ff0000)"></i>
<i style="background:linear-gradient(90deg,#ff3600,#b40000,#ff0600,#ff7100,#ffcb00,#eeff11,#b5ff4a,#84ff7b,#59ffa6,#33ffcc,#14ffeb,#00fcff,#00eeff,#00e9ff,#00efff,#00feff,#18ffe7,#39ffc6,#60ff9f,#8bff74,#b7ff48,#e1ff1e,#fff700,#ffd900,#ffc400,#ffbc00,#ffc000,#ffd300,#fff300,#dfff20,#a7ff58,#67ff98,#1fffe0,#00d3ff,#0088ff,#0042ff,#0004ff,#0000d1,#0000ae,#00009b,#000098,#0000a4,#0000be,#0000e3,#0011ff,#0044ff,#0078ff,#00adff,#00e2ff,#19ffe6,#56ffa9,#9eff61,#f8ff07,#ff9500,#ff1000,#a10000,#e10000)"></i>
<i style="background:linear-gradient(90deg,#ff1a00,#b90000,#ff1300,#ff7e00,#ffd500,#e5ff1a,#adff52,#7dff82,#53ffac,#2effd1,#10ffef,#00faff,#00edff,#00eaff,#00f2ff,#05fffa,#20ffdf,#44ffbb,#6eff91,#9cff63,#cbff34,#f8ff07,#ffde00,#ffbe00,#ffa800,#ff9f00,#ffa400,#ffb600,#ffd700,#faff05,#c1ff3e,#7eff81,#34ffcb,#00e6ff,#0099ff,#0050ff,#000fff,#0000d9,#0000b3,#00009d,#000098,#0000a2,#0000ba,#0000de,#000cff,#003eff,#0073ff,#00a8ff,#00ddff,#15ffea,#52ffad,#99ff66,#f1ff0e,#ff9d00,#ff1900,#a30000,#ca0000)"></i>
<i style="background:linear-gradient(90deg,#ff0300,#c00000,#ff2000,#ff8a00,#ffdf00,#dcff23,#a6ff59,#76ff89,#4dffb2,#29ffd6,#0dfff2,#00f7ff,#00ecff,#00ebff,#00f5ff,#0bfff4,#29ffd6,#4fffb0,#7cff83,#adff52,#dfff20,#fff000,#ffc600,#ffa400,#ff8d00,#ff8300,#ff8800,#ff9a00,#ffbc00,#ffea00,#d9ff26,#95ff6a,#4affb5,#00faff,#00aaff,#005fff,#001bff,#0000e2,#0000ba,#0000a1,#000099,#0000a1,#0000b7,#0000da,#0007ff,#0039ff,#006eff,#00a3ff,#00d9ff,#11ffee,#4effb1,#94ff6b,#ebff14,#ffa500,#ff2100,#a70000,#b70000)"></i>
<i style="background:linear-gradient(90deg,#f10000,#c70000,#ff2b00,#ff9500,#ffe800,#d5ff2a,#9fff60,#70ff8f,#48ffb7,#25ffda,#09fff6,#00f5ff,#00ecff,#00edff,#00f9ff,#10ffef,#31ffce,#5affa5,#8aff75,#bdff42,#f2ff0d,#ffda00,#ffae00,#ff8b00,#ff7300,#ff6800,#ff6c00,#ff7f00,#ffa100,#ffd100,#f2ff0d,#acff53,#5fffa0,#0efff1,#00bbff,#006eff,#0028ff,#0000ec,#0000c1,#0000a6,#00009b,#0000a1,#0000b6,#0000d7,#0003ff,#0034ff,#0069ff,#009fff,#00d5ff,#0efff1,#4affb5,#90ff6f,#e6ff19,#ffab00,#ff2800,#aa0000,#a80000)"></i>
<i style="background:linear-gradient(90deg,#e50000,#ce0000,#ff3700,#ff9f00,#fff100,#cdff32,#99ff66,#6bff94,#43ffbc,#21ffde,#06fff9,#00f3ff,#00ebff,#00eeff,#00fcff,#16ffe9,#39ffc6,#65ff9a,#97ff68,#ceff31,#fff900,#ffc500,#ff9700,#ff7200,#ff5900,#ff4e00,#ff5200,#ff6500,#ff8800,#ffb800,#fff500,#c2ff3d,#73ff8c,#21ffde,#00cdff,#007dff,#0035ff,#0000f7,#0000c9,#0000ab,#00009f,#0000a3,#0000b5,#0000d5,#0000ff,#0031ff,#0066ff,#009cff,#00d2ff,#0bfff4,#47ffb8,#8cff73,#e1ff1e,#ffb100,#ff2f00,#ae0000,#9c0000)"></i>
<i style="background:linear-gradient(90deg,#db0000,#d60000,#ff4100,#ffa800,#fff900,#c7ff38,#93ff6c,#66ff99,#3effc1,#1dffe2,#03fffc,#00f2ff,#00ebff,#00f0ff,#00ffff,#1cffe3,#41ffbe,#6fff90,#a4ff5b,#ddff22,#ffe700,#ffb100,#ff8100,#ff5b00,#ff4100,#ff3600,#ff3900,#ff4d00,#ff6f00,#ffa000,#ffde00,#d7ff28,#88ff77,#33ffcc,#00ddff,#008cff,#0042ff,#0003ff,#0000d2,#0000b2,#0000a3,#0000a5,#0000b6,#0000d4,#0000fd,#002eff,#0063ff,#0099ff,#00cfff,#08fff7,#44ffbb,#89ff76,#ddff22,#ffb600,#ff3500,#b10000,#920000)"></i>
<i style="background:linear-gradient(90deg,#d40000,#dd0000,#ff4b00,#ffb100,#feff01,#c1ff3e,#8dff72,#61ff9e,#3affc5,#1affe5,#01fffe,#00f0ff,#00ebff,#00f1ff,#04fffb,#21ffde,#49ffb6,#79ff86,#b1ff4e,#ecff13,#ffd600,#ff9e00,#ff6d00,#ff4500,#ff2b00,#ff1f00,#ff2200,#ff3600,#ff5900,#ff8a00,#ffc900,#ecff13,#9bff64,#45ffba,#00eeff,#009bff,#004fff,#000fff,#0000db,#0000b9,#0000a8,#0000a8,#0000b8,#0000d5,#0000fc,#002dff,#0061ff,#0097ff,#00cdff,#06fff9,#42ffbd,#87ff78,#daff25,#ffbb00,#ff3a00,#b50000,#8a0000)"></i>
<i style="background:linear-gradient(90deg,#cf0000,#e40000,#ff5400,#ffb800,#f8ff07,#bbff44,#89ff76,#5dffa2,#36ffc9,#17ffe8,#00feff,#00efff,#00ebff,#00f2ff,#07fff8,#26ffd9,#50ffaf,#83ff7c,#bcff43,#faff05,#ffc700,#ff8c00,#ff5a00,#ff3100,#ff1600,#ff0900,#ff0d00,#ff2000,#ff4300,#ff7500,#ffb500,#ffff00,#adff52,#57ffa8,#00feff,#00aaff,#005dff,#001bff,#0000e6,#0000c2,#0000af,#0000ad,#0000bb,#0000d6,#0000fc,#002cff,#005fff,#0095ff,#00ccff,#05fffa,#41ffbe,#85ff7a,#d7ff28,#ffbf00,#ff3e00,#b80000,#840000)"></i>
<i style="background:linear-gradient(90deg,#cc0000,#eb0000,#ff5c00,#ffc000,#f2ff0d,#b6ff49,#84ff7b,#59ffa6,#33ffcc,#14ffeb,#00fcff,#00eeff,#00ebff,#00f4ff,#0afff5,#2bffd4,#56ffa9,#8bff74,#c7ff38,#fff700,#ffb800,#ff7c00,#ff4800,#ff1f00,#ff0300,#f50000,#f80000,#ff0d00,#ff3000,#ff6200,#ffa200,#ffed00,#beff41,#67ff98,#0ffff0,#00b9ff,#006bff,#0027ff,#0000f0,#0000cb,#0000b6,#0000b2,#0000be,#0000d8,#0000fd,#002cff,#005fff,#0094ff,#00cbff,#04fffb,#40ffbf,#83ff7c,#d5ff2a,#ffc200,#ff4200,#ba0000,#800000)"></i>
<i style="background:linear-gradient(90deg,#ca0000,#f20000,#ff6300,#ffc600,#ecff13,#b1ff4e,#80ff7f,#55ffaa,#30ffcf,#11ffee,#00faff,#00edff,#00ebff,#00f5ff,#0cfff3,#2fffd0,#5cffa3,#93ff6c,#d1ff2e,#ffec00,#ffab00,#ff6e00,#ff3900,#ff0f00,#f10000,#e40000,#e70000,#fa0000,#ff1e00,#ff5100,#ff9100,#ffdc00,#ceff31,#76ff89,#1effe1,#00c7ff,#0078ff,#0034ff,#0000fc,#0000d4,#0000be,#0000b9,#0000c3,#0000dc,#0001ff,#002dff,#005fff,#0094ff,#00cbff,#04fffb,#3fffc0,#82ff7d,#d4ff2b,#ffc400,#ff4500,#bc0000,#800000)"></i>
<i style="background:linear-gradient(90deg,#ca0000,#f80000,#ff6a00,#ffcc00,#e7ff18,#adff52,#7cff83,#52ffad,#2dffd2,#0ffff0,#00f8ff,#00ecff,#00ebff,#00f6ff,#0efff1,#32ffcd,#61ff9e,#9aff65,#d9ff26,#ffe200,#ff9f00,#ff6100,#ff2b00,#ff0000,#e20000,#d50000,#d70000,#eb0000,#ff0f00,#ff4100,#ff8100,#ffcd00,#ddff22,#85ff7a,#2bffd4,#00d4ff,#0085ff,#0040ff,#0008ff,#0000df,#0000c7,#0000c0,#0000c9,#0000e0,#0004ff,#002fff,#0061ff,#0095ff,#00cbff,#04fffb,#3fffc0,#82ff7d,#d3ff2c,#ffc500,#ff4700,#be0000,#800000)"></i>
<i style="background:linear-gradient(90deg,#c90000,#fd0000,#ff7000,#ffd100,#e3ff1c,#a9ff56,#79ff86,#4fffb0,#2affd5,#0dfff2,#00f6ff,#00ebff,#00eaff,#00f6ff,#10ffef,#35ffca,#66ff99,#a0ff5f,#e1ff1e,#ffd900,#ff9500,#ff5600,#ff1f00,#f30000,#d60000,#c80000,#ca0000,#dd0000,#ff0100,#ff3400,#ff7400,#ffc000,#eaff15,#92ff6d,#38ffc7,#00e1ff,#0092ff,#004cff,#0014ff,#0000e9,#0000d1,#0000c8,#0000d0,#0000e6,#0008ff,#0032ff,#0063ff,#0097ff,#00ccff,#05fffa,#40ffbf,#82ff7d,#d3ff2c,#ffc600,#ff4900,#bf0000,#800000)"></i>
<i style="background:linear-gradient(90deg,#ca0000,#ff0300,#ff7500,#ffd600,#dfff20,#a6ff59,#76ff89,#4cffb3,#28ffd7,#0bfff4,#00f5ff,#00eaff,#00eaff,#00f7ff,#12ffed,#38ffc7,#69ff96,#a5ff5a,#e7ff18,#ffd200,#ff8d00,#ff4d00,#ff1600,#e90000,#cc0000,#be0000,#c00000,#d20000,#f50000,#ff2800,#ff6800,#ffb400,#f6ff09,#9eff61,#44ffbb,#00edff,#009eff,#0058ff,#001fff,#0000f4,#0000db,#0000d2,#0000d8,#0000ec,#000dff,#0037ff,#0066ff,#0099ff,#00ceff,#06fff9,#41ffbe,#83ff7c,#d3ff2c,#ffc600,#ff4900,#bf0000,#800000)"></i>
<i style="background:linear-gradient(90deg,#cb0000,#ff0800,#ff7a00,#ffda00,#dbff24,#a3ff5c,#73ff8c,#4affb5,#26ffd9,#09fff6,#00f3ff,#00e8ff,#00e9ff,#00f7ff,#12ffed,#39ffc6,#6cff93,#a8ff57,#ebff14,#ffcd00,#ff8700,#ff4700,#ff0f00,#e20000,#c40000,#b50000,#b70000,#c90000,#ec0000,#ff1f00,#ff5e00,#ffaa00,#fffe00,#a8ff57,#4fffb0,#00f8ff,#00a9ff,#0064ff,#002bff,#0001ff,#0000e5,#0000db,#0000e1,#0000f4,#0014ff,#003cff,#006aff,#009cff,#00d1ff,#08fff7,#43ffbc,#85ff7a,#d4ff2b,#ffc600,#ff4900,#bf0000,#800000)"></i>
<i style="background:linear-gradient(90deg,#cc0000,#ff0b00,#ff7e00,#ffde00,#d8ff27,#a0ff5f,#71ff8e,#48ffb7,#24ffdb,#07fff8,#00f2ff,#00e7ff,#00e9ff,#00f7ff,#12ffed,#3affc5,#6dff92,#aaff55,#eeff11,#ffc900,#ff8300,#ff4200,#ff0a00,#dc0000,#be0000,#b00000,#b10000,#c30000,#e50000,#ff1700,#ff5700,#ffa200,#fff500,#b1ff4e,#58ffa7,#03fffc,#00b4ff,#006fff,#0037ff,#000cff,#0000f1,#0000e6,#0000ea,#0000fc,#001bff,#0042ff,#006fff,#00a0ff,#00d4ff,#0bfff4,#45ffba,#87ff78,#d6ff29,#ffc400,#ff4800,#be0000,#800000)"></i>
<i style="background:linear-gradient(90deg,#cd0000,#ff0e00,#ff8100,#ffe100,#d6ff29,#9eff61,#6fff90,#46ffb9,#22ffdd,#05fffa,#00f0ff,#00e6ff,#00e8ff,#00f6ff,#12ffed,#3affc5,#6eff91,#abff54,#f0ff0f,#ffc700,#ff8100,#ff3f00,#ff0700,#da0000,#bb0000,#ac0000,#ad0000,#bf0000,#e00000,#ff1200,#ff5100,#ff9c00,#ffef00,#b8ff47,#60ff9f,#0cfff3,#00beff,#007aff,#0042ff,#0018ff,#0000fc,#0000f1,#0000f4,#0006ff,#0023ff,#0048ff,#0075ff,#00a5ff,#00d8ff,#0ffff0,#49ffb6,#8aff75,#d9ff26,#ffc200,#ff4600,#bc0000,#800000)"></i>
<i style="background:linear-gradient(90deg,#cf0000,#ff1100,#ff8400,#ffe300,#d3ff2c,#9cff63,#6dff92,#44ffbb,#21ffde,#04fffb,#00efff,#00e5ff,#00e6ff,#00f5ff,#11ffee,#39ffc6,#6dff92,#abff54,#efff10,#ffc700,#ff8000,#ff3f00,#ff0700,#d90000,#bb0000,#ab0000,#ac0000,#bd0000,#de0000,#ff0f00,#ff4e00,#ff9700,#ffea00,#beff41,#67ff98,#14ffeb,#00c7ff,#0084ff,#004dff,#0024ff,#0009ff,#0000fc,#0000ff,#0010ff,#002cff,#0050ff,#007bff,#00abff,#00ddff,#13ffec,#4cffb3,#8dff72,#dcff23,#ffbf00,#ff4400,#ba0000,#800000)"></i>
<i style="background:linear-gradient(90deg,#d00000,#ff1300,#ff8600,#ffe500,#d1ff2e,#9aff65,#6bff94,#43ffbc,#1fffe0,#03fffc,#00edff,#00e3ff,#00e5ff,#00f3ff,#0ffff0,#38ffc7,#6cff93,#a9ff56,#eeff11,#ffc900,#ff8200,#ff4100,#ff0800,#db0000,#bc0000,#ad0000,#ad0000,#bd0000,#de0000,#ff0f00,#ff4c00,#ff9500,#ffe600,#c2ff3d,#6dff92,#1bffe4,#00cfff,#008eff,#0058ff,#002fff,#0015ff,#0009ff,#000bff,#001bff,#0035ff,#0059ff,#0083ff,#00b1ff,#00e3ff,#18ffe7,#51ffae,#91ff6e,#dfff20,#ffbc00,#ff4000,#b70000,#800000)"></i>
<i style="background:linear-gradient(90deg,#d20000,#ff1400,#ff8700,#ffe700,#d0ff2f,#99ff66,#6aff95,#41ffbe,#1effe1,#01fffe,#00ecff,#00e2ff,#00e3ff,#00f1ff,#0dfff2,#35ffca,#69ff96,#a6ff59,#eaff15,#ffcc00,#ff8600,#ff4500,#ff0d00,#df0000,#c00000,#b10000,#b00000,#c00000,#e00000,#ff1000,#ff4d00,#ff9500,#ffe500,#c5ff3a,#71ff8e,#21ffde,#00d6ff,#0096ff,#0062ff,#003aff,#0021ff,#0015ff,#0017ff,#0026ff,#0040ff,#0062ff,#008bff,#00b9ff,#00e9ff,#1effe1,#56ffa9,#96ff69,#e4ff1b,#ffb800,#ff3c00,#b30000,#800000)"></i>
<i style="background:linear-gradient(90deg,#d40000,#ff1400,#ff8800,#ffe800,#cfff30,#97ff68,#69ff96,#40ffbf,#1dffe2,#00ffff,#00eaff,#00e0ff,#00e1ff,#00eeff,#0afff5,#32ffcd,#65ff9a,#a2ff5d,#e5ff1a,#ffd200,#ff8c00,#ff4b00,#ff1300,#e60000,#c70000,#b70000,#b60000,#c60000,#e50000,#ff1400,#ff5000,#ff9700,#ffe600,#c6ff39,#74ff8b,#25ffda,#00ddff,#009fff,#006cff,#0046ff,#002dff,#0022ff,#0024ff,#0032ff,#004bff,#006cff,#0094ff,#00c1ff,#00f0ff,#24ffdb,#5bffa4,#9bff64,#e9ff16,#ffb300,#ff3700,#ae0000,#800000)"></i>
<i style="background:linear-gradient(90deg,#d70000,#ff1400,#ff8800,#ffe800,#ceff31,#97ff68,#68ff97,#40ffbf,#1cffe3,#00feff,#00e9ff,#00deff,#00deff,#00ebff,#06fff9,#2dffd2,#60ff9f,#9cff63,#dfff20,#ffd900,#ff9400,#ff5400,#ff1c00,#ee0000,#d00000,#bf0000,#be0000,#cd0000,#ec0000,#ff1a00,#ff5500,#ff9b00,#ffe800,#c5ff3a,#75ff8a,#29ffd6,#00e2ff,#00a6ff,#0075ff,#0051ff,#0039ff,#002eff,#0030ff,#003eff,#0056ff,#0077ff,#009eff,#00c9ff,#00f8ff,#2bffd4,#62ff9d,#a1ff5e,#efff10,#ffad00,#ff3100,#a90000,#800000)"></i>
<i style="background:linear-gradient(90deg,#d90000,#ff1400,#ff8800,#ffe900,#ceff31,#96ff69,#68ff97,#3fffc0,#1bffe4,#00fdff,#00e8ff,#00dcff,#00dcff,#00e8ff,#02fffd,#28ffd7,#5affa5,#95ff6a,#d7ff28,#ffe200,#ff9e00,#ff5e00,#ff2700,#fa0000,#db0000,#ca0000,#c90000,#d70000,#f50000,#ff2300,#ff5d00,#ffa100,#ffec00,#c3ff3c,#75ff8a,#2bffd4,#00e7ff,#00adff,#007eff,#005bff,#0045ff,#003bff,#003dff,#004bff,#0063ff,#0082ff,#00a8ff,#00d3ff,#01fffe,#32ffcd,#69ff96,#a8ff57,#f5ff0a,#ffa600,#ff2b00,#a30000,#800000)"></i>
<i style="background:linear-gradient(90deg,#dd0000,#ff1300,#ff8600,#ffe800,#cdff32,#96ff69,#68ff97,#3fffc0,#1bffe4,#00fcff,#00e6ff,#00daff,#00d9ff,#00e4ff,#00fcff,#22ffdd,#52ffad,#8cff73,#cdff32,#ffed00,#ffaa00,#ff6b00,#ff3400,#ff0800,#e80000,#d80000,#d60000,#e40000,#ff0200,#ff2d00,#ff6600,#ffa900,#fff200,#c0ff3f,#74ff8b,#2cffd3,#00ebff,#00b4ff,#0087ff,#0066ff,#0051ff,#0048ff,#004bff,#0058ff,#0070ff,#008eff,#00b3ff,#00ddff,#0afff5,#3bffc4,#70ff8f,#afff50,#fcff03,#ff9f00,#ff2300,#9d0000,#800000)"></i>
<i style="background:linear-gradient(90deg,#e10000,#ff1100,#ff8500,#ffe700,#ceff31,#96ff69,#67ff98,#3fffc0,#1bffe4,#00fbff,#00e5ff,#00d8ff,#00d6ff,#00e0ff,#00f7ff,#1bffe4,#4affb5,#83ff7c,#c2ff3d,#fffa00,#ffb800,#ff7a00,#ff4300,#ff1800,#f80000,#e70000,#e50000,#f20000,#ff1000,#ff3a00,#ff7100,#ffb200,#fffa00,#bbff44,#72ff8d,#2dffd2,#00eeff,#00b9ff,#008fff,#0070ff,#005cff,#0055ff,#0058ff,#0066ff,#007dff,#009bff,#00bfff,#00e7ff,#14ffeb,#44ffbb,#78ff87,#b7ff48,#fffa00,#ff9700,#ff1b00,#960000,#800000)"></i>
<i style="background:linear-gradient(90deg,#e60000,#ff0f00,#ff8200,#ffe600,#ceff31,#96ff69,#68ff97,#3fffc0,#1affe5,#00fbff,#00e3ff,#00d6ff,#00d3ff,#00dcff,#00f1ff,#14ffeb,#41ffbe,#78ff87,#b5ff4a,#f6ff09,#ffc700,#ff8a00,#ff5500,#ff2a00,#ff0b00,#f90000,#f70000,#ff0500,#ff2000,#ff4900,#ff7f00,#ffbe00,#fbff04,#b4ff4b,#6eff91,#2cffd3,#00f0ff,#00beff,#0097ff,#007aff,#0068ff,#0062ff,#0066ff,#0074ff,#008aff,#00a8ff,#00cbff,#00f3ff,#1effe1,#4dffb2,#81ff7e,#bfff40,#fff100,#ff8e00,#ff1200,#8f0000,#800000)"></i>
<i style="background:linear-gradient(90deg,#ec0000,#ff0c00,#ff7f00,#ffe400,#cfff30,#97ff68,#68ff97,#3fffc0,#1affe5,#00faff,#00e2ff,#00d3ff,#00cfff,#00d7ff,#00ebff,#0cfff3,#37ffc8,#6cff93,#a7ff58,#e7ff18,#ffd800,#ff9d00,#ff6800,#ff3e00,#ff1f00,#ff0e00,#ff0c00,#ff1800,#ff3200,#ff5b00,#ff8e00,#ffcb00,#f1ff0e,#acff53,#69ff96,#2bffd4,#00f2ff,#00c3ff,#009eff,#0083ff,#0073ff,#006eff,#0073ff,#0082ff,#0098ff,#00b5ff,#00d8ff,#00feff,#29ffd6,#57ffa8,#8bff74,#c8ff37,#ffe800,#ff8400,#ff0800,#870000,#800000)"></i>
<i style="background:linear-gradient(90deg,#f40000,#ff0900,#ff7c00,#ffe200,#d1ff2e,#97ff68,#68ff97,#3fffc0,#1affe5,#00faff,#00e1ff,#00d1ff,#00ccff,#00d2ff,#00e4ff,#03fffc,#2cffd3,#5fffa0,#98ff67,#d5ff2a,#ffeb00,#ffb100,#ff7e00,#ff5400,#ff3600,#ff2500,#ff2200,#ff2d00,#ff4700,#ff6e00,#ff9f00,#ffda00,#e5ff1a,#a3ff5c,#64ff9b,#28ffd7,#00f3ff,#00c7ff,#00a4ff,#008cff,#007fff,#007bff,#0081ff,#0090ff,#00a7ff,#00c3ff,#00e5ff,#0bfff4,#34ffcb,#61ff9e,#95ff6a,#d2ff2d,#ffde00,#ff7a00,#fd0000,#800000,#800000)"></i>
<i style="background:linear-gradient(90deg,#fe0000,#ff0600,#ff7800,#ffdf00,#d2ff2d,#98ff67,#69ff96,#40ffbf,#1affe5,#00f9ff,#00e0ff,#00cfff,#00c8ff,#00ccff,#00ddff,#00f9ff,#21ffde,#51ffae,#88ff77,#c3ff3c,#ffff00,#ffc700,#ff9500,#ff6c00,#ff4e00,#ff3d00,#ff3a00,#ff4500,#ff5d00,#ff8300,#ffb200,#ffea00,#d7ff28,#99ff66,#5dffa2,#25ffda,#00f3ff,#00caff,#00abff,#0095ff,#008aff,#0088ff,#008fff,#009eff,#00b5ff,#00d1ff,#00f2ff,#18ffe7,#40ffbf,#6cff93,#9fff60,#dcff23,#ffd400,#ff6f00,#f10000,#800000,#800000)"></i>
<i style="background:linear-gradient(90deg,#ff0c00,#ff0300,#ff7300,#ffdc00,#d4ff2b,#9aff65,#6aff95,#40ffbf,#1bffe4,#00f9ff,#00dfff,#00cdff,#00c4ff,#00c7ff,#00d5ff,#00efff,#15ffea,#42ffbd,#77ff88,#b0ff4f,#e9ff16,#ffdf00,#ffae00,#ff8600,#ff6900,#ff5800,#ff5400,#ff5e00,#ff7600,#ff9900,#ffc700,#fffc00,#c9ff36,#8eff71,#56ffa9,#21ffde,#00f3ff,#00cdff,#00b1ff,#009eff,#0095ff,#0094ff,#009dff,#00adff,#00c4ff,#00e0ff,#01fffe,#25ffda,#4cffb3,#78ff87,#aaff55,#e7ff18,#ffc800,#ff6300,#e50000,#800000,#800000)"></i>
<i style="background:linear-gradient(90deg,#ff1c00,#ff0000,#ff6d00,#ffd800,#d7ff28,#9bff64,#6bff94,#41ffbe,#1bffe4,#00f9ff,#00deff,#00caff,#00c1ff,#00c1ff,#00ceff,#00e5ff,#08fff7,#33ffcc,#65ff9a,#9bff64,#d2ff2d,#fff700,#ffc800,#ffa100,#ff8500,#ff7400,#ff7000,#ff7a00,#ff9000,#ffb100,#ffdc00,#f0ff0f,#baff45,#83ff7c,#4dffb2,#1dffe2,#00f2ff,#00d0ff,#00b6ff,#00a6ff,#009fff,#00a1ff,#00abff,#00bbff,#00d2ff,#00eeff,#0ffff0,#32ffcd,#59ffa6,#84ff7b,#b6ff49,#f3ff0c,#ffbc00,#ff5600,#d90000,#800000,#800000)"></i>
<i style="background:linear-gradient(90deg,#ff3000,#fc0000,#ff6700,#ffd300,#daff25,#9dff62,#6dff92,#43ffbc,#1cffe3,#00f9ff,#00ddff,#00c8ff,#00bdff,#00bcff,#00c6ff,#00dbff,#00faff,#23ffdc,#52ffad,#86ff79,#baff45,#edff12,#ffe400,#ffbe00,#ffa200,#ff9200,#ff8e00,#ff9600,#ffab00,#ffca00,#fff300,#dcff23,#a9ff56,#76ff89,#45ffba,#18ffe7,#00f1ff,#00d2ff,#00bcff,#00aeff,#00aaff,#00adff,#00b8ff,#00caff,#00e1ff,#00fdff,#1effe1,#40ffbf,#66ff99,#90ff6f,#c2ff3d,#ffff00,#ffb000,#ff4900,#cb0000,#800000,#8c0000)"></i>
<i style="background:linear-gradient(90deg,#ff4a00,#fa0000,#ff6000,#ffce00,#ddff22,#9fff60,#6eff91,#44ffbb,#1dffe2,#00faff,#00ddff,#00c7ff,#00b9ff,#00b6ff,#00beff,#00d0ff,#00edff,#13ffec,#3fffc0,#70ff8f,#a2ff5d,#d2ff2d,#fdff02,#ffdc00,#ffc100,#ffb100,#ffad00,#ffb400,#ffc700,#ffe500,#f3ff0c,#c7ff38,#98ff67,#69ff96,#3bffc4,#13ffec,#00efff,#00d4ff,#00c1ff,#00b6ff,#00b4ff,#00baff,#00c6ff,#00d8ff,#00f0ff,#0dfff2,#2cffd3,#4effb1,#73ff8c,#9dff62,#ceff31,#fff200,#ffa200,#ff3a00,#be0000,#800000,#a00000)"></i>
<i style="background:linear-gradient(90deg,#ff6a00,#f80000,#ff5900,#ffc800,#e1ff1e,#a2ff5d,#70ff8f,#45ffba,#1fffe0,#00faff,#00dcff,#00c5ff,#00b6ff,#00b1ff,#00b6ff,#00c6ff,#00dfff,#03fffc,#2cffd3,#59ffa6,#88ff77,#b6ff49,#e0ff1f,#fffb00,#ffe100,#ffd100,#ffcd00,#ffd300,#ffe500,#feff01,#dbff24,#b2ff4d,#87ff78,#5bffa4,#32ffcd,#0dfff2,#00edff,#00d6ff,#00c6ff,#00beff,#00beff,#00c6ff,#00d4ff,#00e7ff,#00ffff,#1cffe3,#3bffc4,#5cffa3,#81ff7e,#aaff55,#dbff24,#ffe500,#ff9400,#ff2b00,#af0000,#800000,#bb0000)"></i>
<i style="background:linear-gradient(90deg,#ff9200,#f80000,#ff5100,#ffc100,#e5ff1a,#a5ff5a,#72ff8d,#47ffb8,#20ffdf,#00fbff,#00dcff,#00c4ff,#00b3ff,#00acff,#00afff,#00bbff,#00d2ff,#00f1ff,#18ffe7,#42ffbd,#6fff90,#9aff65,#c1ff3e,#e3ff1c,#fcff03,#fff300,#ffee00,#fff300,#fbff04,#e2ff1d,#c2ff3d,#9cff63,#75ff8a,#4dffb2,#28ffd7,#07fff8,#00ebff,#00d7ff,#00cbff,#00c6ff,#00c8ff,#00d2ff,#00e1ff,#00f5ff,#0ffff0,#2bffd4,#49ffb6,#6aff95,#8fff70,#b7ff48,#e8ff17,#ffd700,#ff8600,#ff1c00,#a10000,#800000,#dd0000)"></i>
<i style="background:linear-gradient(90deg,#ffc500,#fa0000,#ff4900,#ffba00,#eaff15,#a8ff57,#75ff8a,#49ffb6,#22ffdd,#00fcff,#00ddff,#00c3ff,#00b0ff,#00a7ff,#00a7ff,#00b1ff,#00c5ff,#00e1ff,#04fffb,#2bffd4,#55ffaa,#7dff82,#a3ff5c,#c2ff3d,#dbff24,#eaff15,#efff10,#eaff15,#dcff23,#c5ff3a,#a8ff57,#86ff79,#63ff9c,#3fffc0,#1effe1,#01fffe,#00e9ff,#00d9ff,#00cfff,#00cdff,#00d2ff,#00deff,#00eeff,#05fffa,#1effe1,#3affc5,#58ffa7,#79ff86,#9dff62,#c5ff3a,#f6ff09,#ffc900,#ff7600,#ff0b00,#920000,#800000,#ff0a00)"></i>
<i style="background:linear-gradient(90deg,#f9ff06,#ff0000,#ff4000,#ffb200,#f0ff0f,#acff53,#77ff88,#4bffb4,#24ffdb,#00feff,#00ddff,#00c2ff,#00aeff,#00a2ff,#00a0ff,#00a7ff,#00b8ff,#00d0ff,#00f0ff,#15ffea,#3bffc4,#61ff9e,#84ff7b,#a2ff5d,#b9ff46,#c8ff37,#cdff32,#caff35,#bdff42,#a9ff56,#8fff70,#70ff8f,#50ffaf,#31ffce,#14ffeb,#00faff,#00e7ff,#00daff,#00d4ff,#00d5ff,#00dcff,#00e9ff,#00fcff,#13ffec,#2dffd2,#49ffb6,#67ff98,#88ff77,#abff54,#d3ff2c,#fffa00,#ffba00,#ff6600,#f90000,#840000,#800000,#ff4100)"></i>
<i style="background:linear-gradient(90deg,#aaff55,#ff0800,#ff3800,#ffa900,#f6ff09,#b0ff4f,#7aff85,#4effb1,#26ffd9,#01fffe,#00deff,#00c2ff,#00acff,#009eff,#0099ff,#009eff,#00abff,#00c0ff,#00dcff,#00fdff,#21ffde,#44ffbb,#65ff9a,#81ff7e,#97ff68,#a6ff59,#abff54,#a9ff56,#9eff61,#8cff73,#75ff8a,#5affa5,#3effc1,#23ffdc,#0afff5,#00f4ff,#00e5ff,#00dbff,#00d9ff,#00dcff,#00e6ff,#00f5ff,#0afff5,#21ffde,#3cffc3,#58ffa7,#76ff89,#96ff69,#b9ff46,#e2ff1d,#ffeb00,#ffab00,#ff5500,#e70000,#800000,#800000,#ff8600)"></i>
<i style="background:linear-gradient(90deg,#47ffb8,#ff1600,#ff3000,#ff9f00,#fdff02,#b4ff4b,#7eff81,#51ffae,#28ffd7,#03fffc,#00dfff,#00c2ff,#00aaff,#009aff,#0093ff,#0095ff,#009fff,#00b1ff,#00c9ff,#00e7ff,#07fff8,#28ffd7,#46ffb9,#61ff9e,#76ff89,#84ff7b,#8aff75,#88ff77,#7fff80,#70ff8f,#5cffa3,#44ffbb,#2cffd3,#15ffea,#00ffff,#00eeff,#00e3ff,#00ddff,#00ddff,#00e4ff,#00f0ff,#02fffd,#17ffe8,#30ffcf,#4bffb4,#67ff98,#85ff7a,#a5ff5a,#c8ff37,#f0ff0f,#ffdc00,#ff9a00,#ff4300,#d50000,#800000,#800000,#ffdd00)"></i>
<i style="background:linear-gradient(90deg,#00caff,#ff2900,#ff2800,#ff9400,#fff900,#b9ff46,#81ff7e,#54ffab,#2bffd4,#05fffa,#00e1ff,#00c2ff,#00a9ff,#0097ff,#008dff,#008cff,#0093ff,#00a2ff,#00b7ff,#00d1ff,#00eeff,#0cfff3,#28ffd7,#41ffbe,#55ffaa,#62ff9d,#69ff96,#68ff97,#61ff9e,#54ffab,#43ffbc,#2fffd0,#1bffe4,#07fff8,#00f5ff,#00e8ff,#00e1ff,#00deff,#00e2ff,#00ebff,#00faff,#0efff1,#24ffdb,#3effc1,#59ffa6,#76ff89,#94ff6b,#b4ff4b,#d6ff29,#ffff00,#ffcc00,#ff8a00,#ff3100,#c30000,#800000,#800000,#b5ff4a)"></i>
<i style="background:linear-gradient(90deg,#0031ff,#ff4600,#ff2200,#ff8900,#fff100,#bfff40,#86ff79,#57ffa8,#2effd1,#08fff7,#00e3ff,#00c3ff,#00a9ff,#0095ff,#0088ff,#0084ff,#0088ff,#0093ff,#00a5ff,#00bcff,#00d6ff,#00f0ff,#0bfff4,#22ffdd,#34ffcb,#41ffbe,#48ffb7,#49ffb6,#43ffbc,#39ffc6,#2bffd4,#1affe5,#09fff6,#00f9ff,#00ecff,#00e3ff,#00dfff,#00e0ff,#00e7ff,#00f3ff,#04fffb,#19ffe6,#31ffce,#4cffb3,#68ff97,#85ff7a,#a3ff5c,#c2ff3d,#e5ff1a,#fff000,#ffbc00,#ff7800,#ff1e00,#b00000,#800000,#840000,#2effd1)"></i>
<i style="background:linear-gradient(90deg,#000080,#ff6d00,#ff1d00,#ff7d00,#ffe700,#c6ff39,#8aff75,#5bffa4,#31ffce,#0bfff4,#00e6ff,#00c5ff,#00a9ff,#0093ff,#0084ff,#007dff,#007eff,#0086ff,#0095ff,#00a8ff,#00beff,#00d6ff,#00eeff,#04fffb,#15ffea,#22ffdd,#29ffd6,#2affd5,#26ffd9,#1effe1,#13ffec,#06fff9,#00f8ff,#00ecff,#00e3ff,#00deff,#00ddff,#00e2ff,#00ecff,#00faff,#0efff1,#25ffda,#3effc1,#5affa5,#76ff89,#94ff6b,#b2ff4d,#d1ff2e,#f4ff0b,#ffe100,#ffac00,#ff6600,#ff0b00,#9d0000,#800000,#a70000,#0086ff)"></i>
<i style="background:linear-gradient(90deg,#000080,#ffa300,#ff1c00,#ff7000,#ffdc00,#cdff32,#8fff70,#5fffa0,#35ffca,#0efff1,#00e9ff,#00c7ff,#00aaff,#0092ff,#0081ff,#0077ff,#0075ff,#007aff,#0085ff,#0095ff,#00a8ff,#00bdff,#00d2ff,#00e6ff,#00f6ff,#03fffc,#0afff5,#0dfff2,#0bfff4,#05fffa,#00fbff,#00f2ff,#00e8ff,#00e0ff,#00dbff,#00d9ff,#00dcff,#00e4ff,#00f1ff,#03fffc,#18ffe7,#30ffcf,#4bffb4,#67ff98,#85ff7a,#a2ff5d,#c0ff3f,#e0ff1f,#fffb00,#ffd100,#ff9b00,#ff5400,#f50000,#8a0000,#800000,#d80000,#0000b6)"></i>
<i style="background:linear-gradient(90deg,#000080,#ffec00,#ff1e00,#ff6400,#ffd000,#d6ff29,#95ff6a,#63ff9c,#39ffc6,#12ffed,#00ecff,#00caff,#00abff,#0091ff,#007eff,#0072ff,#006dff,#006eff,#0076ff,#0083ff,#0093ff,#00a6ff,#00b8ff,#00caff,#00d9ff,#00e4ff,#00ecff,#00efff,#00efff,#00ebff,#00e6ff,#00dfff,#00d9ff,#00d5ff,#00d3ff,#00d5ff,#00dcff,#00e7ff,#00f6ff,#0bfff4,#22ffdd,#3cffc3,#58ffa7,#75ff8a,#93ff6c,#b1ff4e,#cfff30,#efff10,#ffec00,#ffc100,#ff8a00,#ff4000,#e10000,#800000,#800000,#ff1c00,#000080)"></i>
<i style="background:linear-gradient(90deg,#000080,#b2ff4d,#ff2700,#ff5700,#ffc300,#dfff20,#9cff63,#68ff97,#3effc1,#16ffe9,#00f0ff,#00cdff,#00adff,#0092ff,#007dff,#006eff,#0066ff,#0064ff,#0069ff,#0073ff,#0080ff,#0090ff,#00a0ff,#00b0ff,#00beff,#00c9ff,#00d0ff,#00d5ff,#00d6ff,#00d4ff,#00d1ff,#00ceff,#00cbff,#00caff,#00ccff,#00d2ff,#00dcff,#00eaff,#00fcff,#13ffec,#2cffd3,#47ffb8,#65ff9a,#83ff7c,#a1ff5e,#bfff40,#deff21,#feff01,#ffdc00,#ffb100,#ff7800,#ff2c00,#cb0000,#800000,#800000,#ff7400,#000080)"></i>
<i style="background:linear-gradient(90deg,#000080,#33ffcc,#ff3900,#ff4c00,#ffb500,#eaff15,#a3ff5c,#6eff91,#42ffbd,#1bffe4,#00f4ff,#00d1ff,#00b0ff,#0093ff,#007cff,#006bff,#0060ff,#005cff,#005dff,#0064ff,#006eff,#007bff,#0089ff,#0097ff,#00a4ff,#00aeff,#00b6ff,#00bbff,#00beff,#00bfff,#00beff,#00beff,#00beff,#00c1ff,#00c6ff,#00cfff,#00dcff,#00edff,#03fffc,#1bffe4,#36ffc9,#53ffac,#71ff8e,#90ff6f,#afff50,#ceff31,#ecff13,#fff100,#ffcd00,#ffa000,#ff6600,#ff1800,#b60000,#800000,#800000,#ffe700,#000080)"></i>
<i style="background:linear-gradient(90deg,#000080,#008cff,#ff5500,#ff4200,#ffa600,#f6ff09,#abff54,#74ff8b,#48ffb7,#20ffdf,#00f9ff,#00d5ff,#00b4ff,#0096ff,#007cff,#0069ff,#005cff,#0054ff,#0053ff,#0057ff,#005eff,#0068ff,#0074ff,#0080ff,#008cff,#0096ff,#009eff,#00a4ff,#00a8ff,#00abff,#00adff,#00afff,#00b3ff,#00b8ff,#00c1ff,#00cdff,#00ddff,#00f1ff,#09fff6,#23ffdc,#40ffbf,#5fffa0,#7eff81,#9eff61,#bdff42,#dcff23,#fbff04,#ffe200,#ffbd00,#ff8f00,#ff5300,#ff0300,#a10000,#800000,#800000,#81ff7e,#000080)"></i>
<i style="background:linear-gradient(90deg,#000080,#0000b4,#ff8200,#ff3c00,#ff9600,#fffb00,#b5ff4a,#7bff84,#4effb1,#26ffd9,#00ffff,#00daff,#00b8ff,#0099ff,#007eff,#0068ff,#0058ff,#004fff,#004aff,#004bff,#0050ff,#0057ff,#0061ff,#006cff,#0076ff,#007fff,#0087ff,#008eff,#0093ff,#0098ff,#009cff,#00a2ff,#00a8ff,#00b1ff,#00bdff,#00ccff,#00deff,#00f5ff,#0ffff0,#2cffd3,#4affb5,#6aff95,#8bff74,#abff54,#cbff34,#eaff15,#fff500,#ffd400,#ffad00,#ff7e00,#ff3f00,#ec0000,#8c0000,#800000,#a50000,#00beff,#000080)"></i>
<i style="background:linear-gradient(90deg,#000080,#000080,#ffc300,#ff3a00,#ff8600,#ffed00,#bfff40,#83ff7c,#54ffab,#2bffd4,#06fff9,#00e0ff,#00bdff,#009dff,#0081ff,#0069ff,#0057ff,#004aff,#0043ff,#0041ff,#0043ff,#0049ff,#0050ff,#0059ff,#0062ff,#006bff,#0073ff,#007aff,#0081ff,#0087ff,#008eff,#0096ff,#009fff,#00abff,#00b9ff,#00cbff,#00e1ff,#00faff,#16ffe9,#35ffca,#55ffaa,#76ff89,#97ff68,#b8ff47,#d9ff26,#f8ff07,#ffe600,#ffc500,#ff9d00,#ff6c00,#ff2b00,#d50000,#800000,#800000,#e40000,#0000c5,#000080)"></i>
<i style="background:linear-gradient(90deg,#000080,#000080,#dfff20,#ff3f00,#ff7600,#ffdd00,#cbff34,#8bff74,#5bffa4,#32ffcd,#0cfff3,#00e6ff,#00c3ff,#00a2ff,#0084ff,#006bff,#0057ff,#0048ff,#003eff,#0039ff,#0039ff,#003cff,#0041ff,#0048ff,#0050ff,#0059ff,#0061ff,#0069ff,#0070ff,#0078ff,#0081ff,#008bff,#0097ff,#00a6ff,#00b7ff,#00ccff,#00e4ff,#00ffff,#1effe1,#3effc1,#60ff9f,#82ff7d,#a4ff5b,#c6ff39,#e6ff19,#fff800,#ffd800,#ffb500,#ff8d00,#ff5900,#ff1500,#be0000,#800000,#800000,#ff3e00,#000080,#000080)"></i>
<i style="background:linear-gradient(90deg,#000080,#000080,#5effa1,#ff4e00,#ff6800,#ffcb00,#d8ff27,#95ff6a,#63ff9c,#39ffc6,#13ffec,#00edff,#00caff,#00a8ff,#0089ff,#006eff,#0058ff,#0047ff,#003bff,#0033ff,#0030ff,#0031ff,#0034ff,#003aff,#0041ff,#0049ff,#0051ff,#0059ff,#0062ff,#006bff,#0076ff,#0082ff,#0091ff,#00a2ff,#00b6ff,#00cdff,#00e7ff,#06fff9,#26ffd9,#47ffb8,#6aff95,#8eff71,#b1ff4e,#d3ff2c,#f4ff0b,#ffea00,#ffca00,#ffa600,#ff7c00,#ff4600,#ff0000,#a80000,#800000,#800000,#ffb700,#000080,#000080)"></i>
<i style="background:linear-gradient(90deg,#000080,#000080,#00adff,#ff6c00,#ff5c00,#ffb900,#e8ff17,#a0ff5f,#6bff94,#41ffbe,#1affe5,#00f5ff,#00d1ff,#00afff,#008fff,#0073ff,#005bff,#0047ff,#0039ff,#002fff,#002aff,#0028ff,#002aff,#002eff,#0034ff,#003bff,#0043ff,#004cff,#0055ff,#0060ff,#006dff,#007bff,#008cff,#009fff,#00b6ff,#00cfff,#00ecff,#0cfff3,#2effd1,#51ffae,#76ff89,#9aff65,#bdff42,#e0ff1f,#fffd00,#ffdc00,#ffbb00,#ff9700,#ff6b00,#ff3200,#e80000,#910000,#800000,#800000,#a2ff5d,#000080,#000080)"></i>
<i style="background:linear-gradient(90deg,#000080,#000080,#0000bd,#ff9f00,#ff5400,#ffa600,#f8ff07,#adff52,#75ff8a,#49ffb6,#23ffdc,#00fdff,#00daff,#00b7ff,#0097ff,#0079ff,#005fff,#004aff,#0039ff,#002dff,#0026ff,#0022ff,#0022ff,#0024ff,#0029ff,#002fff,#0037ff,#0041ff,#004bff,#0057ff,#0065ff,#0076ff,#0088ff,#009eff,#00b7ff,#00d3ff,#00f1ff,#14ffeb,#37ffc8,#5cffa3,#81ff7e,#a6ff59,#caff35,#edff12,#ffef00,#ffce00,#ffac00,#ff8700,#ff5900,#ff1e00,#d10000,#800000,#800000,#b00000,#00c6ff,#000080,#000080)"></i>
<i style="background:linear-gradient(90deg,#000080,#000080,#000080,#ffed00,#ff5300,#ff9300,#fff300,#bbff44,#80ff7f,#52ffad,#2bffd4,#07fff8,#00e3ff,#00c0ff,#009fff,#0080ff,#0065ff,#004eff,#003cff,#002dff,#0024ff,#001eff,#001cff,#001dff,#0021ff,#0027ff,#002eff,#0038ff,#0043ff,#0050ff,#0060ff,#0072ff,#0087ff,#009eff,#00b9ff,#00d7ff,#00f8ff,#1cffe3,#40ffbf,#66ff99,#8cff73,#b2ff4d,#d7ff28,#faff05,#ffe200,#ffc100,#ff9e00,#ff7600,#ff4600,#ff0800,#b90000,#800000,#800000,#ff0100,#0000a2,#000080,#000080)"></i>
<i style="background:linear-gradient(90deg,#000080,#000080,#000080,#9cff63,#ff5d00,#ff8100,#ffdf00,#cbff34,#8cff73,#5cffa3,#34ffcb,#10ffef,#00ecff,#00caff,#00a8ff,#0089ff,#006dff,#0054ff,#0040ff,#0030ff,#0024ff,#001dff,#0019ff,#0018ff,#001bff,#0020ff,#0028ff,#0031ff,#003dff,#004cff,#005cff,#0070ff,#0087ff,#00a0ff,#00bdff,#00dcff,#00ffff,#24ffdb,#4affb5,#71ff8e,#98ff67,#beff41,#e4ff1b,#fff700,#ffd500,#ffb300,#ff8f00,#ff6600,#ff3300,#f10000,#a20000,#800000,#800000,#ff7300,#000080,#000080,#000080)"></i>
<i style="background:linear-gradient(90deg,#000080,#000080,#000080,#00f3ff,#ff7800,#ff7100,#ffca00,#ddff22,#99ff66,#67ff98,#3fffc0,#1affe5,#00f6ff,#00d4ff,#00b3ff,#0093ff,#0076ff,#005cff,#0046ff,#0034ff,#0027ff,#001dff,#0018ff,#0016ff,#0018ff,#001cff,#0024ff,#002dff,#003aff,#0049ff,#005bff,#0070ff,#0088ff,#00a3ff,#00c2ff,#00e3ff,#08fff7,#2effd1,#55ffaa,#7cff83,#a4ff5b,#cbff34,#f0ff0f,#ffea00,#ffc700,#ffa400,#ff7f00,#ff5400,#ff1f00,#da0000,#8a0000,#800000,#800000,#e9ff16,#000080,#000080,#000080)"></i>
<i style="background:linear-gradient(90deg,#000080,#000080,#000080,#0006ff,#ffa900,#ff6700,#ffb300,#f1ff0e,#a9ff56,#73ff8c,#49ffb6,#25ffda,#02fffd,#00e0ff,#00beff,#009eff,#0080ff,#0065ff,#004eff,#003aff,#002bff,#0021ff,#001aff,#0017ff,#0017ff,#001bff,#0022ff,#002cff,#0039ff,#0049ff,#005cff,#0072ff,#008bff,#00a8ff,#00c8ff,#00ebff,#11ffee,#38ffc7,#60ff9f,#88ff77,#b0ff4f,#d8ff27,#fdff02,#ffdd00,#ffb900,#ff9600,#ff6f00,#ff4200,#ff0a00,#c20000,#800000,#800000,#ac0000,#0afff5,#000080,#000080,#000080)"></i>
<i style="background:linear-gradient(90deg,#000080,#000080,#000080,#000080,#fffb00,#ff6600,#ff9e00,#fff700,#baff45,#81ff7e,#55ffaa,#30ffcf,#0efff1,#00ecff,#00caff,#00aaff,#008cff,#0070ff,#0058ff,#0043ff,#0032ff,#0026ff,#001eff,#001aff,#0019ff,#001cff,#0023ff,#002dff,#003aff,#004bff,#005eff,#0076ff,#0090ff,#00aeff,#00d0ff,#00f3ff,#1bffe4,#42ffbd,#6bff94,#94ff6b,#bdff42,#e4ff1b,#fff400,#ffcf00,#ffac00,#ff8700,#ff5f00,#ff2f00,#f30000,#aa0000,#800000,#800000,#ff0400,#0000d8,#000080,#000080,#000080)"></i>
<i style="background:linear-gradient(90deg,#000080,#000080,#000080,#000080,#82ff7d,#ff7300,#ff8a00,#ffe000,#ceff31,#91ff6e,#63ff9c,#3dffc2,#1affe5,#00f8ff,#00d8ff,#00b8ff,#0099ff,#007dff,#0063ff,#004dff,#003cff,#002eff,#0024ff,#001fff,#001eff,#0020ff,#0026ff,#0030ff,#003eff,#004fff,#0063ff,#007bff,#0097ff,#00b6ff,#00d8ff,#00fdff,#25ffda,#4effb1,#77ff88,#a1ff5e,#caff35,#f1ff0e,#ffe700,#ffc200,#ff9e00,#ff7800,#ff4e00,#ff1b00,#db0000,#920000,#800000,#800000,#ff8500,#000080,#000080,#000080,#000080)"></i>
<i style="background:linear-gradient(90deg,#000080,#000080,#000080,#000080,#00c2ff,#ff9500,#ff7a00,#ffc700,#e4ff1b,#a2ff5d,#71ff8e,#4affb5,#27ffd8,#07fff8,#00e6ff,#00c6ff,#00a7ff,#008bff,#0071ff,#005aff,#0047ff,#0038ff,#002dff,#0027ff,#0025ff,#0026ff,#002cff,#0036ff,#0043ff,#0055ff,#006aff,#0083ff,#00a0ff,#00c0ff,#00e3ff,#09fff6,#31ffce,#5affa5,#84ff7b,#aeff51,#d7ff28,#ffff00,#ffd900,#ffb400,#ff8f00,#ff6800,#ff3c00,#ff0600,#c40000,#800000,#800000,#8a0000,#beff41,#000080,#000080,#000080,#000080)"></i>
<i style="background:linear-gradient(90deg,#000080,#000080,#000080,#000080,#0000ac,#ffd600,#ff7300,#ffae00,#fcff03,#b6ff49,#81ff7e,#58ffa7,#35ffca,#15ffea,#00f4ff,#00d5ff,#00b7ff,#009aff,#0080ff,#0068ff,#0054ff,#0044ff,#0039ff,#0031ff,#002eff,#002fff,#0034ff,#003eff,#004cff,#005dff,#0073ff,#008cff,#00aaff,#00caff,#00eeff,#15ffea,#3effc1,#67ff98,#91ff6e,#bbff44,#e4ff1b,#fff200,#ffcc00,#ffa600,#ff8100,#ff5800,#ff2900,#ef0000,#ab0000,#800000,#800000,#d30000,#00b5ff,#000080,#000080,#000080,#000080)"></i>
<i style="background:linear-gradient(90deg,#000080,#000080,#000080,#000080,#000080,#bbff44,#ff7900,#ff9700,#ffe800,#ccff33,#93ff6c,#68ff97,#44ffbb,#24ffdb,#05fffa,#00e5ff,#00c7ff,#00abff,#0090ff,#0078ff,#0063ff,#0053ff,#0046ff,#003eff,#003aff,#003aff,#003fff,#0048ff,#0056ff,#0068ff,#007eff,#0098ff,#00b6ff,#00d7ff,#00fbff,#23ffdc,#4bffb4,#75ff8a,#9fff60,#c9ff36,#f2ff0d,#ffe400,#ffbe00,#ff9800,#ff7100,#ff4700,#ff1500,#d80000,#930000,#800000,#800000,#ff4700,#000080,#000080,#000080,#000080,#000080)"></i>
<i style="background:linear-gradient(90deg,#000080,#000080,#000080,#000080,#000080,#0efff1,#ff9500,#ff8500,#ffcc00,#e5ff1a,#a8ff57,#79ff86,#54ffab,#33ffcc,#15ffea,#00f6ff,#00d9ff,#00bcff,#00a2ff,#008aff,#0074ff,#0063ff,#0056ff,#004dff,#0048ff,#0048ff,#004cff,#0055ff,#0063ff,#0075ff,#008bff,#00a5ff,#00c3ff,#00e4ff,#0afff5,#31ffce,#5affa5,#83ff7c,#aeff51,#d7ff28,#fffe00,#ffd600,#ffb000,#ff8900,#ff6100,#ff3400,#fe0000,#bf0000,#800000,#800000,#810000,#fff400,#000080,#000080,#000080,#000080,#000080)"></i>
<i style="background:linear-gradient(90deg,#000080,#000080,#000080,#000080,#000080,#0009ff,#ffd100,#ff7b00,#ffb100,#fffe00,#beff41,#8cff73,#65ff9a,#44ffbb,#26ffd9,#09fff6,#00ebff,#00cfff,#00b5ff,#009dff,#0087ff,#0075ff,#0067ff,#005eff,#0058ff,#0058ff,#005cff,#0064ff,#0071ff,#0083ff,#0099ff,#00b4ff,#00d2ff,#00f3ff,#19ffe6,#40ffbf,#69ff96,#93ff6c,#bcff43,#e6ff19,#fff000,#ffc800,#ffa100,#ff7a00,#ff5000,#ff2000,#e70000,#a60000,#800000,#800000,#c80000,#0cfff3,#000080,#000080,#000080,#000080,#000080)"></i>
<i style="background:linear-gradient(90deg,#000080,#000080,#000080,#000080,#000080,#000080,#c1ff3e,#ff8100,#ff9800,#ffe100,#d8ff27,#a1ff5e,#78ff87,#56ffa9,#38ffc7,#1bffe4,#00feff,#00e3ff,#00c9ff,#00b1ff,#009bff,#0089ff,#007bff,#0070ff,#006bff,#0069ff,#006dff,#0075ff,#0082ff,#0094ff,#00aaff,#00c4ff,#00e2ff,#05fffa,#29ffd6,#50ffaf,#79ff86,#a2ff5d,#ccff33,#f5ff0a,#ffe100,#ffb900,#ff9200,#ff6a00,#ff3e00,#ff0b00,#cf0000,#8e0000,#800000,#800000,#ff3e00,#00009f,#000080,#000080,#000080,#000080,#000080)"></i>
<i style="background:linear-gradient(90deg,#000080,#000080,#000080,#000080,#000080,#000080,#0ffff0,#ffa000,#ff8500,#ffc300,#f4ff0b,#b9ff46,#8cff73,#69ff96,#4affb5,#2effd1,#13ffec,#00f7ff,#00deff,#00c6ff,#00b1ff,#009fff,#0090ff,#0085ff,#007fff,#007dff,#0080ff,#0088ff,#0095ff,#00a6ff,#00bcff,#00d6ff,#00f4ff,#16ffe9,#3bffc4,#61ff9e,#89ff76,#b2ff4d,#dbff24,#fffa00,#ffd200,#ffaa00,#ff8200,#ff5800,#ff2a00,#f40000,#b60000,#800000,#800000,#8b0000,#fff300,#000080,#000080,#000080,#000080,#000080,#000080)"></i>
<i style="background:linear-gradient(90deg,#000080,#000080,#000080,#000080,#000080,#000080,#0000fa,#ffe400,#ff7e00,#ffa700,#ffec00,#d4ff2b,#a3ff5c,#7dff82,#5effa1,#42ffbd,#27ffd8,#0dfff2,#00f4ff,#00ddff,#00c8ff,#00b5ff,#00a7ff,#009cff,#0095ff,#0093ff,#0095ff,#009dff,#00a9ff,#00baff,#00d0ff,#00e9ff,#08fff7,#29ffd6,#4dffb2,#73ff8c,#9bff64,#c3ff3c,#ecff13,#ffea00,#ffc200,#ff9a00,#ff7100,#ff4600,#ff1500,#db0000,#9c0000,#800000,#800000,#dc0000,#00fbff,#000080,#000080,#000080,#000080,#000080,#000080)"></i>
<i style="background:linear-gradient(90deg,#000080,#000080,#000080,#000080,#000080,#000080,#000080,#9cff63,#ff8b00,#ff8e00,#ffcc00,#f1ff0e,#bcff43,#93ff6c,#72ff8d,#56ffa9,#3cffc3,#23ffdc,#0bfff4,#00f4ff,#00dfff,#00cdff,#00beff,#00b3ff,#00acff,#00aaff,#00acff,#00b3ff,#00bfff,#00d0ff,#00e5ff,#00feff,#1cffe3,#3dffc2,#60ff9f,#86ff79,#acff53,#d4ff2b,#fcff03,#ffda00,#ffb200,#ff8a00,#ff6000,#ff3200,#fd0000,#c20000,#840000,#800000,#800000,#ff6500,#000080,#000080,#000080,#000080,#000080,#000080,#000080)"></i>
<i style="background:linear-gradient(90deg,#000080,#000080,#000080,#000080,#000080,#000080,#000080,#00caff,#ffb800,#ff7f00,#ffad00,#ffed00,#d9ff26,#acff53,#89ff76,#6cff93,#52ffad,#3affc5,#23ffdc,#0dfff2,#00f8ff,#00e6ff,#00d8ff,#00ccff,#00c5ff,#00c3ff,#00c4ff,#00cbff,#00d6ff,#00e7ff,#00fbff,#15ffea,#31ffce,#51ffae,#74ff8b,#99ff66,#bfff40,#e6ff19,#fff100,#ffc900,#ffa100,#ff7800,#ff4c00,#ff1c00,#e40000,#a70000,#800000,#800000,#ab0000,#c4ff3b,#000080,#000080,#000080,#000080,#000080,#000080,#000080)"></i>
<i style="background:linear-gradient(90deg,#000080,#000080,#000080,#000080,#000080,#000080,#000080,#000080,#e8ff17,#ff8100,#ff9100,#ffcb00,#f8ff07,#c7ff38,#a1ff5e,#83ff7c,#68ff97,#51ffae,#3affc5,#25ffda,#12ffed,#01fffe,#00f1ff,#00e6ff,#00dfff,#00dcff,#00deff,#00e4ff,#00efff,#00ffff,#14ffeb,#2cffd3,#48ffb7,#67ff98,#89ff76,#acff53,#d2ff2d,#f8ff07,#ffdf00,#ffb700,#ff8f00,#ff6500,#ff3700,#ff0400,#ca0000,#8e0000,#800000,#800000,#ff1800,#0080ff,#000080,#000080,#000080,#000080,#000080,#000080,#000080)"></i>
<i style="background:linear-gradient(90deg,#000080,#000080,#000080,#000080,#000080,#000080,#000080,#000080,#3effc1,#ffa100,#ff7d00,#ffaa00,#ffe500,#e5ff1a,#bcff43,#9cff63,#80ff7f,#68ff97,#52ffad,#3effc1,#2cffd3,#1bffe4,#0dfff2,#02fffd,#00faff,#00f7ff,#00f8ff,#00feff,#0afff5,#19ffe6,#2cffd3,#43ffbc,#5effa1,#7dff82,#9eff61,#c1ff3e,#e5ff1a,#fff300,#ffcd00,#ffa500,#ff7c00,#ff5000,#ff2000,#e90000,#af0000,#800000,#800000,#950000,#ffcb00,#000080,#000080,#000080,#000080,#000080,#000080,#000080,#000080)"></i>
<i style="background:linear-gradient(90deg,#000080,#000080,#000080,#000080,#000080,#000080,#000080,#000080,#0023ff,#ffef00,#ff7b00,#ff8c00,#ffc200,#fff700,#daff25,#b6ff49,#9aff65,#81ff7e,#6bff94,#58ffa7,#46ffb9,#36ffc9,#28ffd7,#1effe1,#17ffe8,#14ffeb,#15ffea,#1affe5,#24ffdb,#32ffcd,#45ffba,#5cffa3,#76ff89,#93ff6c,#b3ff4c,#d5ff2a,#f9ff06,#ffe000,#ffb900,#ff9100,#ff6700,#ff3a00,#ff0700,#ce0000,#940000,#800000,#800000,#f20000,#1affe5,#000080,#000080,#000080,#000080,#000080,#000080,#000080,#000080)"></i>
<i style="background:linear-gradient(90deg,#000080,#000080,#000080,#000080,#000080,#000080,#000080,#000080,#000080,#78ff87,#ff9500,#ff7700,#ff9f00,#ffd400,#faff05,#d4ff2b,#b5ff4a,#9bff64,#85ff7a,#72ff8d,#60ff9f,#51ffae,#44ffbb,#3affc5,#33ffcc,#30ffcf,#30ffcf,#36ffc9,#3fffc0,#4dffb2,#5fffa0,#74ff8b,#8eff71,#aaff55,#c9ff36,#ebff14,#fff000,#ffcb00,#ffa500,#ff7c00,#ff5100,#ff2100,#eb0000,#b20000,#800000,#800000,#8f0000,#ff9500,#000080,#000080,#000080,#000080,#000080,#000080,#000080,#000080,#000080)"></i>
<i style="background:linear-gradient(90deg,#000080,#000080,#000080,#000080,#000080,#000080,#000080,#000080,#000080,#0074ff,#ffde00,#ff7400,#ff8000,#ffaf00,#ffe000,#f4ff0b,#d2ff2d,#b7ff48,#a0ff5f,#8dff72,#7bff84,#6cff93,#60ff9f,#56ffa9,#4fffb0,#4cffb3,#4dffb2,#52ffad,#5affa5,#68ff97,#79ff86,#8eff71,#a6ff59,#c2ff3d,#e0ff1f,#fffd00,#ffdb00,#ffb600,#ff8f00,#ff6500,#ff3800,#ff0600,#ce0000,#960000,#800000,#800000,#e80000,#63ff9c,#000080,#000080,#000080,#000080,#000080,#000080,#000080,#000080,#000080)"></i>
<i style="background:linear-gradient(90deg,#000080,#000080,#000080,#000080,#000080,#000080,#000080,#000080,#000080,#000080,#8dff72,#ff8f00,#ff6c00,#ff8c00,#ffbb00,#ffe700,#f2ff0d,#d5ff2a,#bdff42,#a8ff57,#97ff68,#88ff77,#7cff83,#72ff8d,#6cff93,#69ff96,#69ff96,#6eff91,#76ff89,#83ff7c,#93ff6c,#a7ff58,#bfff40,#daff25,#f7ff08,#ffe700,#ffc400,#ff9f00,#ff7800,#ff4c00,#ff1d00,#e80000,#b10000,#800000,#800000,#960000,#ff8900,#0000c9,#000080,#000080,#000080,#000080,#000080,#000080,#000080,#000080,#000080)"></i>
<i style="background:linear-gradient(90deg,#000080,#000080,#000080,#000080,#000080,#000080,#000080,#000080,#000080,#000080,#0087ff,#ffdf00,#ff6d00,#ff6f00,#ff9500,#ffc100,#ffe800,#f5ff0a,#dbff24,#c6ff39,#b4ff4b,#a5ff5a,#99ff66,#8fff70,#89ff76,#86ff79,#86ff79,#8aff75,#92ff6d,#9eff61,#aeff51,#c2ff3d,#d9ff26,#f3ff0c,#ffee00,#ffcf00,#ffac00,#ff8700,#ff5e00,#ff3100,#ff0000,#ca0000,#950000,#800000,#800000,#f50000,#6cff93,#000080,#000080,#000080,#000080,#000080,#000080,#000080,#000080,#000080,#000080)"></i>
<i style="background:linear-gradient(90deg,#000080,#000080,#000080,#000080,#000080,#000080,#000080,#000080,#000080,#000080,#000080,#7eff81,#ff9300,#ff6000,#ff7300,#ff9b00,#ffc300,#ffe500,#fcff03,#e5ff1a,#d2ff2d,#c3ff3c,#b6ff49,#adff52,#a6ff59,#a3ff5c,#a3ff5c,#a7ff58,#afff50,#baff45,#caff35,#dcff23,#f3ff0c,#fff200,#ffd500,#ffb500,#ff9200,#ff6c00,#ff4200,#ff1300,#e00000,#ac0000,#800000,#800000,#ab0000,#ffa300,#0000c7,#000080,#000080,#000080,#000080,#000080,#000080,#000080,#000080,#000080,#000080)"></i>
<i style="background:linear-gradient(90deg,#000080,#000080,#000080,#000080,#000080,#000080,#000080,#000080,#000080,#000080,#000080,#005eff,#fff500,#ff6b00,#ff5b00,#ff7500,#ff9b00,#ffbf00,#ffde00,#fff700,#f2ff0d,#e2ff1d,#d5ff2a,#cbff34,#c5ff3a,#c1ff3e,#c1ff3e,#c5ff3a,#ccff33,#d7ff28,#e6ff19,#f8ff07,#fff000,#ffd700,#ffba00,#ff9a00,#ff7700,#ff4f00,#ff2300,#f20000,#c00000,#910000,#800000,#890000,#ff1c00,#3affc5,#000080,#000080,#000080,#000080,#000080,#000080,#000080,#000080,#000080,#000080,#000080)"></i>
<i style="background:linear-gradient(90deg,#000080,#000080,#000080,#000080,#000080,#000080,#000080,#000080,#000080,#000080,#000080,#000080,#46ffb9,#ffa600,#ff5700,#ff5800,#ff7500,#ff9700,#ffb700,#ffd300,#ffe900,#fffb00,#f5ff0a,#ebff14,#e4ff1b,#e0ff1f,#e0ff1f,#e3ff1c,#eaff15,#f4ff0b,#fffb00,#ffe900,#ffd400,#ffbb00,#ff9e00,#ff7d00,#ff5800,#ff2f00,#ff0200,#d20000,#a30000,#800000,#800000,#d20000,#ffe800,#000080,#000080,#000080,#000080,#000080,#000080,#000080,#000080,#000080,#000080,#000080,#000080)"></i>
<i style="background:linear-gradient(90deg,#000080,#000080,#000080,#000080,#000080,#000080,#000080,#000080,#000080,#000080,#000080,#000080,#0000ec,#d1ff2e,#ff7800,#ff4a00,#ff5300,#ff7000,#ff8f00,#ffac00,#ffc400,#ffd700,#ffe600,#fff200,#fff900,#fffe00,#fffe00,#fffc00,#fff500,#ffeb00,#ffdd00,#ffcb00,#ffb600,#ff9c00,#ff7f00,#ff5d00,#ff3700,#ff0e00,#e00000,#b20000,#8c0000,#800000,#ae0000,#ff6700,#00beff,#000080,#000080,#000080,#000080,#000080,#000080,#000080,#000080,#000080,#000080,#000080,#000080)"></i>
<i style="background:linear-gradient(90deg,#000080,#000080,#000080,#000080,#000080,#000080,#000080,#000080,#000080,#000080,#000080,#000080,#000080,#00cfff,#ffd900,#ff5c00,#ff4000,#ff4d00,#ff6700,#ff8300,#ff9c00,#ffb100,#ffc100,#ffce00,#ffd600,#ffdb00,#ffdd00,#ffda00,#ffd400,#ffca00,#ffbd00,#ffab00,#ff9500,#ff7b00,#ff5d00,#ff3b00,#ff1400,#ea0000,#bf0000,#990000,#850000,#9e0000,#ff1c00,#91ff6e,#000080,#000080,#000080,#000080,#000080,#000080,#000080,#000080,#000080,#000080,#000080,#000080,#000080)"></i>
<i style="background:linear-gradient(90deg,#000080,#000080,#000080,#000080,#000080,#000080,#000080,#000080,#000080,#000080,#000080,#000080,#000080,#000080,#5dffa2,#ffa500,#ff4900,#ff3700,#ff4400,#ff5b00,#ff7300,#ff8800,#ff9a00,#ffa700,#ffb100,#ffb700,#ffb900,#ffb700,#ffb100,#ffa800,#ff9a00,#ff8800,#ff7200,#ff5800,#ff3900,#ff1600,#ef0000,#c80000,#a40000,#8e0000,#9a0000,#f30000,#ffec00,#0000db,#000080,#000080,#000080,#000080,#000080,#000080,#000080,#000080,#000080,#000080,#000080,#000080,#000080)"></i>
<i style="background:linear-gradient(90deg,#000080,#000080,#000080,#000080,#000080,#000080,#000080,#000080,#000080,#000080,#000080,#000080,#000080,#000080,#0000ef,#b4ff4b,#ff8500,#ff3c00,#ff2e00,#ff3800,#ff4b00,#ff5f00,#ff7000,#ff7f00,#ff8900,#ff9000,#ff9300,#ff9100,#ff8c00,#ff8200,#ff7500,#ff6300,#ff4c00,#ff3200,#ff1300,#f10000,#cd0000,#ad0000,#970000,#9e0000,#e10000,#ffa200,#00a8ff,#000080,#000080,#000080,#000080,#000080,#000080,#000080,#000080,#000080,#000080,#000080,#000080,#000080,#000080)"></i>
<i style="background:linear-gradient(90deg,#000080,#000080,#000080,#000080,#000080,#000080,#000080,#000080,#000080,#000080,#000080,#000080,#000080,#000080,#000080,#007aff,#e8ff17,#ff7300,#ff3300,#ff2400,#ff2a00,#ff3800,#ff4800,#ff5500,#ff6000,#ff6700,#ff6a00,#ff6900,#ff6400,#ff5b00,#ff4d00,#ff3c00,#ff2500,#ff0c00,#ee0000,#cf0000,#b30000,#a10000,#a70000,#df0000,#ff7c00,#23ffdc,#000080,#000080,#000080,#000080,#000080,#000080,#000080,#000080,#000080,#000080,#000080,#000080,#000080,#000080,#000080)"></i>
<i style="background:linear-gradient(90deg,#000080,#000080,#000080,#000080,#000080,#000080,#000080,#000080,#000080,#000080,#000080,#000080,#000080,#000080,#000080,#000080,#00caff,#fffd00,#ff6b00,#ff2e00,#ff1b00,#ff1c00,#ff2400,#ff2e00,#ff3800,#ff3e00,#ff4100,#ff4000,#ff3c00,#ff3300,#ff2500,#ff1400,#ff0000,#e70000,#ce0000,#b80000,#ab0000,#b30000,#e70000,#ff7100,#64ff9b,#000080,#000080,#000080,#000080,#000080,#000080,#000080,#000080,#000080,#000080,#000080,#000080,#000080,#000080,#000080,#000080)"></i>
<i style="background:linear-gradient(90deg,#000080,#000080,#000080,#000080,#000080,#000080,#000080,#000080,#000080,#000080,#000080,#000080,#000080,#000080,#000080,#000080,#000080,#00ebff,#fffa00,#ff6f00,#ff2f00,#ff1500,#ff0f00,#ff1100,#ff1500,#ff1900,#ff1b00,#ff1a00,#ff1500,#ff0c00,#ff0000,#f00000,#df0000,#cd0000,#be0000,#b80000,#c60000,#fc0000,#ff7d00,#77ff88,#000080,#000080,#000080,#000080,#000080,#000080,#000080,#000080,#000080,#000080,#000080,#000080,#000080,#000080,#000080,#000080,#000080)"></i>
<i style="background:linear-gradient(90deg,#000080,#000080,#000080,#000080,#000080,#000080,#000080,#000080,#000080,#000080,#000080,#000080,#000080,#000080,#000080,#000080,#000080,#000080,#00e4ff,#efff10,#ff8200,#ff3a00,#ff1700,#ff0800,#ff0200,#ff0000,#fd0000,#fa0000,#f50000,#ee0000,#e40000,#d90000,#cf0000,#c80000,#cb0000,#e20000,#ff2000,#ffa100,#62ff9d,#000091,#000080,#000080,#000080,#000080,#000080,#000080,#000080,#000080,#000080,#000080,#000080,#000080,#000080,#000080,#000080,#000080,#000080)"></i>
</div>
<svg width="533" height="420" viewBox="0 0 533 420">
<defs>
<linearGradient id="jet" x1="0" y1="1" x2="0" y2="0"><stop offset="0" stop-color="#000080"/><stop offset=".125" stop-color="#0000ff"/><stop offset=".375" stop-color="#00ffff"/><stop offset=".625" stop-color="#ffff00"/><stop offset=".875" stop-color="#ff0000"/><stop offset="1" stop-color="#800000"/></linearGradient>
<radialGradient id="tg" gradientUnits="userSpaceOnUse" cx="0" cy="0" r="11.4" gradientTransform="translate(7.35 6.4) scale(.915 1)"><stop offset="0" stop-color="#800000"/><stop offset="0.05" stop-color="#830000"/><stop offset="0.1" stop-color="#8d0000"/><stop offset="0.15" stop-color="#9d0000"/><stop offset="0.2" stop-color="#b50000"/><stop offset="0.25" stop-color="#d20000"/><stop offset="0.3" stop-color="#f70000"/><stop offset="0.35" stop-color="#ff2300"/><stop offset="0.4" stop-color="#ff5500"/><stop offset="0.45" stop-color="#ff8d00"/><stop offset="0.5" stop-color="#ffcc00"/><stop offset="0.55" stop-color="#edff12"/><stop offset="0.6" stop-color="#a0ff5f"/><stop offset="0.65" stop-color="#4dffb2"/><stop offset="0.7" stop-color="#00f3ff"/><stop offset="0.75" stop-color="#0093ff"/><stop offset="0.8" stop-color="#002cff"/><stop offset="0.85" stop-color="#0000c7"/><stop offset="0.9" stop-color="#0000c7"/><stop offset="0.95" stop-color="#0000c7"/><stop offset="1" stop-color="#0000c7"/></radialGradient>
<rect id="t" width="14.7" height="12.8" fill="url(#tg)"/>
</defs>
<use href="#t" x="18.05" y="58.52"/>
<use href="#t" x="18.05" y="71.94"/>
<use href="#t" x="18.05" y="85.36"/>
<use href="#t" x="18.05" y="98.78"/>
<use href="#t" x="18.05" y="112.2"/>
<use href="#t" x="18.05" y="125.62"/>
<use href="#t" x="18.05" y="139.04"/>
<use href="#t" x="35.67" y="45.1"/>
<use href="#t" x="35.67" y="58.52"/>
<use href="#t" x="35.67" y="71.94"/>
<use href="#t" x="35.67" y="85.36"/>
<use href="#t" x="35.67" y="98.78"/>
<use href="#t" x="35.67" y="112.2"/>
<use href="#t" x="35.67" y="125.62"/>
<use href="#t" x="35.67" y="139.04"/>
<use href="#t" x="35.67" y="152.46"/>
<use href="#t" x="53.29" y="45.1"/>
<use href="#t" x="53.29" y="58.52"/>
<use href="#t" x="53.29" y="71.94"/>
<use href="#t" x="53.29" y="85.36"/>
<use href="#t" x="53.29" y="98.78"/>
<use href="#t" x="53.29" y="112.2"/>
<use href="#t" x="53.29" y="125.62"/>
<use href="#t" x="53.29" y="139.04"/>
<use href="#t" x="53.29" y="152.46"/>
<use href="#t" x="70.91" y="45.1"/>
<use href="#t" x="70.91" y="58.52"/>
<use href="#t" x="70.91" y="71.94"/>
<use href="#t" x="70.91" y="85.36"/>
<use href="#t" x="70.91" y="98.78"/>
<use href="#t" x="70.91" y="112.2"/>
<use href="#t" x="70.91" y="125.62"/>
<use href="#t" x="70.91" y="139.04"/>
<use href="#t" x="70.91" y="152.46"/>
<use href="#t" x="88.53" y="45.1"/>
<use href="#t" x="88.53" y="58.52"/>
<use href="#t" x="88.53" y="71.94"/>
<use href="#t" x="88.53" y="85.36"/>
<use href="#t" x="88.53" y="98.78"/>
<use href="#t" x="88.53" y="112.2"/>
<use href="#t" x="88.53" y="125.62"/>
<use href="#t" x="88.53" y="139.04"/>
<use href="#t" x="88.53" y="152.46"/>
<use href="#t" x="106.15" y="45.1"/>
<use href="#t" x="106.15" y="58.52"/>
<use href="#t" x="106.15" y="71.94"/>
<use href="#t" x="106.15" y="85.36"/>
<use href="#t" x="106.15" y="98.78"/>
<use href="#t" x="106.15" y="112.2"/>
<use href="#t" x="106.15" y="125.62"/>
<use href="#t" x="106.15" y="139.04"/>
<use href="#t" x="106.15" y="152.46"/>
<use href="#t" x="123.77" y="45.1"/>
<use href="#t" x="123.77" y="58.52"/>
<use href="#t" x="123.77" y="71.94"/>
<use href="#t" x="123.77" y="85.36"/>
<use href="#t" x="123.77" y="98.78"/>
<use href="#t" x="123.77" y="112.2"/>
<use href="#t" x="123.77" y="125.62"/>
<use href="#t" x="123.77" y="139.04"/>
<use href="#t" x="123.77" y="152.46"/>
<use href="#t" x="141.39" y="45.1"/>
<use href="#t" x="141.39" y="58.52"/>
<use href="#t" x="141.39" y="71.94"/>
<use href="#t" x="141.39" y="85.36"/>
<use href="#t" x="141.39" y="98.78"/>
<use href="#t" x="141.39" y="112.2"/>
<use href="#t" x="141.39" y="125.62"/>
<use href="#t" x="141.39" y="139.04"/>
<use href="#t" x="141.39" y="152.46"/>
<use href="#t" x="159.01" y="45.1"/>
<use href="#t" x="159.01" y="58.52"/>
<use href="#t" x="159.01" y="71.94"/>
<use href="#t" x="159.01" y="85.36"/>
<use href="#t" x="159.01" y="98.78"/>
<use href="#t" x="159.01" y="112.2"/>
<use href="#t" x="159.01" y="125.62"/>
<use href="#t" x="159.01" y="139.04"/>
<use href="#t" x="159.01" y="152.46"/>
<use href="#t" x="176.63" y="45.1"/>
<use href="#t" x="176.63" y="58.52"/>
<use href="#t" x="176.63" y="71.94"/>
<use href="#t" x="176.63" y="85.36"/>
<use href="#t" x="176.63" y="98.78"/>
<use href="#t" x="176.63" y="112.2"/>
<use href="#t" x="176.63" y="125.62"/>
<use href="#t" x="176.63" y="139.04"/>
<use href="#t" x="176.63" y="152.46"/>
<use href="#t" x="194.25" y="58.52"/>
<use href="#t" x="194.25" y="71.94"/>
<use href="#t" x="194.25" y="85.36"/>
<use href="#t" x="194.25" y="98.78"/>
<use href="#t" x="194.25" y="112.2"/>
<use href="#t" x="194.25" y="125.62"/>
<use href="#t" x="194.25" y="139.04"/>
<line x1="7" y1="38.4" x2="137" y2="38.4" stroke="#000" stroke-width="1.3"/>
<path d="M141 38.4l-4.8-2.1v4.2z" fill="#000"/>
<line x1="13.3" y1="32.2" x2="13.3" y2="162" stroke="#000" stroke-width="1.3"/>
<path d="M13.3 165.6l-2.2-4.4h4.4z" fill="#000"/>
<text x="18.8" y="33.3" font-size="10" textLength="26.6" lengthAdjust="spacing" fill="#000" stroke="#000">X-axis</text>
<text x="1.5" y="43.5" font-size="10" textLength="26.4" lengthAdjust="spacing" transform="rotate(90 1.5 43.5)" fill="#000" stroke="#000">Y-axis</text>
<text x="38" y="11.3" font-size="9" textLength="154.6" lengthAdjust="spacing" fill="#555" stroke="#555" word-spacing="4" stroke-width="0">[Subaperture measurement results]</text>
<text x="215.3" y="37" font-size="9.2" textLength="38" lengthAdjust="spacing" fill="#000" stroke="#000">Unit: μm</text>
<rect x="222.2" y="44.2" width="8.6" height="126.4" fill="url(#jet)" stroke="#333" stroke-width=".6"/>
<line x1="228.8" y1="170.6" x2="230.3" y2="170.6" stroke="#333" stroke-width="0.5"/>
<text x="232" y="172" font-size="3.6" fill="#333" stroke="#333">0</text>
<line x1="228.8" y1="142.47" x2="230.3" y2="142.47" stroke="#333" stroke-width="0.5"/>
<text x="232" y="143.88" font-size="3.6" fill="#333" stroke="#333">5</text>
<line x1="228.8" y1="114.35" x2="230.3" y2="114.35" stroke="#333" stroke-width="0.5"/>
<text x="232" y="115.75" font-size="3.6" fill="#333" stroke="#333">10</text>
<line x1="228.8" y1="86.22" x2="230.3" y2="86.22" stroke="#333" stroke-width="0.5"/>
<text x="232" y="87.62" font-size="3.6" fill="#333" stroke="#333">15</text>
<line x1="228.8" y1="58.1" x2="230.3" y2="58.1" stroke="#333" stroke-width="0.5"/>
<text x="232" y="59.5" font-size="3.6" fill="#333" stroke="#333">20</text>
<line x1="386.04" y1="170.22" x2="330.34" y2="117.02" stroke="#dfdfdf" stroke-width="0.8"/>
<line x1="382.89" y1="169.74" x2="484.89" y2="140.94" stroke="#dfdfdf" stroke-width="0.8"/>
<line x1="330.34" y1="117.02" x2="330.34" y2="53.36" stroke="#dfdfdf" stroke-width="0.8"/>
<line x1="484.89" y1="140.94" x2="484.89" y2="77.27" stroke="#dfdfdf" stroke-width="0.8"/>
<line x1="402.36" y1="165.62" x2="346.66" y2="112.42" stroke="#dfdfdf" stroke-width="0.8"/>
<line x1="373.97" y1="161.22" x2="475.97" y2="132.42" stroke="#dfdfdf" stroke-width="0.8"/>
<line x1="346.66" y1="112.42" x2="346.66" y2="48.75" stroke="#dfdfdf" stroke-width="0.8"/>
<line x1="475.97" y1="132.42" x2="475.97" y2="68.76" stroke="#dfdfdf" stroke-width="0.8"/>
<line x1="418.68" y1="161.01" x2="362.98" y2="107.81" stroke="#dfdfdf" stroke-width="0.8"/>
<line x1="365.06" y1="152.71" x2="467.06" y2="123.91" stroke="#dfdfdf" stroke-width="0.8"/>
<line x1="362.98" y1="107.81" x2="362.98" y2="44.14" stroke="#dfdfdf" stroke-width="0.8"/>
<line x1="467.06" y1="123.91" x2="467.06" y2="60.25" stroke="#dfdfdf" stroke-width="0.8"/>
<line x1="435" y1="156.4" x2="379.3" y2="103.2" stroke="#dfdfdf" stroke-width="0.8"/>
<line x1="356.15" y1="144.2" x2="458.15" y2="115.4" stroke="#dfdfdf" stroke-width="0.8"/>
<line x1="379.3" y1="103.2" x2="379.3" y2="39.54" stroke="#dfdfdf" stroke-width="0.8"/>
<line x1="458.15" y1="115.4" x2="458.15" y2="51.74" stroke="#dfdfdf" stroke-width="0.8"/>
<line x1="451.32" y1="151.79" x2="395.62" y2="98.59" stroke="#dfdfdf" stroke-width="0.8"/>
<line x1="347.24" y1="135.69" x2="449.24" y2="106.89" stroke="#dfdfdf" stroke-width="0.8"/>
<line x1="395.62" y1="98.59" x2="395.62" y2="34.93" stroke="#dfdfdf" stroke-width="0.8"/>
<line x1="449.24" y1="106.89" x2="449.24" y2="43.22" stroke="#dfdfdf" stroke-width="0.8"/>
<line x1="467.64" y1="147.18" x2="411.94" y2="93.98" stroke="#dfdfdf" stroke-width="0.8"/>
<line x1="338.33" y1="127.18" x2="440.33" y2="98.38" stroke="#dfdfdf" stroke-width="0.8"/>
<line x1="411.94" y1="93.98" x2="411.94" y2="30.32" stroke="#dfdfdf" stroke-width="0.8"/>
<line x1="440.33" y1="98.38" x2="440.33" y2="34.71" stroke="#dfdfdf" stroke-width="0.8"/>
<line x1="483.96" y1="142.58" x2="428.26" y2="89.38" stroke="#dfdfdf" stroke-width="0.8"/>
<line x1="329.41" y1="118.66" x2="431.41" y2="89.86" stroke="#dfdfdf" stroke-width="0.8"/>
<line x1="428.26" y1="89.38" x2="428.26" y2="25.71" stroke="#dfdfdf" stroke-width="0.8"/>
<line x1="431.41" y1="89.86" x2="431.41" y2="26.2" stroke="#dfdfdf" stroke-width="0.8"/>
<line x1="328.3" y1="100.3" x2="430.3" y2="71.5" stroke="#dfdfdf" stroke-width="0.8"/>
<line x1="430.3" y1="71.5" x2="486" y2="124.7" stroke="#dfdfdf" stroke-width="0.8"/>
<line x1="328.3" y1="83" x2="430.3" y2="54.2" stroke="#dfdfdf" stroke-width="0.8"/>
<line x1="430.3" y1="54.2" x2="486" y2="107.4" stroke="#dfdfdf" stroke-width="0.8"/>
<line x1="328.3" y1="65.7" x2="430.3" y2="36.9" stroke="#dfdfdf" stroke-width="0.8"/>
<line x1="430.3" y1="36.9" x2="486" y2="90.1" stroke="#dfdfdf" stroke-width="0.8"/>
<line x1="328.3" y1="117.6" x2="430.3" y2="88.8" stroke="#cfcfcf" stroke-width="0.8"/>
<line x1="430.3" y1="88.8" x2="486" y2="142" stroke="#cfcfcf" stroke-width="0.8"/>
<line x1="430.3" y1="88.8" x2="430.3" y2="25.14" stroke="#cfcfcf" stroke-width="0.8"/>
<line x1="486" y1="142" x2="486" y2="78.34" stroke="#dfdfdf" stroke-width="0.8"/>
<g><circle r="6.3" transform="matrix(8.16 -2.3 -4.46 -4.26 407.15 129.8)" fill="#000080"/><circle r="6.27" transform="matrix(8.16 -2.3 -4.46 -4.26 407.15 129.22)" fill="#000089"/><circle r="6.25" transform="matrix(8.16 -2.3 -4.46 -4.26 407.15 128.65)" fill="#000092"/><circle r="6.22" transform="matrix(8.16 -2.3 -4.46 -4.26 407.15 128.07)" fill="#00009b"/><circle r="6.19" transform="matrix(8.16 -2.3 -4.46 -4.26 407.15 127.5)" fill="#0000a5"/><circle r="6.17" transform="matrix(8.16 -2.3 -4.46 -4.26 407.15 126.92)" fill="#0000ae"/><circle r="6.14" transform="matrix(8.16 -2.3 -4.46 -4.26 407.15 126.35)" fill="#0000b7"/><circle r="6.11" transform="matrix(8.16 -2.3 -4.46 -4.26 407.15 125.77)" fill="#0000c0"/><circle r="6.08" transform="matrix(8.16 -2.3 -4.46 -4.26 407.15 125.2)" fill="#0000ca"/><circle r="6.05" transform="matrix(8.16 -2.3 -4.46 -4.26 407.15 124.62)" fill="#0000d3"/><circle r="6.03" transform="matrix(8.16 -2.3 -4.46 -4.26 407.15 124.04)" fill="#0000dc"/><circle r="6" transform="matrix(8.16 -2.3 -4.46 -4.26 407.15 123.47)" fill="#0000e6"/><circle r="5.97" transform="matrix(8.16 -2.3 -4.46 -4.26 407.15 122.89)" fill="#0000ef"/><circle r="5.94" transform="matrix(8.16 -2.3 -4.46 -4.26 407.15 122.32)" fill="#0000f8"/><circle r="5.91" transform="matrix(8.16 -2.3 -4.46 -4.26 407.15 121.74)" fill="#0002ff"/><circle r="5.88" transform="matrix(8.16 -2.3 -4.46 -4.26 407.15 121.17)" fill="#000cff"/><circle r="5.86" transform="matrix(8.16 -2.3 -4.46 -4.26 407.15 120.59)" fill="#0015ff"/><circle r="5.83" transform="matrix(8.16 -2.3 -4.46 -4.26 407.15 120.01)" fill="#001eff"/><circle r="5.8" transform="matrix(8.16 -2.3 -4.46 -4.26 407.15 119.44)" fill="#0027ff"/><circle r="5.77" transform="matrix(8.16 -2.3 -4.46 -4.26 407.15 118.86)" fill="#0031ff"/><circle r="5.74" transform="matrix(8.16 -2.3 -4.46 -4.26 407.15 118.29)" fill="#003aff"/><circle r="5.71" transform="matrix(8.16 -2.3 -4.46 -4.26 407.15 117.71)" fill="#0043ff"/><circle r="5.68" transform="matrix(8.16 -2.3 -4.46 -4.26 407.15 117.14)" fill="#004dff"/><circle r="5.65" transform="matrix(8.16 -2.3 -4.46 -4.26 407.15 116.56)" fill="#0056ff"/><circle r="5.62" transform="matrix(8.16 -2.3 -4.46 -4.26 407.15 115.99)" fill="#005fff"/><circle r="5.59" transform="matrix(8.16 -2.3 -4.46 -4.26 407.15 115.41)" fill="#0068ff"/><circle r="5.56" transform="matrix(8.16 -2.3 -4.46 -4.26 407.15 114.83)" fill="#0072ff"/><circle r="5.53" transform="matrix(8.16 -2.3 -4.46 -4.26 407.15 114.26)" fill="#007bff"/><circle r="5.5" transform="matrix(8.16 -2.3 -4.46 -4.26 407.15 113.68)" fill="#0084ff"/><circle r="5.46" transform="matrix(8.16 -2.3 -4.46 -4.26 407.15 113.11)" fill="#008dff"/><circle r="5.43" transform="matrix(8.16 -2.3 -4.46 -4.26 407.15 112.53)" fill="#0097ff"/><circle r="5.4" transform="matrix(8.16 -2.3 -4.46 -4.26 407.15 111.96)" fill="#00a0ff"/><circle r="5.37" transform="matrix(8.16 -2.3 -4.46 -4.26 407.15 111.38)" fill="#00a9ff"/><circle r="5.34" transform="matrix(8.16 -2.3 -4.46 -4.26 407.15 110.8)" fill="#00b2ff"/><circle r="5.3" transform="matrix(8.16 -2.3 -4.46 -4.26 407.15 110.23)" fill="#00bcff"/><circle r="5.27" transform="matrix(8.16 -2.3 -4.46 -4.26 407.15 109.65)" fill="#00c5ff"/><circle r="5.24" transform="matrix(8.16 -2.3 -4.46 -4.26 407.15 109.08)" fill="#00ceff"/><circle r="5.21" transform="matrix(8.16 -2.3 -4.46 -4.26 407.15 108.5)" fill="#00d8ff"/><circle r="5.17" transform="matrix(8.16 -2.3 -4.46 -4.26 407.15 107.93)" fill="#00e1ff"/><circle r="5.14" transform="matrix(8.16 -2.3 -4.46 -4.26 407.15 107.35)" fill="#00eaff"/><circle r="5.11" transform="matrix(8.16 -2.3 -4.46 -4.26 407.15 106.78)" fill="#00f3ff"/><circle r="5.07" transform="matrix(8.16 -2.3 -4.46 -4.26 407.15 106.2)" fill="#00fdff"/><circle r="5.04" transform="matrix(8.16 -2.3 -4.46 -4.26 407.15 105.62)" fill="#07fff8"/><circle r="5" transform="matrix(8.16 -2.3 -4.46 -4.26 407.15 105.05)" fill="#10ffef"/><circle r="4.97" transform="matrix(8.16 -2.3 -4.46 -4.26 407.15 104.47)" fill="#1affe5"/><circle r="4.93" transform="matrix(8.16 -2.3 -4.46 -4.26 407.15 103.9)" fill="#23ffdc"/><circle r="4.9" transform="matrix(8.16 -2.3 -4.46 -4.26 407.15 103.32)" fill="#2cffd3"/><circle r="4.86" transform="matrix(8.16 -2.3 -4.46 -4.26 407.15 102.75)" fill="#35ffca"/><circle r="4.83" transform="matrix(8.16 -2.3 -4.46 -4.26 407.15 102.17)" fill="#3fffc0"/><circle r="4.79" transform="matrix(8.16 -2.3 -4.46 -4.26 407.15 101.59)" fill="#48ffb7"/><circle r="4.75" transform="matrix(8.16 -2.3 -4.46 -4.26 407.15 101.02)" fill="#51ffae"/><circle r="4.72" transform="matrix(8.16 -2.3 -4.46 -4.26 407.15 100.44)" fill="#5affa5"/><circle r="4.68" transform="matrix(8.16 -2.3 -4.46 -4.26 407.15 99.87)" fill="#64ff9b"/><circle r="4.64" transform="matrix(8.16 -2.3 -4.46 -4.26 407.15 99.29)" fill="#6dff92"/><circle r="4.6" transform="matrix(8.16 -2.3 -4.46 -4.26 407.15 98.72)" fill="#76ff89"/><circle r="4.56" transform="matrix(8.16 -2.3 -4.46 -4.26 407.15 98.14)" fill="#80ff80"/><circle r="4.53" transform="matrix(8.16 -2.3 -4.46 -4.26 407.15 97.57)" fill="#89ff76"/><circle r="4.49" transform="matrix(8.16 -2.3 -4.46 -4.26 407.15 96.99)" fill="#92ff6d"/><circle r="4.45" transform="matrix(8.16 -2.3 -4.46 -4.26 407.15 96.41)" fill="#9bff64"/><circle r="4.41" transform="matrix(8.16 -2.3 -4.46 -4.26 407.15 95.84)" fill="#a5ff5a"/><circle r="4.37" transform="matrix(8.16 -2.3 -4.46 -4.26 407.15 95.26)" fill="#aeff51"/><circle r="4.33" transform="matrix(8.16 -2.3 -4.46 -4.26 407.15 94.69)" fill="#b7ff48"/><circle r="4.28" transform="matrix(8.16 -2.3 -4.46 -4.26 407.15 94.11)" fill="#c0ff3f"/><circle r="4.24" transform="matrix(8.16 -2.3 -4.46 -4.26 407.15 93.54)" fill="#caff35"/><circle r="4.2" transform="matrix(8.16 -2.3 -4.46 -4.26 407.15 92.96)" fill="#d3ff2c"/><circle r="4.16" transform="matrix(8.16 -2.3 -4.46 -4.26 407.15 92.38)" fill="#dcff23"/><circle r="4.11" transform="matrix(8.16 -2.3 -4.46 -4.26 407.15 91.81)" fill="#e5ff1a"/><circle r="4.07" transform="matrix(8.16 -2.3 -4.46 -4.26 407.15 91.23)" fill="#efff10"/><circle r="4.03" transform="matrix(8.16 -2.3 -4.46 -4.26 407.15 90.66)" fill="#f8ff07"/><circle r="3.98" transform="matrix(8.16 -2.3 -4.46 -4.26 407.15 90.08)" fill="#fffd00"/><circle r="3.94" transform="matrix(8.16 -2.3 -4.46 -4.26 407.15 89.51)" fill="#fff300"/><circle r="3.89" transform="matrix(8.16 -2.3 -4.46 -4.26 407.15 88.93)" fill="#ffea00"/><circle r="3.84" transform="matrix(8.16 -2.3 -4.46 -4.26 407.15 88.36)" fill="#ffe100"/><circle r="3.8" transform="matrix(8.16 -2.3 -4.46 -4.26 407.15 87.78)" fill="#ffd800"/><circle r="3.75" transform="matrix(8.16 -2.3 -4.46 -4.26 407.15 87.2)" fill="#ffce00"/><circle r="3.7" transform="matrix(8.16 -2.3 -4.46 -4.26 407.15 86.63)" fill="#ffc500"/><circle r="3.65" transform="matrix(8.16 -2.3 -4.46 -4.26 407.15 86.05)" fill="#ffbc00"/><circle r="3.6" transform="matrix(8.16 -2.3 -4.46 -4.26 407.15 85.48)" fill="#ffb300"/><circle r="3.55" transform="matrix(8.16 -2.3 -4.46 -4.26 407.15 84.9)" fill="#ffa900"/><circle r="3.5" transform="matrix(8.16 -2.3 -4.46 -4.26 407.15 84.33)" fill="#ffa000"/><circle r="3.44" transform="matrix(8.16 -2.3 -4.46 -4.26 407.15 83.75)" fill="#ff9700"/><circle r="3.39" transform="matrix(8.16 -2.3 -4.46 -4.26 407.15 83.17)" fill="#ff8d00"/><circle r="3.33" transform="matrix(8.16 -2.3 -4.46 -4.26 407.15 82.6)" fill="#ff8400"/><circle r="3.28" transform="matrix(8.16 -2.3 -4.46 -4.26 407.15 82.02)" fill="#ff7b00"/><circle r="3.22" transform="matrix(8.16 -2.3 -4.46 -4.26 407.15 81.45)" fill="#ff7200"/><circle r="3.16" transform="matrix(8.16 -2.3 -4.46 -4.26 407.15 80.87)" fill="#ff6800"/><circle r="3.1" transform="matrix(8.16 -2.3 -4.46 -4.26 407.15 80.3)" fill="#ff5f00"/><circle r="3.04" transform="matrix(8.16 -2.3 -4.46 -4.26 407.15 79.72)" fill="#ff5600"/><circle r="2.98" transform="matrix(8.16 -2.3 -4.46 -4.26 407.15 79.15)" fill="#ff4c00"/><circle r="2.92" transform="matrix(8.16 -2.3 -4.46 -4.26 407.15 78.57)" fill="#ff4300"/><circle r="2.85" transform="matrix(8.16 -2.3 -4.46 -4.26 407.15 77.99)" fill="#ff3a00"/><circle r="2.78" transform="matrix(8.16 -2.3 -4.46 -4.26 407.15 77.42)" fill="#ff3100"/><circle r="2.71" transform="matrix(8.16 -2.3 -4.46 -4.26 407.15 76.84)" fill="#ff2700"/><circle r="2.64" transform="matrix(8.16 -2.3 -4.46 -4.26 407.15 76.27)" fill="#ff1e00"/><circle r="2.57" transform="matrix(8.16 -2.3 -4.46 -4.26 407.15 75.69)" fill="#ff1500"/><circle r="2.49" transform="matrix(8.16 -2.3 -4.46 -4.26 407.15 75.12)" fill="#ff0c00"/><circle r="2.42" transform="matrix(8.16 -2.3 -4.46 -4.26 407.15 74.54)" fill="#ff0200"/><circle r="2.33" transform="matrix(8.16 -2.3 -4.46 -4.26 407.15 73.97)" fill="#f80000"/><circle r="2.25" transform="matrix(8.16 -2.3 -4.46 -4.26 407.15 73.39)" fill="#ef0000"/><circle r="2.16" transform="matrix(8.16 -2.3 -4.46 -4.26 407.15 72.81)" fill="#e50000"/><circle r="2.07" transform="matrix(8.16 -2.3 -4.46 -4.26 407.15 72.24)" fill="#dc0000"/><circle r="1.97" transform="matrix(8.16 -2.3 -4.46 -4.26 407.15 71.66)" fill="#d30000"/><circle r="1.86" transform="matrix(8.16 -2.3 -4.46 -4.26 407.15 71.09)" fill="#ca0000"/><circle r="1.75" transform="matrix(8.16 -2.3 -4.46 -4.26 407.15 70.51)" fill="#c00000"/><circle r="1.63" transform="matrix(8.16 -2.3 -4.46 -4.26 407.15 69.94)" fill="#b70000"/><circle r="1.5" transform="matrix(8.16 -2.3 -4.46 -4.26 407.15 69.36)" fill="#ae0000"/><circle r="1.35" transform="matrix(8.16 -2.3 -4.46 -4.26 407.15 68.78)" fill="#a50000"/><circle r="1.18" transform="matrix(8.16 -2.3 -4.46 -4.26 407.15 68.21)" fill="#9b0000"/><circle r="0.98" transform="matrix(8.16 -2.3 -4.46 -4.26 407.15 67.63)" fill="#920000"/><circle r="0.71" transform="matrix(8.16 -2.3 -4.46 -4.26 407.15 67.06)" fill="#890000"/><circle r="0.02" transform="matrix(8.16 -2.3 -4.46 -4.26 407.15 66.48)" fill="#800000"/></g>
<line x1="328.3" y1="117.6" x2="328.3" y2="53.94" stroke="#262626" stroke-width="0.9"/>
<line x1="328.3" y1="117.6" x2="384" y2="170.8" stroke="#262626" stroke-width="0.9"/>
<line x1="384" y1="170.8" x2="486" y2="142" stroke="#262626" stroke-width="0.9"/>
<line x1="386.04" y1="170.22" x2="384.93" y2="169.16" stroke="#262626" stroke-width="0.7"/>
<line x1="382.89" y1="169.74" x2="384.11" y2="169.39" stroke="#262626" stroke-width="0.7"/>
<line x1="402.36" y1="165.62" x2="401.25" y2="164.55" stroke="#262626" stroke-width="0.7"/>
<line x1="373.97" y1="161.22" x2="375.2" y2="160.88" stroke="#262626" stroke-width="0.7"/>
<line x1="418.68" y1="161.01" x2="417.57" y2="159.94" stroke="#262626" stroke-width="0.7"/>
<line x1="365.06" y1="152.71" x2="366.29" y2="152.37" stroke="#262626" stroke-width="0.7"/>
<line x1="435" y1="156.4" x2="433.89" y2="155.34" stroke="#262626" stroke-width="0.7"/>
<line x1="356.15" y1="144.2" x2="357.37" y2="143.85" stroke="#262626" stroke-width="0.7"/>
<line x1="451.32" y1="151.79" x2="450.21" y2="150.73" stroke="#262626" stroke-width="0.7"/>
<line x1="347.24" y1="135.69" x2="348.46" y2="135.34" stroke="#262626" stroke-width="0.7"/>
<line x1="467.64" y1="147.18" x2="466.53" y2="146.12" stroke="#262626" stroke-width="0.7"/>
<line x1="338.33" y1="127.18" x2="339.55" y2="126.83" stroke="#262626" stroke-width="0.7"/>
<line x1="483.96" y1="142.58" x2="482.85" y2="141.51" stroke="#262626" stroke-width="0.7"/>
<line x1="329.41" y1="118.66" x2="330.64" y2="118.32" stroke="#262626" stroke-width="0.7"/>
<line x1="328.3" y1="117.6" x2="329.8" y2="118.4" stroke="#262626" stroke-width="0.7"/>
<line x1="328.3" y1="100.3" x2="329.8" y2="101.1" stroke="#262626" stroke-width="0.7"/>
<line x1="328.3" y1="83" x2="329.8" y2="83.8" stroke="#262626" stroke-width="0.7"/>
<line x1="328.3" y1="65.7" x2="329.8" y2="66.5" stroke="#262626" stroke-width="0.7"/>
<text x="393.64" y="184.22" font-size="9.8" text-anchor="middle">-6</text>
<text x="378.59" y="181.24" font-size="9.8" text-anchor="end">-6</text>
<text x="409.96" y="179.62" font-size="9.8" text-anchor="middle">-4</text>
<text x="369.67" y="172.72" font-size="9.8" text-anchor="end">-4</text>
<text x="426.28" y="175.01" font-size="9.8" text-anchor="middle">-2</text>
<text x="360.76" y="164.21" font-size="9.8" text-anchor="end">-2</text>
<text x="441.8" y="170.4" font-size="9.8" text-anchor="middle">0</text>
<text x="350.65" y="155.7" font-size="9.8" text-anchor="end">0</text>
<text x="458.12" y="165.79" font-size="9.8" text-anchor="middle">2</text>
<text x="341.74" y="147.19" font-size="9.8" text-anchor="end">2</text>
<text x="474.44" y="161.18" font-size="9.8" text-anchor="middle">4</text>
<text x="332.83" y="138.68" font-size="9.8" text-anchor="end">4</text>
<text x="490.76" y="156.58" font-size="9.8" text-anchor="middle">6</text>
<text x="323.91" y="130.16" font-size="9.8" text-anchor="end">6</text>
<text x="325.9" y="117.4" font-size="9.8" text-anchor="end">0</text>
<text x="325.9" y="100.7" font-size="9.8" text-anchor="end">0.1</text>
<text x="325.9" y="83.4" font-size="9.8" text-anchor="end">0.2</text>
<text x="325.9" y="66.1" font-size="9.8" text-anchor="end">0.3</text>
<text x="449" y="183.2" font-size="9.5" text-anchor="middle" textLength="52" lengthAdjust="spacing" transform="rotate(-15.8 449 183.2)">X-axis [mm]</text>
<text x="327" y="161" font-size="9.5" text-anchor="middle" textLength="52" lengthAdjust="spacing" transform="rotate(43.7 327 161)">Y-axis [mm]</text>
<text x="305" y="86" font-size="9.5" text-anchor="middle" textLength="52" lengthAdjust="spacing" transform="rotate(-90 305 86)">Height [mm]</text>
<text x="325.4" y="11" font-size="9" textLength="152.5" lengthAdjust="spacing" fill="#555" stroke="#555" word-spacing="4" stroke-width="0">[Full aperture measurement result]</text>
<text x="487.6" y="19.5" font-size="9.2" textLength="38.8" lengthAdjust="spacing" fill="#000" stroke="#000">Unit: mm</text>
<rect x="502.4" y="25.2" width="8.4" height="146.5" fill="url(#jet)" stroke="#333" stroke-width=".6"/>
<line x1="509.2" y1="171.7" x2="510.8" y2="171.7" stroke="#333" stroke-width="0.6"/>
<text x="513.7" y="174.4" font-size="7.9">0</text>
<line x1="509.2" y1="152.2" x2="510.8" y2="152.2" stroke="#333" stroke-width="0.6"/>
<text x="513.7" y="154.9" font-size="7.9">0.05</text>
<line x1="509.2" y1="132.7" x2="510.8" y2="132.7" stroke="#333" stroke-width="0.6"/>
<text x="513.7" y="135.4" font-size="7.9">0.1</text>
<line x1="509.2" y1="113.2" x2="510.8" y2="113.2" stroke="#333" stroke-width="0.6"/>
<text x="513.7" y="115.9" font-size="7.9">0.15</text>
<line x1="509.2" y1="93.7" x2="510.8" y2="93.7" stroke="#333" stroke-width="0.6"/>
<text x="513.7" y="96.4" font-size="7.9">0.2</text>
<line x1="509.2" y1="74.2" x2="510.8" y2="74.2" stroke="#333" stroke-width="0.6"/>
<text x="513.7" y="76.9" font-size="7.9">0.25</text>
<line x1="509.2" y1="54.7" x2="510.8" y2="54.7" stroke="#333" stroke-width="0.6"/>
<text x="513.7" y="57.4" font-size="7.9">0.3</text>
<line x1="509.2" y1="35.2" x2="510.8" y2="35.2" stroke="#333" stroke-width="0.6"/>
<text x="513.7" y="37.9" font-size="7.9">0.35</text>
<text x="266.6" y="204" font-size="12" text-anchor="middle" textLength="18.4" lengthAdjust="spacing" fill="#000" stroke="#000" stroke-width=".3">(a)</text>
<line x1="48.25" y1="231.95" x2="48.25" y2="368.95" stroke="#262626" stroke-width="0.9"/>
<line x1="47.85" y1="368.45" x2="184.75" y2="368.45" stroke="#262626" stroke-width="0.9"/>
<line x1="50.98" y1="368.45" x2="50.98" y2="366.95" stroke="#262626" stroke-width="0.7"/>
<line x1="48.25" y1="365.72" x2="49.75" y2="365.72" stroke="#262626" stroke-width="0.7"/>
<text x="50.98" y="381.9" font-size="10.1" text-anchor="middle">-6</text>
<text x="44.3" y="369.32" font-size="10.1" text-anchor="end">-6</text>
<line x1="72.82" y1="368.45" x2="72.82" y2="366.95" stroke="#262626" stroke-width="0.7"/>
<line x1="48.25" y1="343.88" x2="49.75" y2="343.88" stroke="#262626" stroke-width="0.7"/>
<text x="72.82" y="381.9" font-size="10.1" text-anchor="middle">-4</text>
<text x="44.3" y="347.48" font-size="10.1" text-anchor="end">-4</text>
<line x1="94.66" y1="368.45" x2="94.66" y2="366.95" stroke="#262626" stroke-width="0.7"/>
<line x1="48.25" y1="322.04" x2="49.75" y2="322.04" stroke="#262626" stroke-width="0.7"/>
<text x="94.66" y="381.9" font-size="10.1" text-anchor="middle">-2</text>
<text x="44.3" y="325.64" font-size="10.1" text-anchor="end">-2</text>
<line x1="116.5" y1="368.45" x2="116.5" y2="366.95" stroke="#262626" stroke-width="0.7"/>
<line x1="48.25" y1="300.2" x2="49.75" y2="300.2" stroke="#262626" stroke-width="0.7"/>
<text x="116.5" y="381.9" font-size="10.1" text-anchor="middle">0</text>
<text x="44.3" y="303.8" font-size="10.1" text-anchor="end">0</text>
<line x1="138.34" y1="368.45" x2="138.34" y2="366.95" stroke="#262626" stroke-width="0.7"/>
<line x1="48.25" y1="278.36" x2="49.75" y2="278.36" stroke="#262626" stroke-width="0.7"/>
<text x="138.34" y="381.9" font-size="10.1" text-anchor="middle">2</text>
<text x="44.3" y="281.96" font-size="10.1" text-anchor="end">2</text>
<line x1="160.18" y1="368.45" x2="160.18" y2="366.95" stroke="#262626" stroke-width="0.7"/>
<line x1="48.25" y1="256.52" x2="49.75" y2="256.52" stroke="#262626" stroke-width="0.7"/>
<text x="160.18" y="381.9" font-size="10.1" text-anchor="middle">4</text>
<text x="44.3" y="260.12" font-size="10.1" text-anchor="end">4</text>
<line x1="182.02" y1="368.45" x2="182.02" y2="366.95" stroke="#262626" stroke-width="0.7"/>
<line x1="48.25" y1="234.68" x2="49.75" y2="234.68" stroke="#262626" stroke-width="0.7"/>
<text x="182.02" y="381.9" font-size="10.1" text-anchor="middle">6</text>
<text x="44.3" y="238.28" font-size="10.1" text-anchor="end">6</text>
<text x="124.3" y="394.3" font-size="9.5" text-anchor="middle" textLength="52.2" lengthAdjust="spacing">X-axis [mm]</text>
<text x="28.6" y="302.6" font-size="9.5" text-anchor="middle" textLength="51.9" lengthAdjust="spacing" transform="rotate(-90 28.6 302.6)">Y-axis [mm]</text>
<text x="173.7" y="225.7" font-size="9" textLength="36.6" lengthAdjust="spacing" fill="#000" stroke="#000">Unit: μm</text>
<rect x="189" y="231.2" width="8.4" height="136.2" fill="url(#jet)"/>
<line x1="195.9" y1="240" x2="197.4" y2="240" stroke="#262626" stroke-width="0.6"/>
<text x="200.2" y="244.1" font-size="9.8">0.8</text>
<line x1="195.9" y1="272.1" x2="197.4" y2="272.1" stroke="#262626" stroke-width="0.6"/>
<text x="200.2" y="276.2" font-size="9.8">0.6</text>
<line x1="195.9" y1="304.3" x2="197.4" y2="304.3" stroke="#262626" stroke-width="0.6"/>
<text x="200.2" y="308.4" font-size="9.8">0.4</text>
<line x1="195.9" y1="336.9" x2="197.4" y2="336.9" stroke="#262626" stroke-width="0.6"/>
<text x="200.2" y="341" font-size="9.8">0.2</text>
<text x="125" y="413.6" font-size="12" text-anchor="middle" textLength="17.6" lengthAdjust="spacing" fill="#000" stroke="#000" stroke-width=".3">(b)</text>
<line x1="345.75" y1="231.75" x2="345.75" y2="369.15" stroke="#262626" stroke-width="0.9"/>
<line x1="345.35" y1="368.65" x2="482.65" y2="368.65" stroke="#262626" stroke-width="0.9"/>
<line x1="348.8" y1="368.65" x2="348.8" y2="367.15" stroke="#262626" stroke-width="0.7"/>
<line x1="345.75" y1="365.6" x2="347.25" y2="365.6" stroke="#262626" stroke-width="0.7"/>
<text x="348.8" y="381.9" font-size="10.1" text-anchor="middle">-6</text>
<text x="342" y="369.2" font-size="10.1" text-anchor="end">-6</text>
<line x1="370.6" y1="368.65" x2="370.6" y2="367.15" stroke="#262626" stroke-width="0.7"/>
<line x1="345.75" y1="343.8" x2="347.25" y2="343.8" stroke="#262626" stroke-width="0.7"/>
<text x="370.6" y="381.9" font-size="10.1" text-anchor="middle">-4</text>
<text x="342" y="347.4" font-size="10.1" text-anchor="end">-4</text>
<line x1="392.4" y1="368.65" x2="392.4" y2="367.15" stroke="#262626" stroke-width="0.7"/>
<line x1="345.75" y1="322" x2="347.25" y2="322" stroke="#262626" stroke-width="0.7"/>
<text x="392.4" y="381.9" font-size="10.1" text-anchor="middle">-2</text>
<text x="342" y="325.6" font-size="10.1" text-anchor="end">-2</text>
<line x1="414.2" y1="368.65" x2="414.2" y2="367.15" stroke="#262626" stroke-width="0.7"/>
<line x1="345.75" y1="300.2" x2="347.25" y2="300.2" stroke="#262626" stroke-width="0.7"/>
<text x="414.2" y="381.9" font-size="10.1" text-anchor="middle">0</text>
<text x="342" y="303.8" font-size="10.1" text-anchor="end">0</text>
<line x1="436" y1="368.65" x2="436" y2="367.15" stroke="#262626" stroke-width="0.7"/>
<line x1="345.75" y1="278.4" x2="347.25" y2="278.4" stroke="#262626" stroke-width="0.7"/>
<text x="436" y="381.9" font-size="10.1" text-anchor="middle">2</text>
<text x="342" y="282" font-size="10.1" text-anchor="end">2</text>
<line x1="457.8" y1="368.65" x2="457.8" y2="367.15" stroke="#262626" stroke-width="0.7"/>
<line x1="345.75" y1="256.6" x2="347.25" y2="256.6" stroke="#262626" stroke-width="0.7"/>
<text x="457.8" y="381.9" font-size="10.1" text-anchor="middle">4</text>
<text x="342" y="260.2" font-size="10.1" text-anchor="end">4</text>
<line x1="479.6" y1="368.65" x2="479.6" y2="367.15" stroke="#262626" stroke-width="0.7"/>
<line x1="345.75" y1="234.8" x2="347.25" y2="234.8" stroke="#262626" stroke-width="0.7"/>
<text x="479.6" y="381.9" font-size="10.1" text-anchor="middle">6</text>
<text x="342" y="238.4" font-size="10.1" text-anchor="end">6</text>
<text x="422" y="394.3" font-size="9.5" text-anchor="middle" textLength="52.2" lengthAdjust="spacing">X-axis [mm]</text>
<text x="326" y="302.6" font-size="9.5" text-anchor="middle" textLength="51.9" lengthAdjust="spacing" transform="rotate(-90 326 302.6)">Y-axis [mm]</text>
<text x="472.6" y="225.7" font-size="9" textLength="36.6" lengthAdjust="spacing" fill="#000" stroke="#000">Unit: μm</text>
<rect x="486.7" y="231.2" width="8.1" height="136.2" fill="url(#jet)"/>
<line x1="493.3" y1="243.2" x2="494.8" y2="243.2" stroke="#262626" stroke-width="0.6"/>
<text x="497.6" y="247.3" font-size="9.8">0.8</text>
<line x1="493.3" y1="274.2" x2="494.8" y2="274.2" stroke="#262626" stroke-width="0.6"/>
<text x="497.6" y="278.3" font-size="9.8">0.6</text>
<line x1="493.3" y1="305.2" x2="494.8" y2="305.2" stroke="#262626" stroke-width="0.6"/>
<text x="497.6" y="309.3" font-size="9.8">0.4</text>
<line x1="493.3" y1="336.4" x2="494.8" y2="336.4" stroke="#262626" stroke-width="0.6"/>
<text x="497.6" y="340.5" font-size="9.8">0.2</text>
<line x1="493.3" y1="367.2" x2="494.8" y2="367.2" stroke="#262626" stroke-width="0.6"/>
<text x="497.6" y="371.3" font-size="9.8">0</text>
<text x="422.3" y="413.6" font-size="12" text-anchor="middle" textLength="17.6" lengthAdjust="spacing" fill="#000" stroke="#000" stroke-width=".3">(c)</text>
</svg>
</div></body></html>
